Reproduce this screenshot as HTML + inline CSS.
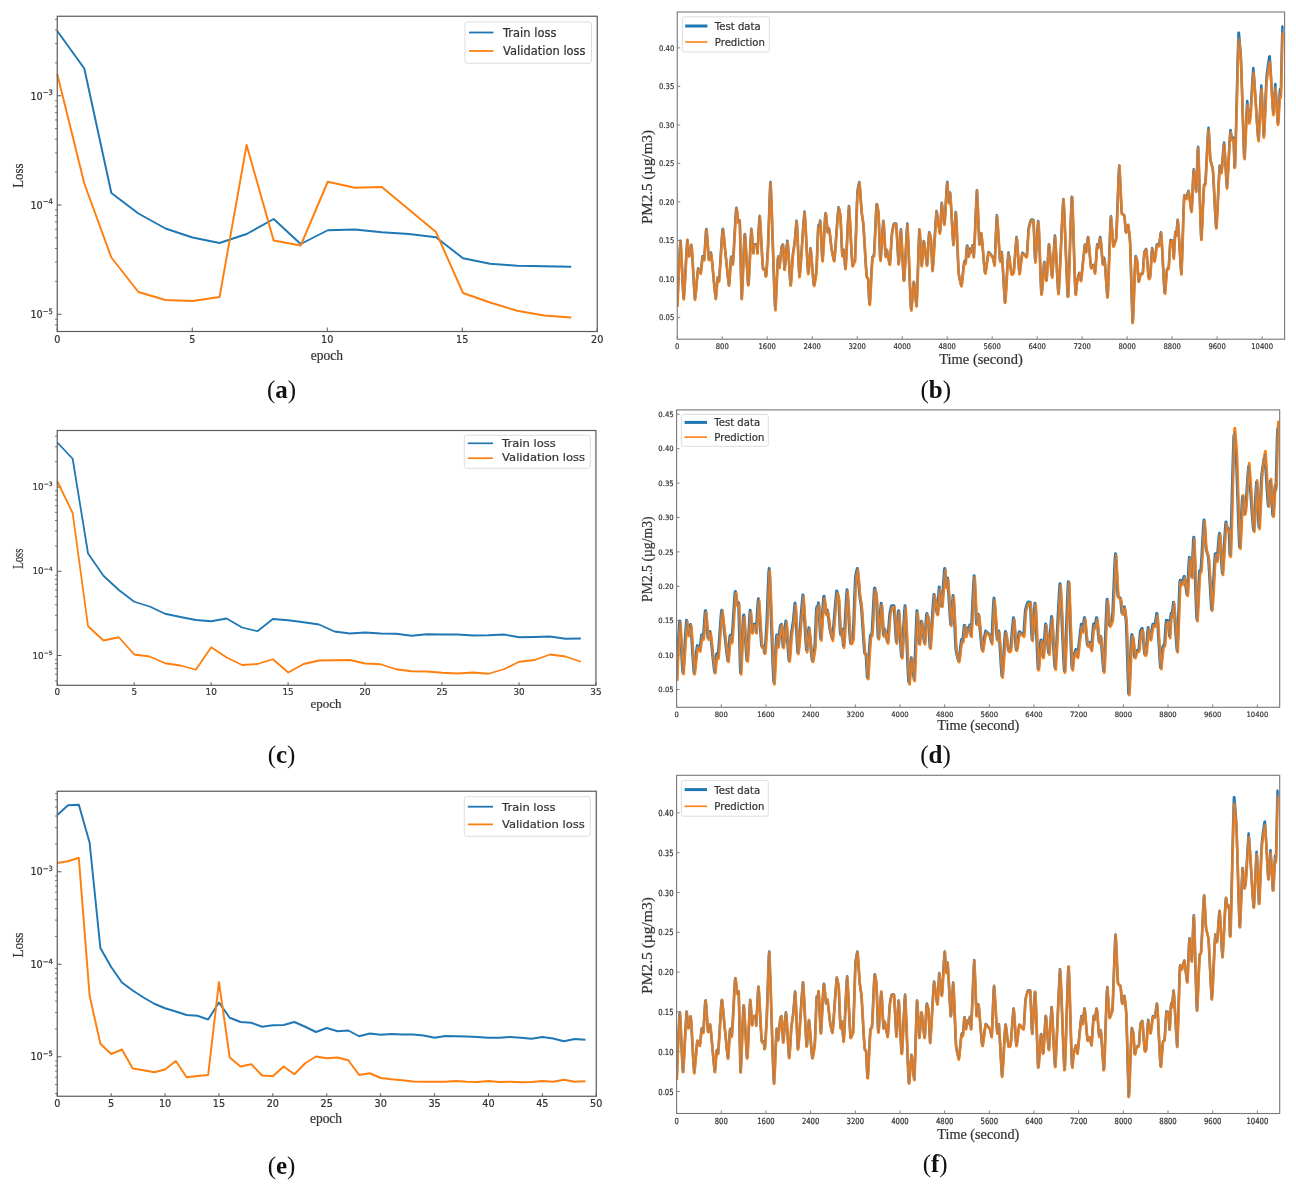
<!DOCTYPE html>
<html lang="en"><head><meta charset="utf-8"><title>Training loss and PM2.5 prediction</title>
<style>
html,body{margin:0;padding:0;background:#ffffff;}
body{width:1296px;height:1189px;overflow:hidden;}
svg{display:block;}
text{white-space:pre;}
</style></head>
<body>
<svg width="1296" height="1189" viewBox="0 0 1296 1189">
<rect x="0" y="0" width="1296" height="1189" fill="#ffffff"/>
<g>
<line x1="54.95" y1="324.84" x2="57.25" y2="324.84" stroke="#5a5a5a" stroke-width="0.8"/>
<line x1="54.95" y1="319.25" x2="57.25" y2="319.25" stroke="#5a5a5a" stroke-width="0.8"/>
<line x1="57.25" y1="314.25" x2="61.45" y2="314.25" stroke="#5a5a5a" stroke-width="1"/>
<text transform="translate(52.75,318.09) scale(1.000,1.100)" font-family="'DejaVu Sans','Liberation Sans',sans-serif" font-size="9.7" text-anchor="end" fill="#333333" stroke="#333333" stroke-width="0.22">10<tspan font-size="6.79" dy="-4.07">−5</tspan></text>
<line x1="54.95" y1="281.36" x2="57.25" y2="281.36" stroke="#5a5a5a" stroke-width="0.8"/>
<line x1="54.95" y1="262.12" x2="57.25" y2="262.12" stroke="#5a5a5a" stroke-width="0.8"/>
<line x1="54.95" y1="248.47" x2="57.25" y2="248.47" stroke="#5a5a5a" stroke-width="0.8"/>
<line x1="54.95" y1="237.89" x2="57.25" y2="237.89" stroke="#5a5a5a" stroke-width="0.8"/>
<line x1="54.95" y1="229.24" x2="57.25" y2="229.24" stroke="#5a5a5a" stroke-width="0.8"/>
<line x1="54.95" y1="221.92" x2="57.25" y2="221.92" stroke="#5a5a5a" stroke-width="0.8"/>
<line x1="54.95" y1="215.59" x2="57.25" y2="215.59" stroke="#5a5a5a" stroke-width="0.8"/>
<line x1="54.95" y1="210" x2="57.25" y2="210" stroke="#5a5a5a" stroke-width="0.8"/>
<line x1="57.25" y1="205" x2="61.45" y2="205" stroke="#5a5a5a" stroke-width="1"/>
<text transform="translate(52.75,208.84) scale(1.000,1.100)" font-family="'DejaVu Sans','Liberation Sans',sans-serif" font-size="9.7" text-anchor="end" fill="#333333" stroke="#333333" stroke-width="0.22">10<tspan font-size="6.79" dy="-4.07">−4</tspan></text>
<line x1="54.95" y1="172.11" x2="57.25" y2="172.11" stroke="#5a5a5a" stroke-width="0.8"/>
<line x1="54.95" y1="152.87" x2="57.25" y2="152.87" stroke="#5a5a5a" stroke-width="0.8"/>
<line x1="54.95" y1="139.22" x2="57.25" y2="139.22" stroke="#5a5a5a" stroke-width="0.8"/>
<line x1="54.95" y1="128.64" x2="57.25" y2="128.64" stroke="#5a5a5a" stroke-width="0.8"/>
<line x1="54.95" y1="119.99" x2="57.25" y2="119.99" stroke="#5a5a5a" stroke-width="0.8"/>
<line x1="54.95" y1="112.67" x2="57.25" y2="112.67" stroke="#5a5a5a" stroke-width="0.8"/>
<line x1="54.95" y1="106.34" x2="57.25" y2="106.34" stroke="#5a5a5a" stroke-width="0.8"/>
<line x1="54.95" y1="100.75" x2="57.25" y2="100.75" stroke="#5a5a5a" stroke-width="0.8"/>
<line x1="57.25" y1="95.75" x2="61.45" y2="95.75" stroke="#5a5a5a" stroke-width="1"/>
<text transform="translate(52.75,99.59) scale(1.000,1.100)" font-family="'DejaVu Sans','Liberation Sans',sans-serif" font-size="9.7" text-anchor="end" fill="#333333" stroke="#333333" stroke-width="0.22">10<tspan font-size="6.79" dy="-4.07">−3</tspan></text>
<line x1="54.95" y1="62.86" x2="57.25" y2="62.86" stroke="#5a5a5a" stroke-width="0.8"/>
<line x1="54.95" y1="43.62" x2="57.25" y2="43.62" stroke="#5a5a5a" stroke-width="0.8"/>
<line x1="54.95" y1="29.97" x2="57.25" y2="29.97" stroke="#5a5a5a" stroke-width="0.8"/>
<line x1="54.95" y1="19.39" x2="57.25" y2="19.39" stroke="#5a5a5a" stroke-width="0.8"/>
<line x1="57.25" y1="331.5" x2="57.25" y2="327.5" stroke="#5a5a5a" stroke-width="1"/>
<text transform="translate(57.25,343.4) scale(1.000,1.100)" font-family="'DejaVu Sans','Liberation Sans',sans-serif" font-size="9.7" text-anchor="middle" fill="#333333" stroke="#333333" stroke-width="0.22">0</text>
<line x1="192.25" y1="331.5" x2="192.25" y2="327.5" stroke="#5a5a5a" stroke-width="1"/>
<text transform="translate(192.25,343.4) scale(1.000,1.100)" font-family="'DejaVu Sans','Liberation Sans',sans-serif" font-size="9.7" text-anchor="middle" fill="#333333" stroke="#333333" stroke-width="0.22">5</text>
<line x1="327.25" y1="331.5" x2="327.25" y2="327.5" stroke="#5a5a5a" stroke-width="1"/>
<text transform="translate(327.25,343.4) scale(1.000,1.100)" font-family="'DejaVu Sans','Liberation Sans',sans-serif" font-size="9.7" text-anchor="middle" fill="#333333" stroke="#333333" stroke-width="0.22">10</text>
<line x1="462.25" y1="331.5" x2="462.25" y2="327.5" stroke="#5a5a5a" stroke-width="1"/>
<text transform="translate(462.25,343.4) scale(1.000,1.100)" font-family="'DejaVu Sans','Liberation Sans',sans-serif" font-size="9.7" text-anchor="middle" fill="#333333" stroke="#333333" stroke-width="0.22">15</text>
<line x1="597.25" y1="331.5" x2="597.25" y2="327.5" stroke="#5a5a5a" stroke-width="1"/>
<text transform="translate(597.25,343.4) scale(1.000,1.100)" font-family="'DejaVu Sans','Liberation Sans',sans-serif" font-size="9.7" text-anchor="middle" fill="#333333" stroke="#333333" stroke-width="0.22">20</text>
<polyline points="57.25,31 84.3,68.5 111.35,193 138.4,213.5 165.45,228.5 192.5,237.5 219.55,243 246.6,234 273.65,219 300.7,244 327.75,230.25 354.8,229.5 381.85,232.25 408.9,234 435.95,237.25 463,258.25 490.05,263.75 517.1,265.75 544.15,266.25 571.2,266.75" fill="none" stroke="#1f77b4" stroke-width="1.95" stroke-linejoin="round" stroke-linecap="butt"/>
<polyline points="57.25,74 84.3,183.5 111.35,257.5 138.4,292 165.45,300 192.5,301 219.55,297 246.6,145 273.65,240.5 300.7,245.5 327.75,181.75 354.8,187.75 381.85,187 408.9,209.5 435.95,232 463,293 490.05,302.5 517.1,310.75 544.15,315.5 571.2,317.5" fill="none" stroke="#ff7f0e" stroke-width="1.95" stroke-linejoin="round" stroke-linecap="butt"/>
<rect x="57.25" y="16.25" width="540" height="315.25" fill="none" stroke="#5a5a5a" stroke-width="1.2"/>
<rect x="465" y="22" width="126.5" height="41.25" rx="2" ry="2" fill="#ffffff" fill-opacity="0.8" stroke="#d4d4d4" stroke-width="0.8"/>
<line x1="469" y1="32.5" x2="493.5" y2="32.5" stroke="#1f77b4" stroke-width="1.8"/>
<text transform="translate(503,32.5) scale(1.000,1.050)" font-family="'DejaVu Sans','Liberation Sans',sans-serif" font-size="11.5" text-anchor="start" fill="#333333" stroke="#333333" stroke-width="0.22" dominant-baseline="central">Train loss</text>
<line x1="469" y1="51" x2="493.5" y2="51" stroke="#ff7f0e" stroke-width="1.8"/>
<text transform="translate(503,51) scale(1.000,1.050)" font-family="'DejaVu Sans','Liberation Sans',sans-serif" font-size="11.5" text-anchor="start" fill="#333333" stroke="#333333" stroke-width="0.22" dominant-baseline="central">Validation loss</text>
<text transform="translate(326.8,359.5) scale(0.900,1.000)" font-family="'Liberation Serif','DejaVu Serif',serif" font-size="15" text-anchor="middle" fill="#333333" stroke="#333333" stroke-width="0.22">epoch</text>
<text transform="translate(22.5,175.7) rotate(-90) scale(0.830,1.000)" font-family="'Liberation Serif','DejaVu Serif',serif" font-size="15.5" text-anchor="middle" fill="#333333" stroke="#333333" stroke-width="0.22">Loss</text>
<line x1="54.95" y1="680.86" x2="57.25" y2="680.86" stroke="#5a5a5a" stroke-width="0.8"/>
<line x1="54.95" y1="674.19" x2="57.25" y2="674.19" stroke="#5a5a5a" stroke-width="0.8"/>
<line x1="54.95" y1="668.55" x2="57.25" y2="668.55" stroke="#5a5a5a" stroke-width="0.8"/>
<line x1="54.95" y1="663.66" x2="57.25" y2="663.66" stroke="#5a5a5a" stroke-width="0.8"/>
<line x1="54.95" y1="659.36" x2="57.25" y2="659.36" stroke="#5a5a5a" stroke-width="0.8"/>
<line x1="57.25" y1="655.5" x2="61.45" y2="655.5" stroke="#5a5a5a" stroke-width="1"/>
<text transform="translate(52.75,658.51) scale(0.950,0.900)" font-family="'DejaVu Sans','Liberation Sans',sans-serif" font-size="9.3" text-anchor="end" fill="#333333" stroke="#333333" stroke-width="0.22">10<tspan font-size="6.51" dy="-3.91">−5</tspan></text>
<line x1="54.95" y1="630.14" x2="57.25" y2="630.14" stroke="#5a5a5a" stroke-width="0.8"/>
<line x1="54.95" y1="615.3" x2="57.25" y2="615.3" stroke="#5a5a5a" stroke-width="0.8"/>
<line x1="54.95" y1="604.78" x2="57.25" y2="604.78" stroke="#5a5a5a" stroke-width="0.8"/>
<line x1="54.95" y1="596.61" x2="57.25" y2="596.61" stroke="#5a5a5a" stroke-width="0.8"/>
<line x1="54.95" y1="589.94" x2="57.25" y2="589.94" stroke="#5a5a5a" stroke-width="0.8"/>
<line x1="54.95" y1="584.3" x2="57.25" y2="584.3" stroke="#5a5a5a" stroke-width="0.8"/>
<line x1="54.95" y1="579.41" x2="57.25" y2="579.41" stroke="#5a5a5a" stroke-width="0.8"/>
<line x1="54.95" y1="575.11" x2="57.25" y2="575.11" stroke="#5a5a5a" stroke-width="0.8"/>
<line x1="57.25" y1="571.25" x2="61.45" y2="571.25" stroke="#5a5a5a" stroke-width="1"/>
<text transform="translate(52.75,574.26) scale(0.950,0.900)" font-family="'DejaVu Sans','Liberation Sans',sans-serif" font-size="9.3" text-anchor="end" fill="#333333" stroke="#333333" stroke-width="0.22">10<tspan font-size="6.51" dy="-3.91">−4</tspan></text>
<line x1="54.95" y1="545.89" x2="57.25" y2="545.89" stroke="#5a5a5a" stroke-width="0.8"/>
<line x1="54.95" y1="531.05" x2="57.25" y2="531.05" stroke="#5a5a5a" stroke-width="0.8"/>
<line x1="54.95" y1="520.53" x2="57.25" y2="520.53" stroke="#5a5a5a" stroke-width="0.8"/>
<line x1="54.95" y1="512.36" x2="57.25" y2="512.36" stroke="#5a5a5a" stroke-width="0.8"/>
<line x1="54.95" y1="505.69" x2="57.25" y2="505.69" stroke="#5a5a5a" stroke-width="0.8"/>
<line x1="54.95" y1="500.05" x2="57.25" y2="500.05" stroke="#5a5a5a" stroke-width="0.8"/>
<line x1="54.95" y1="495.16" x2="57.25" y2="495.16" stroke="#5a5a5a" stroke-width="0.8"/>
<line x1="54.95" y1="490.86" x2="57.25" y2="490.86" stroke="#5a5a5a" stroke-width="0.8"/>
<line x1="57.25" y1="487" x2="61.45" y2="487" stroke="#5a5a5a" stroke-width="1"/>
<text transform="translate(52.75,490.01) scale(0.950,0.900)" font-family="'DejaVu Sans','Liberation Sans',sans-serif" font-size="9.3" text-anchor="end" fill="#333333" stroke="#333333" stroke-width="0.22">10<tspan font-size="6.51" dy="-3.91">−3</tspan></text>
<line x1="54.95" y1="461.64" x2="57.25" y2="461.64" stroke="#5a5a5a" stroke-width="0.8"/>
<line x1="54.95" y1="446.8" x2="57.25" y2="446.8" stroke="#5a5a5a" stroke-width="0.8"/>
<line x1="54.95" y1="436.28" x2="57.25" y2="436.28" stroke="#5a5a5a" stroke-width="0.8"/>
<line x1="57.25" y1="685.3" x2="57.25" y2="682.3" stroke="#5a5a5a" stroke-width="1"/>
<text transform="translate(57.25,695.39) scale(0.950,0.900)" font-family="'DejaVu Sans','Liberation Sans',sans-serif" font-size="9.3" text-anchor="middle" fill="#333333" stroke="#333333" stroke-width="0.22">0</text>
<line x1="134.21" y1="685.3" x2="134.21" y2="682.3" stroke="#5a5a5a" stroke-width="1"/>
<text transform="translate(134.21,695.39) scale(0.950,0.900)" font-family="'DejaVu Sans','Liberation Sans',sans-serif" font-size="9.3" text-anchor="middle" fill="#333333" stroke="#333333" stroke-width="0.22">5</text>
<line x1="211.16" y1="685.3" x2="211.16" y2="682.3" stroke="#5a5a5a" stroke-width="1"/>
<text transform="translate(211.16,695.39) scale(0.950,0.900)" font-family="'DejaVu Sans','Liberation Sans',sans-serif" font-size="9.3" text-anchor="middle" fill="#333333" stroke="#333333" stroke-width="0.22">10</text>
<line x1="288.12" y1="685.3" x2="288.12" y2="682.3" stroke="#5a5a5a" stroke-width="1"/>
<text transform="translate(288.12,695.39) scale(0.950,0.900)" font-family="'DejaVu Sans','Liberation Sans',sans-serif" font-size="9.3" text-anchor="middle" fill="#333333" stroke="#333333" stroke-width="0.22">15</text>
<line x1="365.08" y1="685.3" x2="365.08" y2="682.3" stroke="#5a5a5a" stroke-width="1"/>
<text transform="translate(365.08,695.39) scale(0.950,0.900)" font-family="'DejaVu Sans','Liberation Sans',sans-serif" font-size="9.3" text-anchor="middle" fill="#333333" stroke="#333333" stroke-width="0.22">20</text>
<line x1="442.04" y1="685.3" x2="442.04" y2="682.3" stroke="#5a5a5a" stroke-width="1"/>
<text transform="translate(442.04,695.39) scale(0.950,0.900)" font-family="'DejaVu Sans','Liberation Sans',sans-serif" font-size="9.3" text-anchor="middle" fill="#333333" stroke="#333333" stroke-width="0.22">25</text>
<line x1="518.99" y1="685.3" x2="518.99" y2="682.3" stroke="#5a5a5a" stroke-width="1"/>
<text transform="translate(518.99,695.39) scale(0.950,0.900)" font-family="'DejaVu Sans','Liberation Sans',sans-serif" font-size="9.3" text-anchor="middle" fill="#333333" stroke="#333333" stroke-width="0.22">30</text>
<line x1="595.95" y1="685.3" x2="595.95" y2="682.3" stroke="#5a5a5a" stroke-width="1"/>
<text transform="translate(595.95,695.39) scale(0.950,0.900)" font-family="'DejaVu Sans','Liberation Sans',sans-serif" font-size="9.3" text-anchor="middle" fill="#333333" stroke="#333333" stroke-width="0.22">35</text>
<polyline points="57.25,442.5 72.65,458.75 88.05,553.5 103.45,575.75 118.85,590 134.25,601.75 149.65,606.5 165.05,613.75 180.45,617 195.85,620 211.25,621.25 226.65,618.5 242.05,627.5 257.45,631.25 272.85,619 288.25,620.25 303.65,622.25 319.05,624.5 334.45,631.5 349.85,633.5 365.25,632.5 380.65,633.5 396.05,633.75 411.45,635.75 426.85,634.25 442.25,634.5 457.65,634.5 473.05,635.5 488.45,635.25 503.85,634.5 519.25,637.25 534.65,637 550.05,636.5 565.45,638.75 580.85,638.5" fill="none" stroke="#1f77b4" stroke-width="1.8" stroke-linejoin="round" stroke-linecap="butt"/>
<polyline points="57.25,481.25 72.65,513 88.05,626.25 103.45,640.5 118.85,637.25 134.25,654.5 149.65,656.5 165.05,663.25 180.45,665.5 195.85,669.75 211.25,647.25 226.65,657.5 242.05,665 257.45,664 272.85,659.25 288.25,672.5 303.65,664 319.05,660.5 334.45,660.25 349.85,660 365.25,663.5 380.65,664.25 396.05,669.25 411.45,671.25 426.85,671.5 442.25,672.75 457.65,673.5 473.05,672.5 488.45,673.75 503.85,669.25 519.25,661.75 534.65,660 550.05,654.5 565.45,656.5 580.85,661.75" fill="none" stroke="#ff7f0e" stroke-width="1.8" stroke-linejoin="round" stroke-linecap="butt"/>
<rect x="57.25" y="430.5" width="538.7" height="254.8" fill="none" stroke="#5a5a5a" stroke-width="1.2"/>
<rect x="464.3" y="435.3" width="126" height="33" rx="2" ry="2" fill="#ffffff" fill-opacity="0.8" stroke="#d4d4d4" stroke-width="0.8"/>
<line x1="467.8" y1="443.3" x2="493" y2="443.3" stroke="#1f77b4" stroke-width="1.7"/>
<text transform="translate(502.1,443.3) scale(1.000,0.870)" font-family="'DejaVu Sans','Liberation Sans',sans-serif" font-size="11.55" text-anchor="start" fill="#333333" stroke="#333333" stroke-width="0.22" dominant-baseline="central">Train loss</text>
<line x1="467.8" y1="458.2" x2="493" y2="458.2" stroke="#ff7f0e" stroke-width="1.7"/>
<text transform="translate(502.1,458.2) scale(1.000,0.870)" font-family="'DejaVu Sans','Liberation Sans',sans-serif" font-size="11.55" text-anchor="start" fill="#333333" stroke="#333333" stroke-width="0.22" dominant-baseline="central">Validation loss</text>
<text transform="translate(326,707.5) scale(1.000,0.930)" font-family="'Liberation Serif','DejaVu Serif',serif" font-size="13" text-anchor="middle" fill="#333333" stroke="#333333" stroke-width="0.22">epoch</text>
<text transform="translate(22.5,558.75) rotate(-90) scale(0.690,1.000)" font-family="'Liberation Serif','DejaVu Serif',serif" font-size="15.5" text-anchor="middle" fill="#333333" stroke="#333333" stroke-width="0.22">Loss</text>
<line x1="54.95" y1="1093.56" x2="57.25" y2="1093.56" stroke="#5a5a5a" stroke-width="0.8"/>
<line x1="54.95" y1="1084.6" x2="57.25" y2="1084.6" stroke="#5a5a5a" stroke-width="0.8"/>
<line x1="54.95" y1="1077.27" x2="57.25" y2="1077.27" stroke="#5a5a5a" stroke-width="0.8"/>
<line x1="54.95" y1="1071.08" x2="57.25" y2="1071.08" stroke="#5a5a5a" stroke-width="0.8"/>
<line x1="54.95" y1="1065.71" x2="57.25" y2="1065.71" stroke="#5a5a5a" stroke-width="0.8"/>
<line x1="54.95" y1="1060.98" x2="57.25" y2="1060.98" stroke="#5a5a5a" stroke-width="0.8"/>
<line x1="57.25" y1="1056.75" x2="61.45" y2="1056.75" stroke="#5a5a5a" stroke-width="1"/>
<text transform="translate(52.75,1060.42) scale(1.000,1.050)" font-family="'DejaVu Sans','Liberation Sans',sans-serif" font-size="9.7" text-anchor="end" fill="#333333" stroke="#333333" stroke-width="0.22">10<tspan font-size="6.79" dy="-4.07">−5</tspan></text>
<line x1="54.95" y1="1028.9" x2="57.25" y2="1028.9" stroke="#5a5a5a" stroke-width="0.8"/>
<line x1="54.95" y1="1012.62" x2="57.25" y2="1012.62" stroke="#5a5a5a" stroke-width="0.8"/>
<line x1="54.95" y1="1001.06" x2="57.25" y2="1001.06" stroke="#5a5a5a" stroke-width="0.8"/>
<line x1="54.95" y1="992.1" x2="57.25" y2="992.1" stroke="#5a5a5a" stroke-width="0.8"/>
<line x1="54.95" y1="984.77" x2="57.25" y2="984.77" stroke="#5a5a5a" stroke-width="0.8"/>
<line x1="54.95" y1="978.58" x2="57.25" y2="978.58" stroke="#5a5a5a" stroke-width="0.8"/>
<line x1="54.95" y1="973.21" x2="57.25" y2="973.21" stroke="#5a5a5a" stroke-width="0.8"/>
<line x1="54.95" y1="968.48" x2="57.25" y2="968.48" stroke="#5a5a5a" stroke-width="0.8"/>
<line x1="57.25" y1="964.25" x2="61.45" y2="964.25" stroke="#5a5a5a" stroke-width="1"/>
<text transform="translate(52.75,967.92) scale(1.000,1.050)" font-family="'DejaVu Sans','Liberation Sans',sans-serif" font-size="9.7" text-anchor="end" fill="#333333" stroke="#333333" stroke-width="0.22">10<tspan font-size="6.79" dy="-4.07">−4</tspan></text>
<line x1="54.95" y1="936.4" x2="57.25" y2="936.4" stroke="#5a5a5a" stroke-width="0.8"/>
<line x1="54.95" y1="920.12" x2="57.25" y2="920.12" stroke="#5a5a5a" stroke-width="0.8"/>
<line x1="54.95" y1="908.56" x2="57.25" y2="908.56" stroke="#5a5a5a" stroke-width="0.8"/>
<line x1="54.95" y1="899.6" x2="57.25" y2="899.6" stroke="#5a5a5a" stroke-width="0.8"/>
<line x1="54.95" y1="892.27" x2="57.25" y2="892.27" stroke="#5a5a5a" stroke-width="0.8"/>
<line x1="54.95" y1="886.08" x2="57.25" y2="886.08" stroke="#5a5a5a" stroke-width="0.8"/>
<line x1="54.95" y1="880.71" x2="57.25" y2="880.71" stroke="#5a5a5a" stroke-width="0.8"/>
<line x1="54.95" y1="875.98" x2="57.25" y2="875.98" stroke="#5a5a5a" stroke-width="0.8"/>
<line x1="57.25" y1="871.75" x2="61.45" y2="871.75" stroke="#5a5a5a" stroke-width="1"/>
<text transform="translate(52.75,875.42) scale(1.000,1.050)" font-family="'DejaVu Sans','Liberation Sans',sans-serif" font-size="9.7" text-anchor="end" fill="#333333" stroke="#333333" stroke-width="0.22">10<tspan font-size="6.79" dy="-4.07">−3</tspan></text>
<line x1="54.95" y1="843.9" x2="57.25" y2="843.9" stroke="#5a5a5a" stroke-width="0.8"/>
<line x1="54.95" y1="827.62" x2="57.25" y2="827.62" stroke="#5a5a5a" stroke-width="0.8"/>
<line x1="54.95" y1="816.06" x2="57.25" y2="816.06" stroke="#5a5a5a" stroke-width="0.8"/>
<line x1="54.95" y1="807.1" x2="57.25" y2="807.1" stroke="#5a5a5a" stroke-width="0.8"/>
<line x1="54.95" y1="799.77" x2="57.25" y2="799.77" stroke="#5a5a5a" stroke-width="0.8"/>
<line x1="54.95" y1="793.58" x2="57.25" y2="793.58" stroke="#5a5a5a" stroke-width="0.8"/>
<line x1="57.25" y1="1096.25" x2="57.25" y2="1093.25" stroke="#5a5a5a" stroke-width="1"/>
<text transform="translate(57.25,1107.49) scale(1.000,1.050)" font-family="'DejaVu Sans','Liberation Sans',sans-serif" font-size="9.7" text-anchor="middle" fill="#333333" stroke="#333333" stroke-width="0.22">0</text>
<line x1="111.15" y1="1096.25" x2="111.15" y2="1093.25" stroke="#5a5a5a" stroke-width="1"/>
<text transform="translate(111.15,1107.49) scale(1.000,1.050)" font-family="'DejaVu Sans','Liberation Sans',sans-serif" font-size="9.7" text-anchor="middle" fill="#333333" stroke="#333333" stroke-width="0.22">5</text>
<line x1="165.05" y1="1096.25" x2="165.05" y2="1093.25" stroke="#5a5a5a" stroke-width="1"/>
<text transform="translate(165.05,1107.49) scale(1.000,1.050)" font-family="'DejaVu Sans','Liberation Sans',sans-serif" font-size="9.7" text-anchor="middle" fill="#333333" stroke="#333333" stroke-width="0.22">10</text>
<line x1="218.95" y1="1096.25" x2="218.95" y2="1093.25" stroke="#5a5a5a" stroke-width="1"/>
<text transform="translate(218.95,1107.49) scale(1.000,1.050)" font-family="'DejaVu Sans','Liberation Sans',sans-serif" font-size="9.7" text-anchor="middle" fill="#333333" stroke="#333333" stroke-width="0.22">15</text>
<line x1="272.85" y1="1096.25" x2="272.85" y2="1093.25" stroke="#5a5a5a" stroke-width="1"/>
<text transform="translate(272.85,1107.49) scale(1.000,1.050)" font-family="'DejaVu Sans','Liberation Sans',sans-serif" font-size="9.7" text-anchor="middle" fill="#333333" stroke="#333333" stroke-width="0.22">20</text>
<line x1="326.75" y1="1096.25" x2="326.75" y2="1093.25" stroke="#5a5a5a" stroke-width="1"/>
<text transform="translate(326.75,1107.49) scale(1.000,1.050)" font-family="'DejaVu Sans','Liberation Sans',sans-serif" font-size="9.7" text-anchor="middle" fill="#333333" stroke="#333333" stroke-width="0.22">25</text>
<line x1="380.65" y1="1096.25" x2="380.65" y2="1093.25" stroke="#5a5a5a" stroke-width="1"/>
<text transform="translate(380.65,1107.49) scale(1.000,1.050)" font-family="'DejaVu Sans','Liberation Sans',sans-serif" font-size="9.7" text-anchor="middle" fill="#333333" stroke="#333333" stroke-width="0.22">30</text>
<line x1="434.55" y1="1096.25" x2="434.55" y2="1093.25" stroke="#5a5a5a" stroke-width="1"/>
<text transform="translate(434.55,1107.49) scale(1.000,1.050)" font-family="'DejaVu Sans','Liberation Sans',sans-serif" font-size="9.7" text-anchor="middle" fill="#333333" stroke="#333333" stroke-width="0.22">35</text>
<line x1="488.45" y1="1096.25" x2="488.45" y2="1093.25" stroke="#5a5a5a" stroke-width="1"/>
<text transform="translate(488.45,1107.49) scale(1.000,1.050)" font-family="'DejaVu Sans','Liberation Sans',sans-serif" font-size="9.7" text-anchor="middle" fill="#333333" stroke="#333333" stroke-width="0.22">40</text>
<line x1="542.35" y1="1096.25" x2="542.35" y2="1093.25" stroke="#5a5a5a" stroke-width="1"/>
<text transform="translate(542.35,1107.49) scale(1.000,1.050)" font-family="'DejaVu Sans','Liberation Sans',sans-serif" font-size="9.7" text-anchor="middle" fill="#333333" stroke="#333333" stroke-width="0.22">45</text>
<line x1="596.25" y1="1096.25" x2="596.25" y2="1093.25" stroke="#5a5a5a" stroke-width="1"/>
<text transform="translate(596.25,1107.49) scale(1.000,1.050)" font-family="'DejaVu Sans','Liberation Sans',sans-serif" font-size="9.7" text-anchor="middle" fill="#333333" stroke="#333333" stroke-width="0.22">50</text>
<polyline points="57.25,815 68.03,805.25 78.81,804.75 89.59,842.5 100.37,948 111.15,967 121.93,982.5 132.71,990.5 143.49,997.5 154.27,1003.75 165.05,1008.25 175.83,1011.5 186.61,1015 197.39,1015.75 208.17,1019.5 218.95,1002.5 229.73,1017.75 240.51,1022 251.29,1022.75 262.07,1026.75 272.85,1025.25 283.63,1025 294.41,1022 305.19,1026.75 315.97,1032 326.75,1028 337.53,1031.25 348.31,1030.5 359.09,1036.25 369.87,1033.5 380.65,1034.75 391.43,1034 402.21,1034.5 412.99,1034.5 423.77,1035.5 434.55,1037.75 445.33,1036 456.11,1036.25 466.89,1036.5 477.67,1037 488.45,1037.75 499.23,1037.75 510.01,1037 520.79,1037.75 531.57,1038.75 542.35,1037 553.13,1038.5 563.91,1041.25 574.69,1039 585.47,1039.75" fill="none" stroke="#1f77b4" stroke-width="1.95" stroke-linejoin="round" stroke-linecap="butt"/>
<polyline points="57.25,863 68.03,861.25 78.81,857.75 89.59,995.5 100.37,1043.75 111.15,1054 121.93,1049.5 132.71,1068.5 143.49,1070.25 154.27,1072.25 165.05,1069.5 175.83,1061 186.61,1077.25 197.39,1076 208.17,1075 218.95,982 229.73,1057.5 240.51,1066.5 251.29,1064.25 262.07,1075.5 272.85,1076.25 283.63,1066.5 294.41,1074.25 305.19,1063.25 315.97,1056.5 326.75,1058.25 337.53,1057.5 348.31,1060.25 359.09,1075 369.87,1073.25 380.65,1078 391.43,1079.25 402.21,1080.25 412.99,1081.5 423.77,1081.75 434.55,1081.75 445.33,1081.75 456.11,1081 466.89,1081.75 477.67,1082 488.45,1081 499.23,1082 510.01,1081.75 520.79,1082.25 531.57,1082 542.35,1081 553.13,1081.75 563.91,1079.75 574.69,1081.75 585.47,1081.25" fill="none" stroke="#ff7f0e" stroke-width="1.95" stroke-linejoin="round" stroke-linecap="butt"/>
<rect x="57.25" y="791.25" width="539" height="305" fill="none" stroke="#5a5a5a" stroke-width="1.2"/>
<rect x="464.3" y="796.7" width="126" height="39.55" rx="2" ry="2" fill="#ffffff" fill-opacity="0.8" stroke="#d4d4d4" stroke-width="0.8"/>
<line x1="467.8" y1="806.7" x2="493" y2="806.7" stroke="#1f77b4" stroke-width="1.8"/>
<text transform="translate(502.1,806.7) scale(1.000,0.980)" font-family="'DejaVu Sans','Liberation Sans',sans-serif" font-size="11.5" text-anchor="start" fill="#333333" stroke="#333333" stroke-width="0.22" dominant-baseline="central">Train loss</text>
<line x1="467.8" y1="824.4" x2="493" y2="824.4" stroke="#ff7f0e" stroke-width="1.8"/>
<text transform="translate(502.1,824.4) scale(1.000,0.980)" font-family="'DejaVu Sans','Liberation Sans',sans-serif" font-size="11.5" text-anchor="start" fill="#333333" stroke="#333333" stroke-width="0.22" dominant-baseline="central">Validation loss</text>
<text transform="translate(326,1123) scale(0.900,1.000)" font-family="'Liberation Serif','DejaVu Serif',serif" font-size="15" text-anchor="middle" fill="#333333" stroke="#333333" stroke-width="0.22">epoch</text>
<text transform="translate(22.5,945) rotate(-90) scale(0.850,1.000)" font-family="'Liberation Serif','DejaVu Serif',serif" font-size="15.5" text-anchor="middle" fill="#333333" stroke="#333333" stroke-width="0.22">Loss</text>
<clipPath id="c12"><rect x="677.25" y="12" width="607.35" height="327.2"/></clipPath>
<polyline points="677.3,306.1 677.7,295.38 678.1,285.24 678.5,275.71 678.9,266.8 679.3,258.54 679.7,250.94 680.1,244.03 680.5,240.68 680.9,247.11 681.3,254.71 681.7,263.06 682.1,271.72 682.5,280.28 682.9,288.31 683.3,295.38 683.7,298.63 684.1,293.24 684.5,286.93 684.9,279.97 685.3,272.64 685.7,265.21 686.1,257.94 686.5,251.12 686.9,245.02 687.3,239.9 687.7,243.41 688.1,247.83 688.5,252.34 688.9,256.15 689.3,255.64 689.7,253.55 690.1,251.2 690.5,248.8 690.9,246.56 691.3,244.69 691.7,247.94 692.1,253.7 692.5,260.24 692.9,267.25 693.3,274.45 693.7,281.54 694.1,288.23 694.5,294.21 694.9,299.2 695.3,296.1 695.7,292.34 696.1,288.16 696.5,283.75 696.9,279.34 697.3,275.16 697.7,271.4 698.1,268.3 698.5,268.96 698.9,269.78 699.3,270.69 699.7,271.6 700.1,272.44 700.5,273.15 700.9,271.08 701.3,267.35 701.7,263.26 702.1,259.39 702.5,256.3 702.9,257.35 703.3,258.67 703.7,259.95 704.1,259.63 704.5,254.4 704.9,248.15 705.3,241.5 705.7,235.09 706.1,229.55 706.5,229.19 706.9,233.76 707.3,239.06 707.7,244.71 708.1,250.31 708.5,255.47 708.9,259.79 709.3,259.63 709.7,257.83 710.1,255.86 710.5,253.99 710.9,252.5 711.3,255.45 711.7,258.89 712.1,262.71 712.5,266.81 712.9,271.11 713.3,275.5 713.7,279.89 714.1,284.19 714.5,288.29 714.9,292.11 715.3,295.55 715.7,298.5 716.1,294.61 716.5,289.74 716.9,284.59 717.3,279.89 717.7,277.32 718.1,278.5 718.5,279.82 718.9,280.9 719.3,276.45 719.7,271.16 720.1,265.25 720.5,258.95 720.9,252.48 721.3,246.06 721.7,239.93 722.1,234.3 722.5,229.4 722.9,228.71 723.3,231.92 723.7,235.55 724.1,239.49 724.5,243.61 724.9,247.81 725.3,251.96 725.7,255.94 726.1,259.71 726.5,263.6 726.9,267.58 727.3,271.54 727.7,275.39 728.1,279.02 728.5,282.34 728.9,285.25 729.3,282.38 729.7,276.5 730.1,269.97 730.5,263.54 730.9,257.94 731.3,256.64 731.7,259.06 732.1,261.74 732.5,264.16 732.9,262.66 733.3,256.96 733.7,250.39 734.1,243.24 734.5,235.8 734.9,228.36 735.3,221.21 735.7,214.64 736.1,208.94 736.5,207.72 736.9,210.76 737.3,214.25 737.7,217.8 738.1,220.99 738.5,222.75 738.9,221.98 739.3,221.11 739.7,220.4 740.1,234.93 740.5,253.16 740.9,272.4 741.3,289.95 741.7,298.79 742.1,291.21 742.5,282.24 742.9,272.4 743.3,262.23 743.7,252.26 744.1,243.03 744.5,235.05 744.9,234.01 745.3,239.41 745.7,245.63 746.1,252.4 746.5,259.45 746.9,266.5 747.3,273.27 747.7,279.49 748.1,284.89 748.5,284.28 748.9,277.33 749.3,269.27 749.7,260.58 750.1,251.71 750.5,243.14 750.9,235.31 751.3,228.71 751.7,230.98 752.1,237.19 752.5,243.91 752.9,250.12 753.3,253.06 753.7,249.05 754.1,245.04 754.5,244.3 754.9,244.3 755.3,244.3 755.7,244.3 756.1,244.3 756.5,244.3 756.9,247.04 757.3,253.1 757.7,247.5 758.1,240.54 758.5,232.94 758.9,225.43 759.3,218.74 759.7,215.87 760.1,221.3 760.5,227.7 760.9,234.74 761.3,242.1 761.7,249.46 762.1,256.5 762.5,262.9 762.9,268.33 763.3,269.42 763.7,269.29 764.1,269.15 764.5,269.01 764.9,268.9 765.3,272.29 765.7,276.19 766.1,275.49 766.5,270.31 766.9,264.37 767.3,257.98 767.7,251.43 768.1,243.05 768.5,231.83 768.9,219.9 769.3,207.92 769.7,196.55 770.1,186.45 770.5,182.06 770.9,190.85 771.3,200.94 771.7,212.05 772.1,223.91 772.5,236.25 772.9,248.79 773.3,261.27 773.7,273.4 774.1,284.92 774.5,295.55 774.9,305.02 775.3,309.75 775.7,302.86 776.1,294.66 776.5,285.73 776.9,276.65 777.3,268.01 777.7,260.39 778.1,256.52 778.5,260.84 778.9,265.58 779.3,267.76 779.7,264.73 780.1,261.12 780.5,257.22 780.9,253.29 781.3,249.59 781.7,246.39 782.1,245.32 782.5,244.86 782.9,244.48 783.3,248.71 783.7,256.03 784.1,263.57 784.5,269.6 784.9,266.28 785.3,262.23 785.7,257.72 786.1,253.04 786.5,248.47 786.9,244.27 787.3,240.75 787.7,243.36 788.1,248.74 788.5,254.84 788.9,261.35 789.3,267.94 789.7,274.28 790.1,280.06 790.5,284.95 790.9,282.57 791.3,277.02 791.7,270.81 792.1,264.44 792.5,258.42 792.9,254.15 793.3,251.23 793.7,248.44 794.1,245.68 794.5,242.84 794.9,239.5 795.3,234.68 795.7,229.6 796.1,224.75 796.5,220.65 796.9,224.71 797.3,232.67 797.7,241.7 798.1,251.18 798.5,260.51 798.9,269.08 799.3,276.29 799.7,274.88 800.1,270.42 800.5,265.43 800.9,260.03 801.3,254.32 801.7,248.43 802.1,242.46 802.5,236.54 802.9,230.78 803.3,225.28 803.7,220.18 804.1,215.58 804.5,211.6 804.9,216.99 805.3,223.42 805.7,230.61 806.1,238.26 806.5,246.09 806.9,253.81 807.3,261.14 807.7,267.79 808.1,273.47 808.5,271.91 808.9,267.29 809.3,262.11 809.7,256.87 810.1,252.06 810.5,248.2 810.9,251.75 811.3,256.01 811.7,260.78 812.1,265.82 812.5,270.92 812.9,275.85 813.3,280.4 813.7,284.33 814.1,285.12 814.5,283.13 814.9,280.9 815.3,278.44 815.7,275.81 816.1,273.04 816.5,268.8 816.9,259.09 817.3,248.22 817.7,237.44 818.1,228.02 818.5,224.93 818.9,226.82 819.3,227.36 819.7,223.9 820.1,220.44 820.5,224.48 820.9,232.26 821.3,240.95 821.7,249.64 822.1,257.42 822.5,260.91 822.9,255.34 823.3,248.75 823.7,241.52 824.1,234.04 824.5,226.72 824.9,219.92 825.3,214.06 825.7,213.04 826.1,216.59 826.5,220.7 826.9,224.96 827.3,228.97 827.7,232.31 828.1,231.89 828.5,230.02 828.9,228.32 829.3,229.91 829.7,232.94 830.1,236.34 830.5,239.94 830.9,243.56 831.3,247.02 831.7,249.9 832.1,251.91 832.5,253.93 832.9,255.89 833.3,257.73 833.7,259.38 834.1,260.8 834.5,257.01 834.9,252.58 835.3,247.63 835.7,242.32 836.1,236.8 836.5,231.2 836.9,225.68 837.3,220.37 837.7,215.42 838.1,210.99 838.5,207.2 838.9,208.55 839.3,210.14 839.7,211.93 840.1,213.87 840.5,217.23 840.9,225.79 841.3,235.48 841.7,245.14 842.1,253.59 842.5,255.96 842.9,253.26 843.3,250.46 843.7,249.66 844.1,254.02 844.5,259.2 844.9,264.38 845.3,268.74 845.7,265.38 846.1,258.69 846.5,251.11 846.9,242.97 847.3,234.61 847.7,226.39 848.1,218.63 848.5,211.69 848.9,205.9 849.3,211.34 849.7,217.87 850.1,225.16 850.5,232.9 850.9,240.76 851.3,248.41 851.7,255.55 852.1,261.83 852.5,265.64 852.9,264.94 853.3,264.15 853.7,263.27 854.1,262.32 854.5,261.29 854.9,260.2 855.3,250.86 855.7,239.77 856.1,227.71 856.5,215.48 856.9,203.86 857.3,193.64 857.7,189.65 858.1,187.43 858.5,185.37 858.9,183.55 859.3,182 859.7,186.14 860.1,191.14 860.5,196.64 860.9,202.33 861.3,207.86 861.7,212.9 862.1,215.8 862.5,218.53 862.9,221.27 863.3,224.2 863.7,230.03 864.1,236.43 864.5,243.18 864.9,250.07 865.3,256.89 865.7,263.43 866.1,269.49 866.5,274.85 866.9,277.3 867.3,277.48 867.7,277.64 868.1,279.29 868.5,286.88 868.9,295.66 869.3,303.68 869.7,304.2 870.1,297.98 870.5,290.78 870.9,283.05 871.3,275.23 871.7,267.79 872.1,261.16 872.5,256.9 872.9,256.55 873.3,256.24 873.7,255.9 874.1,252.63 874.5,245.3 874.9,236.89 875.3,227.97 875.7,219.17 876.1,211.05 876.5,204.23 876.9,204 877.3,205.87 877.7,208.01 878.1,210.35 878.5,214.39 878.9,224.66 879.3,236.29 879.7,247.87 880.1,258.01 880.5,260.04 880.9,255.13 881.3,249.44 881.7,243.3 882.1,237.04 882.5,230.98 882.9,225.46 883.3,220.79 883.7,223.92 884.1,230.76 884.5,238.4 884.9,246.04 885.3,252.88 885.7,256.36 886.1,252.9 886.5,249.44 886.9,250.04 887.3,252.06 887.7,254.29 888.1,256.48 888.5,258.5 888.9,260.58 889.3,262.57 889.7,264.25 890.1,261 890.5,255.11 890.9,248.54 891.3,241.88 891.7,235.71 892.1,231.87 892.5,229.63 892.9,227.52 893.3,225.6 893.7,223.96 894.1,223.6 894.5,223.6 894.9,223.6 895.3,223.6 895.7,223.6 896.1,223.6 896.5,229.12 896.9,235.93 897.3,243.44 897.7,251.03 898.1,258.08 898.5,263.98 898.9,261.08 899.3,254.24 899.7,246.6 900.1,238.96 900.5,232.12 900.9,229.29 901.3,235.35 901.7,242.52 902.1,250.38 902.5,258.5 902.9,266.47 903.3,273.85 903.7,280.22 904.1,280.28 904.5,274.11 904.9,266.98 905.3,259.24 905.7,251.25 906.1,243.33 906.5,235.86 906.9,229.16 907.3,223.6 907.7,230.87 908.1,239.51 908.5,249.17 908.9,259.47 909.3,270.05 909.7,280.54 910.1,290.56 910.5,299.76 910.9,307.76 911.3,309.49 911.7,305.36 912.1,300.56 912.5,295.46 912.9,290.4 913.3,285.73 913.7,281.82 914.1,283.22 914.5,286.83 914.9,290.93 915.3,295.21 915.7,299.38 916.1,303.14 916.5,306.2 916.9,297.37 917.3,286.58 917.7,274.58 918.1,262.12 918.5,249.94 918.9,238.78 919.3,229.38 919.7,231.73 920.1,238.92 920.5,246.95 920.9,254.98 921.3,262.17 921.7,265.61 922.1,261.24 922.5,256.01 922.9,250.49 923.3,245.26 923.7,240.89 924.1,241.88 924.5,244.9 924.9,248.32 925.3,251.97 925.7,255.67 926.1,259.23 926.5,262.47 926.9,265.21 927.3,261.83 927.7,255.22 928.1,247.87 928.5,240.62 928.9,234.33 929.3,232.35 929.7,233.64 930.1,235.14 930.5,236.79 930.9,239.69 931.3,247.21 931.7,255.66 932.1,263.78 932.5,270.3 932.9,265.65 933.3,260.15 933.7,254 934.1,247.43 934.5,240.65 934.9,233.87 935.3,227.3 935.7,221.15 936.1,215.65 936.5,211 936.9,213.09 937.3,215.67 937.7,218.41 938.1,221.1 938.5,224.07 938.9,227.14 939.3,230.07 939.7,232.63 940.1,230.98 940.5,224.09 940.9,216.28 941.3,208.78 941.7,202.8 942.1,205.68 942.5,209.23 942.9,213.15 943.3,217.14 943.7,220.91 944.1,224.16 944.5,223.15 944.9,217.52 945.3,210.99 945.7,203.99 946.1,196.93 946.5,190.24 946.9,184.35 947.3,181.88 947.7,187.95 948.1,195.02 948.5,201.49 948.9,202.4 949.3,198.26 949.7,193.95 950.1,192.56 950.5,197.94 950.9,204.28 951.3,211.26 951.7,218.55 952.1,225.84 952.5,232.82 952.9,239.16 953.3,244.54 953.7,242.22 954.1,236.48 954.5,230.01 954.9,223.4 955.3,217.23 955.7,212.06 956.1,216.21 956.5,224.55 956.9,233.97 957.3,243.92 957.7,253.87 958.1,263.26 958.5,271.56 958.9,275 959.3,277.08 959.7,279.07 960.1,280.94 960.5,282.69 960.9,284.27 961.3,285.68 961.7,283.95 962.1,280.63 962.5,276.87 962.9,272.9 963.3,268.96 963.7,265.29 964.1,262.12 964.5,261.15 964.9,262.05 965.3,262.95 965.7,261.34 966.1,256.33 966.5,250.77 966.9,245.76 967.3,245.47 967.7,249.82 968.1,254.33 968.5,256.63 968.9,254.79 969.3,252.6 969.7,250.41 970.1,248.57 970.5,249.24 970.9,250.96 971.3,251.62 971.7,249.64 972.1,247.33 972.5,245.22 972.9,246.56 973.3,252.14 973.7,257 974.1,250.29 974.5,242.18 974.9,233.12 975.3,223.6 975.7,214.08 976.1,205.02 976.5,196.91 976.9,190.2 977.3,197.56 977.7,206.66 978.1,216.67 978.5,226.79 978.9,236.2 979.3,244.07 979.7,243.64 980.1,240.15 980.5,236.43 980.9,233.1 981.3,233.37 981.7,237 982.1,241.16 982.5,245.71 982.9,250.48 983.3,255.32 983.7,260.09 984.1,264.64 984.5,268.8 984.9,272.43 985.3,273.03 985.7,270.74 986.1,268.09 986.5,265.22 986.9,262.26 987.3,259.32 987.7,256.55 988.1,254.06 988.5,252 988.9,252.35 989.3,252.73 989.7,253.15 990.1,253.59 990.5,254.06 990.9,254.56 991.3,255.07 991.7,255.6 992.1,256.15 992.5,256.71 992.9,257.76 993.3,259.53 993.7,261.4 994.1,263.17 994.5,264.6 994.9,257.24 995.3,248.08 995.7,238.09 996.1,228.21 996.5,219.42 996.9,215.12 997.3,219.88 997.7,225.49 998.1,231.65 998.5,238.1 998.9,244.55 999.3,250.71 999.7,256.32 1000.1,261.08 1000.5,260.37 1000.9,257.44 1001.3,254.42 1001.7,252 1002.1,257.02 1002.5,263.07 1002.9,269.82 1003.3,276.95 1003.7,284.12 1004.1,291 1004.5,297.26 1004.9,302.56 1005.3,300.17 1005.7,294.55 1006.1,288.17 1006.5,281.34 1006.9,274.36 1007.3,267.53 1007.7,261.15 1008.1,255.53 1008.5,252.5 1008.9,254.84 1009.3,257.6 1009.7,260.64 1010.1,263.79 1010.5,266.9 1010.9,269.82 1011.3,272.39 1011.7,273.95 1012.1,273.75 1012.5,273.51 1012.9,273.24 1013.3,272.95 1013.7,270.96 1014.1,266.64 1014.5,261.69 1014.9,256.39 1015.3,251.01 1015.7,245.81 1016.1,241.07 1016.5,237.06 1016.9,239.4 1017.3,244.59 1017.7,250.47 1018.1,256.65 1018.5,262.73 1018.9,268.32 1019.3,273.01 1019.7,272.26 1020.1,269.44 1020.5,266.25 1020.9,262.88 1021.3,259.53 1021.7,256.41 1022.1,253.72 1022.5,252.75 1022.9,253.09 1023.3,253.47 1023.7,253.9 1024.1,254.34 1024.5,254.8 1024.9,255.26 1025.3,255.7 1025.7,256.13 1026.1,256.51 1026.5,256.85 1026.9,254.63 1027.3,248.76 1027.7,242.05 1028.1,235.3 1028.5,229.29 1028.9,226.79 1029.3,225.22 1029.7,223.74 1030.1,222.37 1030.5,221.11 1030.9,220 1031.3,219.52 1031.7,219.56 1032.1,219.61 1032.5,219.66 1032.9,219.72 1033.3,219.78 1033.7,225.78 1034.1,235.82 1034.5,246.71 1034.9,256.75 1035.3,261.67 1035.7,256.83 1036.1,251.09 1036.5,244.81 1036.9,238.31 1037.3,231.94 1037.7,226.04 1038.1,220.94 1038.5,222.57 1038.9,231.54 1039.3,241.94 1039.7,253.15 1040.1,264.59 1040.5,275.66 1040.9,285.76 1041.3,294.28 1041.7,293.18 1042.1,288.45 1042.5,283.09 1042.9,277.44 1043.3,271.82 1043.7,266.59 1044.1,262.08 1044.5,261.92 1044.9,266.25 1045.3,271.2 1045.7,276.15 1046.1,280.48 1046.5,279.99 1046.9,274.64 1047.3,268.43 1047.7,261.82 1048.1,255.26 1048.5,249.23 1048.9,244.16 1049.3,245.82 1049.7,250.2 1050.1,255.18 1050.5,260.45 1050.9,265.72 1051.3,270.7 1051.7,275.08 1052.1,276.74 1052.5,271.71 1052.9,265.73 1053.3,259.21 1053.7,252.53 1054.1,246.11 1054.5,240.33 1054.9,235.6 1055.3,240.98 1055.7,247.43 1056.1,254.64 1056.5,262.29 1056.9,270.05 1057.3,277.62 1057.7,284.66 1058.1,290.88 1058.5,293.41 1058.9,287.19 1059.3,280.07 1059.7,272.24 1060.1,263.88 1060.5,255.15 1060.9,246.25 1061.3,237.35 1061.7,228.62 1062.1,220.26 1062.5,212.43 1062.9,205.31 1063.3,199.09 1063.7,202.86 1064.1,210.82 1064.5,219.79 1064.9,229.5 1065.3,239.69 1065.7,250.11 1066.1,260.49 1066.5,270.59 1066.9,280.13 1067.3,288.87 1067.7,296.54 1068.1,295.91 1068.5,286.69 1068.9,276.12 1069.3,264.57 1069.7,252.46 1070.1,240.14 1070.5,228.03 1070.9,216.49 1071.3,205.91 1071.7,196.69 1072.1,196.97 1072.5,206.98 1072.9,218.51 1073.3,231.05 1073.7,244.1 1074.1,257.15 1074.5,269.69 1074.9,281.22 1075.3,291.23 1075.7,293.97 1076.1,290.14 1076.5,285.87 1076.9,281.87 1077.3,279.77 1077.7,278.16 1078.1,276.62 1078.5,275.19 1078.9,273.9 1079.3,272.8 1079.7,274.76 1080.1,277.21 1080.5,279.6 1080.9,280.34 1081.3,277.33 1081.7,273.82 1082.1,269.99 1082.5,266.01 1082.9,262.06 1083.3,258.3 1083.7,254.62 1084.1,250.82 1084.5,247.28 1084.9,244.4 1085.3,246.76 1085.7,249.64 1086.1,252 1086.5,249.13 1086.9,245.53 1087.3,241.73 1087.7,238.26 1088.1,236.96 1088.5,240.51 1088.9,244.71 1089.3,249.32 1089.7,254.09 1090.1,258.76 1090.5,263.09 1090.9,266.83 1091.3,268.14 1091.7,267.51 1092.1,266.78 1092.5,266.03 1092.9,265.32 1093.3,264.72 1093.7,265.9 1094.1,268.11 1094.5,270.44 1094.9,272.41 1095.3,269.59 1095.7,264.26 1096.1,258.3 1096.5,252.34 1096.9,247.01 1097.3,244.14 1097.7,246 1098.1,247.86 1098.5,246.8 1098.9,244.47 1099.3,241.87 1099.7,239.31 1100.1,237.09 1100.5,237.95 1100.9,242.21 1101.3,247.15 1101.7,252.36 1102.1,257.4 1102.5,261.88 1102.9,264.22 1103.3,262.24 1103.7,259.93 1104.1,257.82 1104.5,258.96 1104.9,263.61 1105.3,268.99 1105.7,274.82 1106.1,280.78 1106.5,286.61 1106.9,291.99 1107.3,296.64 1107.7,294.81 1108.1,285.84 1108.5,275.46 1108.9,264.23 1109.3,252.66 1109.7,241.28 1110.1,230.65 1110.5,221.28 1110.9,216.29 1111.3,220.59 1111.7,225.72 1112.1,231.25 1112.5,236.72 1112.9,241.68 1113.3,245.7 1113.7,244.95 1114.1,244.1 1114.5,243.17 1114.9,242.15 1115.3,241.06 1115.7,239.91 1116.1,238.7 1116.5,230.52 1116.9,220.91 1117.3,210.38 1117.7,199.46 1118.1,188.68 1118.5,178.56 1118.9,169.61 1119.3,165.44 1119.7,172.33 1120.1,180.54 1120.5,189.39 1120.9,198.2 1121.3,206.26 1121.7,212.9 1122.1,213.35 1122.5,213.72 1122.9,214.06 1123.3,214.4 1123.7,214.75 1124.1,215.16 1124.5,217.25 1124.9,221.82 1125.3,226.79 1125.7,231.25 1126.1,232.35 1126.5,230.72 1126.9,228.84 1127.3,226.94 1127.7,225.23 1128.1,224.79 1128.5,227.48 1128.9,230.61 1129.3,234.06 1129.7,237.75 1130.1,243.32 1130.5,255.58 1130.9,269.36 1131.3,283.79 1131.7,297.99 1132.1,311.07 1132.5,322.15 1132.9,318.88 1133.3,309.81 1133.7,299.5 1134.1,288.63 1134.5,277.84 1134.9,267.78 1135.3,259.11 1135.7,255.99 1136.1,257.13 1136.5,258.47 1136.9,259.93 1137.3,263.26 1137.7,269.34 1138.1,275.69 1138.5,281.12 1138.9,281.14 1139.3,279.36 1139.7,277.4 1140.1,275.53 1140.5,274 1140.9,273.88 1141.3,273.77 1141.7,273.68 1142.1,273.58 1142.5,273.47 1142.9,271.25 1143.3,265.84 1143.7,259.84 1144.1,254.29 1144.5,251.59 1144.9,250.81 1145.3,250.1 1145.7,249.46 1146.1,248.92 1146.5,251.64 1146.9,256.3 1147.3,261.56 1147.7,266.99 1148.1,272.14 1148.5,276.58 1148.9,278.25 1149.3,277.89 1149.7,277.46 1150.1,276.03 1150.5,270.87 1150.9,264.82 1151.3,258.56 1151.7,252.76 1152.1,248.1 1152.5,250.04 1152.9,252.45 1153.3,255.08 1153.7,257.68 1154.1,260 1154.5,260.9 1154.9,258.47 1155.3,255.57 1155.7,252.46 1156.1,249.37 1156.5,246.57 1156.9,244.3 1157.3,244.65 1157.7,245.08 1158.1,245.53 1158.5,245.95 1158.9,245.71 1159.3,243.32 1159.7,240.46 1160.1,237.44 1160.5,234.58 1160.9,232.19 1161.3,235.63 1161.7,241.83 1162.1,248.86 1162.5,256.42 1162.9,264.23 1163.3,272.01 1163.7,279.46 1164.1,286.31 1164.5,292.25 1164.9,293.06 1165.3,288.81 1165.7,283.89 1166.1,278.77 1166.5,273.91 1166.9,269.77 1167.3,268.65 1167.7,268.37 1168.1,268.1 1168.5,267.79 1168.9,263.75 1169.3,257.22 1169.7,250.2 1170.1,243.74 1170.5,239.92 1170.9,240.02 1171.3,240.12 1171.7,240.25 1172.1,240.39 1172.5,241.52 1172.9,246.83 1173.3,252.77 1173.7,257.6 1174.1,251.4 1174.5,243.66 1174.9,236.13 1175.3,232.03 1175.7,233.84 1176.1,235.5 1176.5,231.99 1176.9,227.6 1177.3,223.21 1177.7,219.7 1178.1,224.48 1178.5,230.2 1178.9,236.59 1179.3,243.39 1179.7,250.31 1180.1,257.11 1180.5,263.5 1180.9,269.22 1181.3,274 1181.7,265.09 1182.1,254.2 1182.5,242.1 1182.9,229.53 1183.3,217.24 1183.7,205.98 1184.1,196.5 1184.5,195.12 1184.9,196.18 1185.3,197.32 1185.7,198.37 1186.1,198.76 1186.5,197.58 1186.9,196.17 1187.3,194.66 1187.7,193.16 1188.1,191.8 1188.5,190.7 1188.9,193.05 1189.3,195.92 1189.7,199.11 1190.1,202.44 1190.5,205.72 1190.9,208.77 1191.3,211.4 1191.7,209.24 1192.1,201.11 1192.5,191.75 1192.9,182.26 1193.3,173.72 1193.7,169.27 1194.1,172.49 1194.5,176.33 1194.9,180.47 1195.3,184.57 1195.7,188.29 1196.1,191.3 1196.5,182.83 1196.9,172.22 1197.3,161.01 1197.7,150.79 1198.1,146.88 1198.5,157.1 1198.9,169.18 1199.3,182.44 1199.7,196.2 1200.1,209.8 1200.5,222.55 1200.9,233.78 1201.3,239.33 1201.7,232.32 1202.1,223.99 1202.5,214.91 1202.9,205.69 1203.3,196.91 1203.7,189.17 1204.1,184.4 1204.5,184.4 1204.9,184.4 1205.3,183.08 1205.7,176.91 1206.1,169.63 1206.5,161.62 1206.9,153.32 1207.3,145.11 1207.7,137.41 1208.1,130.64 1208.5,127.68 1208.9,133.93 1209.3,141.35 1209.7,149.06 1210.1,156.16 1210.5,160.13 1210.9,161.83 1211.3,163.36 1211.7,164.83 1212.1,166.33 1212.5,167.95 1212.9,170.76 1213.3,177.21 1213.7,184.44 1214.1,192.15 1214.5,200.06 1214.9,207.88 1215.3,215.32 1215.7,222.1 1216.1,227.93 1216.5,224.98 1216.9,218.29 1217.3,210.71 1217.7,202.57 1218.1,194.21 1218.5,185.99 1218.9,178.23 1219.3,171.29 1219.7,165.5 1220.1,167.05 1220.5,169 1220.9,170.99 1221.3,172.67 1221.7,170.1 1222.1,165.35 1222.5,159.99 1222.9,154.41 1223.3,149.05 1223.7,144.3 1224.1,142.56 1224.5,148.06 1224.9,154.58 1225.3,161.71 1225.7,169 1226.1,176.02 1226.5,182.33 1226.9,187.5 1227.3,182.23 1227.7,175.91 1228.1,168.85 1228.5,161.36 1228.9,153.75 1229.3,146.34 1229.7,139.43 1230.1,133.34 1230.5,129.95 1230.9,132.24 1231.3,134.93 1231.7,137.49 1232.1,138.92 1232.5,138.53 1232.9,138.08 1233.3,137.66 1233.7,142.28 1234.1,154.7 1234.5,167.12 1234.9,166.49 1235.3,153.93 1235.7,139.52 1236.1,123.79 1236.5,107.31 1236.9,90.63 1237.3,74.28 1237.7,58.84 1238.1,44.83 1238.5,32.83 1238.9,32.86 1239.3,36.99 1239.7,41.62 1240.1,46.62 1240.5,51.83 1240.9,57.1 1241.3,68.44 1241.7,81.01 1242.1,94.36 1242.5,108.03 1242.9,121.59 1243.3,134.57 1243.7,146.54 1244.1,157.04 1244.5,158.39 1244.9,150.67 1245.3,141.72 1245.7,132.12 1246.1,122.44 1246.5,113.28 1246.9,105.2 1247.3,101.1 1247.7,105.62 1248.1,111 1248.5,116.38 1248.9,120.9 1249.3,120.54 1249.7,118.48 1250.1,116.18 1250.5,112.24 1250.9,106.09 1251.3,99.37 1251.7,92.37 1252.1,85.43 1252.5,78.82 1252.9,72.88 1253.3,67.9 1253.7,72.28 1254.1,77.35 1254.5,82.97 1254.9,89.02 1255.3,95.36 1255.7,101.89 1256.1,108.45 1256.5,114.94 1256.9,121.23 1257.3,127.18 1257.7,132.67 1258.1,137.58 1258.5,139.42 1258.9,132.91 1259.3,125.19 1259.7,116.74 1260.1,108.06 1260.5,99.61 1260.9,91.89 1261.3,85.38 1261.7,89.37 1262.1,98.22 1262.5,108.19 1262.9,118.38 1263.3,127.9 1263.7,135.86 1264.1,132.3 1264.5,124 1264.9,114.66 1265.3,104.78 1265.7,94.91 1266.1,85.57 1266.5,77.3 1266.9,73.99 1267.3,70.74 1267.7,67.58 1268.1,64.56 1268.5,61.71 1268.9,59.07 1269.3,56.69 1269.7,56.27 1270.1,61.66 1270.5,67.99 1270.9,74.96 1271.3,82.29 1271.7,89.7 1272.1,96.89 1272.5,103.57 1272.9,109.47 1273.3,112.17 1273.7,107.08 1274.1,100.99 1274.5,94.63 1274.9,88.73 1275.3,84 1275.7,89.22 1276.1,95.66 1276.5,102.78 1276.9,110.03 1277.3,116.87 1277.7,122.77 1278.1,122.44 1278.5,115.57 1278.9,107.67 1279.3,99.64 1279.7,92.43 1280.1,89.02 1280.5,93.95 1280.9,89.45 1281.3,72.77 1281.7,54.05 1282.1,36.55 1282.5,26.2 1282.9,26.2" fill="none" stroke="#1f77b4" stroke-width="2.5" stroke-linejoin="round" stroke-linecap="butt" clip-path="url(#c12)"/>
<polyline points="677.5,306.9 677.9,296.08 678.3,285.8 678.7,276.21 679.1,267.38 679.5,259.05 679.9,251.53 680.3,244.68 680.7,241.57 681.1,248.37 681.5,255.72 681.9,263.99 682.3,272.66 682.7,281.05 683.1,289.23 683.5,296.39 683.9,299.51 684.3,293.8 684.7,287.5 685.1,280.95 685.5,273.67 685.9,266.14 686.3,258.93 686.7,251.95 687.1,245.34 687.5,239.85 687.9,243.36 688.3,247.75 688.7,252.33 689.1,256.46 689.5,256.21 689.9,254.28 690.3,251.97 690.7,249.48 691.1,247.24 691.5,245.33 691.9,248.41 692.3,254.2 692.7,260.86 693.1,267.81 693.5,275.01 693.9,282.38 694.3,289.32 694.7,295.17 695.1,299.86 695.5,296.69 695.9,293.27 696.3,289.06 696.7,284.12 697.1,279.91 697.5,276.14 697.9,272.26 698.3,269.15 698.7,270.19 699.1,271.01 699.5,271.57 699.9,272.32 700.3,273.08 700.7,273.84 701.1,271.93 701.5,268.36 701.9,264.21 702.3,260.26 702.7,257.28 703.1,258.35 703.5,259.38 703.9,260.51 704.3,260.33 704.7,254.91 705.1,248.55 705.5,242.19 705.9,236.12 706.3,230.5 706.7,229.9 707.1,234.86 707.5,240.32 707.9,245.54 708.3,250.92 708.7,256.02 709.1,260.21 709.5,259.84 709.9,258.05 710.3,256.42 710.7,255 711.1,253.6 711.5,255.97 711.9,259.09 712.3,263.22 712.7,267.53 713.1,271.86 713.5,276.08 713.9,280.26 714.3,284.75 714.7,289.2 715.1,292.92 715.5,296.23 715.9,299.19 716.3,295.09 716.7,290.25 717.1,285.19 717.5,280.25 717.9,277.67 718.3,279.13 718.7,280.55 719.1,281.54 719.5,276.94 719.9,271.53 720.3,266.07 720.7,260.25 721.1,253.62 721.5,247.04 721.9,240.89 722.3,235.45 722.7,230.66 723.1,229.65 723.5,232.44 723.9,236.05 724.3,240.18 724.7,244.06 725.1,248.32 725.5,253.09 725.9,257.22 726.3,260.62 726.7,264.24 727.1,268.21 727.5,272.26 727.9,275.92 728.3,279.31 728.7,282.8 729.1,285.81 729.5,282.71 729.9,276.89 730.3,270.85 730.7,264.72 731.1,258.95 731.5,257.66 731.9,260.15 732.3,262.41 732.7,264.74 733.1,263.66 733.5,258.12 733.9,251.09 734.3,243.55 734.7,236.52 735.1,229.37 735.5,222.14 735.9,215.72 736.3,210.1 736.7,208.55 737.1,211.11 737.5,214.51 737.9,218.29 738.3,221.54 738.7,223.19 739.1,222.46 739.5,221.89 739.9,221.42 740.3,235.76 740.7,253.83 741.1,273.28 741.5,290.61 741.9,299.1 742.3,291.6 742.7,282.49 743.1,272.8 743.5,263.19 743.9,253.23 744.3,243.62 744.7,235.59 745.1,234.55 745.5,239.86 745.9,246.26 746.3,253.24 746.7,260.34 747.1,267.2 747.5,273.8 747.9,280.15 748.3,285.45 748.7,284.56 749.1,277.56 749.5,269.69 749.9,261.33 750.3,252.66 750.7,243.85 751.1,235.77 751.5,229.32 751.9,231.96 752.3,238.16 752.7,244.63 753.1,250.8 753.5,253.53 753.9,249.15 754.3,245.22 754.7,244.74 755.1,244.85 755.5,244.85 755.9,244.93 756.3,244.98 756.7,244.72 757.1,247.4 757.5,253.74 757.9,248.28 758.3,241.32 758.7,233.76 759.1,226.26 759.5,219.25 759.9,216.31 760.3,222.29 760.7,228.86 761.1,235.71 761.5,243.3 761.9,250.84 762.3,257.59 762.7,263.46 763.1,268.41 763.5,269.5 763.9,269.76 764.3,269.92 764.7,269.72 765.1,269.51 765.5,272.82 765.9,276.64 766.3,276.05 766.7,271.05 767.1,265.33 767.5,258.84 767.9,251.99 768.3,243.44 768.7,232.19 769.1,220.41 769.5,208.47 769.9,197.31 770.3,187.5 770.7,183.09 771.1,192.06 771.5,202.43 771.9,213.39 772.3,224.98 772.7,236.95 773.1,249.29 773.5,261.82 773.9,273.59 774.3,284.95 774.7,296.15 775.1,305.81 775.5,310.46 775.9,303.79 776.3,295.5 776.7,286.27 777.1,277.28 777.5,268.89 777.9,261.14 778.3,257.07 778.7,261.35 779.1,265.93 779.5,267.98 779.9,265.04 780.3,261.69 780.7,257.9 781.1,253.91 781.5,250.3 781.9,247.03 782.3,245.83 782.7,245.5 783.1,245.25 783.5,249.58 783.9,256.97 784.3,264.28 784.7,269.97 785.1,266.9 785.5,263.27 785.9,258.38 786.3,253.29 786.7,249.2 787.1,245.58 787.5,241.98 787.9,244.3 788.3,249.63 788.7,255.76 789.1,262.1 789.5,268.76 789.9,275.32 790.3,281.04 790.7,285.73 791.1,283.01 791.5,277.31 791.9,271.28 792.3,265.1 792.7,259.02 793.1,254.6 793.5,251.73 793.9,249.25 794.3,246.62 794.7,243.66 795.1,240.33 795.5,235.45 795.9,230.27 796.3,225.68 796.7,221.47 797.1,225.12 797.5,233.5 797.9,242.92 798.3,252.2 798.7,261.54 799.1,270.22 799.5,277.31 799.9,275.91 800.3,271.64 800.7,266.62 801.1,261.04 801.5,255.16 801.9,249.05 802.3,243.11 802.7,237.32 803.1,231.48 803.5,226.04 803.9,221.2 804.3,216.66 804.7,212.43 805.1,217.49 805.5,223.85 805.9,231.14 806.3,239.1 806.7,247.5 807.1,255.36 807.5,262.28 807.9,268.64 808.3,274.17 808.7,272.64 809.1,268.16 809.5,262.77 809.9,257.43 810.3,252.84 810.7,249.04 811.1,252.61 811.5,257 811.9,261.88 812.3,266.95 812.7,271.96 813.1,276.7 813.5,281.19 813.9,285.22 814.3,286.05 814.7,284.1 815.1,282.06 815.5,279.73 815.9,276.85 816.3,273.93 816.7,269.82 817.1,260.1 817.5,248.84 817.9,238 818.3,229.02 818.7,226.04 819.1,227.64 819.5,228.13 819.9,224.93 820.3,221.4 820.7,225.12 821.1,232.79 821.5,241.68 821.9,250.64 822.3,258.2 822.7,261.37 823.1,255.99 823.5,249.77 823.9,242.47 824.3,234.59 824.7,227.08 825.1,220.47 825.5,214.78 825.9,213.69 826.3,217.19 826.7,221.34 827.1,225.48 827.5,229.26 827.9,232.54 828.3,232.21 828.7,230.55 829.1,229.08 829.5,230.63 829.9,233.65 830.3,237.13 830.7,240.67 831.1,244.28 831.5,247.6 831.9,250.55 832.3,252.93 832.7,254.89 833.1,256.57 833.5,258.29 833.9,259.88 834.3,261.44 834.7,257.79 835.1,253.44 835.5,248.73 835.9,243.45 836.3,237.71 836.7,231.91 837.1,226.39 837.5,221.29 837.9,216.5 838.3,211.97 838.7,207.86 839.1,208.95 839.5,210.79 839.9,213.17 840.3,215.3 840.7,218.44 841.1,226.92 841.5,236.75 841.9,246.28 842.3,254.41 842.7,256.48 843.1,253.73 843.5,251.23 843.9,250.53 844.3,254.65 844.7,259.44 845.1,264.42 845.5,269.13 845.9,266.44 846.3,259.92 846.7,251.91 847.1,243.41 847.5,234.88 847.9,226.79 848.3,219.27 848.7,212.33 849.1,206.74 849.5,212.38 849.9,218.61 850.3,225.84 850.7,233.98 851.1,241.87 851.5,249.33 851.9,256.38 852.3,262.67 852.7,266.38 853.1,265.47 853.5,264.63 853.9,263.77 854.3,263.01 854.7,262.18 855.1,261.2 855.5,252 855.9,240.65 856.3,228.36 856.7,216.27 857.1,204.76 857.5,194.52 857.9,190.46 858.3,188.29 858.7,186.16 859.1,184.14 859.5,182.69 859.9,186.86 860.3,191.72 860.7,197.35 861.1,203.06 861.5,208.17 861.9,213.11 862.3,216.42 862.7,219.26 863.1,221.88 863.5,225.06 863.9,231 864.3,236.83 864.7,243.35 865.1,250.7 865.5,257.69 865.9,264.28 866.3,270.58 866.7,275.85 867.1,278.05 867.5,278.12 867.9,278.28 868.3,280.05 868.7,287.74 869.1,296.46 869.5,304.38 869.9,304.98 870.3,298.91 870.7,291.72 871.1,283.67 871.5,275.61 871.9,268.31 872.3,261.84 872.7,257.76 873.1,257.43 873.5,256.93 873.9,256.72 874.3,253.63 874.7,246.25 875.1,238.07 875.5,229.63 875.9,220.99 876.3,212.48 876.7,205.04 877.1,204.47 877.5,206.22 877.9,208.53 878.3,211.32 878.7,215.29 879.1,225.33 879.5,237.13 879.9,248.89 880.3,259.09 880.7,260.91 881.1,255.74 881.5,250.25 881.9,244.33 882.3,237.98 882.7,231.68 883.1,225.92 883.5,221.31 883.9,224.75 884.3,231.67 884.7,239.11 885.1,246.93 885.5,254.01 885.9,257.15 886.3,253.42 886.7,249.99 887.1,250.81 887.5,253.12 887.9,255.4 888.3,257.6 888.7,259.62 889.1,261.59 889.5,263.39 889.9,265 890.3,261.83 890.7,256.02 891.1,249.43 891.5,242.61 891.9,236.48 892.3,232.79 892.7,230.5 893.1,228.48 893.5,226.76 893.9,224.88 894.3,224.11 894.7,224.28 895.1,224.5 895.5,224.53 895.9,224.65 896.3,224.3 896.7,229.54 897.1,236.61 897.5,243.7 897.9,250.87 898.3,258.29 898.7,264.48 899.1,261.83 899.5,255.28 899.9,247.6 900.3,239.58 900.7,232.65 901.1,230.18 901.5,236.29 901.9,243.13 902.3,250.72 902.7,258.95 903.1,267.16 903.5,274.6 903.9,280.89 904.3,280.64 904.7,274.41 905.1,267.61 905.5,260.13 905.9,252.39 906.3,244.51 906.7,236.7 907.1,229.97 907.5,224.72 907.9,231.89 908.3,240.39 908.7,250.29 909.1,260.49 909.5,270.66 909.9,280.95 910.3,291.16 910.7,300.66 911.1,308.84 911.5,310.74 911.9,306.4 912.3,301.2 912.7,296.03 913.1,290.98 913.5,286.21 913.9,282.24 914.3,283.59 914.7,287.27 915.1,291.61 915.5,296.18 915.9,300.36 916.3,303.79 916.7,306.39 917.1,297.34 917.5,286.97 917.9,275.31 918.3,262.78 918.7,250.55 919.1,239.27 919.5,229.72 919.9,231.95 920.3,239.06 920.7,247.3 921.1,255.89 921.5,263.26 921.9,266.46 922.3,262.15 922.7,257.15 923.1,251.47 923.5,245.94 923.9,241.63 924.3,242.77 924.7,245.81 925.1,249.01 925.5,252.31 925.9,255.85 926.3,259.49 926.7,263.04 927.1,265.78 927.5,262.52 927.9,256.49 928.3,249.12 928.7,241.52 929.1,235.16 929.5,233.19 929.9,234.65 930.3,236.14 930.7,237.61 931.1,240.75 931.5,248.58 931.9,256.74 932.3,264.46 932.7,271.15 933.1,266.7 933.5,261.22 933.9,255.02 934.3,247.96 934.7,241.04 935.1,234.64 935.5,228.02 935.9,221.65 936.3,216.2 936.7,211.71 937.1,213.79 937.5,216.4 937.9,219.41 938.3,222.47 938.7,225.58 939.1,228.47 939.5,231.25 939.9,233.66 940.3,231.78 940.7,224.8 941.1,216.89 941.5,209.29 941.9,203.59 942.3,206.6 942.7,210.17 943.1,213.99 943.5,217.54 943.9,221.34 944.3,224.94 944.7,224 945.1,218.38 945.5,211.67 945.9,204.54 946.3,197.71 946.7,191.18 947.1,185.34 947.5,183.07 947.9,189.14 948.3,195.75 948.7,202.19 949.1,203.35 949.5,199.03 949.9,194.79 950.3,193.65 950.7,199 951.1,205.21 951.5,211.88 951.9,219 952.3,226.68 952.7,233.93 953.1,240.09 953.5,245.3 953.9,243.08 954.3,237.41 954.7,230.74 955.1,223.91 955.5,217.76 955.9,212.69 956.3,216.71 956.7,225.24 957.1,234.77 957.5,244.31 957.9,254.34 958.3,264.13 958.7,272.52 959.1,275.88 959.5,277.62 959.9,279.63 960.3,281.76 960.7,283.37 961.1,284.91 961.5,286.55 961.9,284.88 962.3,281.32 962.7,277.64 963.1,274.03 963.5,270.15 963.9,266.34 964.3,263.04 964.7,262.11 965.1,263.27 965.5,264.18 965.9,262.59 966.3,257.68 966.7,251.86 967.1,246.7 967.5,246.62 967.9,250.87 968.3,254.8 968.7,256.98 969.1,255.54 969.5,253.45 969.9,251.44 970.3,249.82 970.7,250.23 971.1,251.86 971.5,252.6 971.9,250.41 972.3,248.05 972.7,246.01 973.1,247.4 973.5,252.88 973.9,257.5 974.3,250.77 974.7,242.62 975.1,233.58 975.5,224.24 975.9,214.62 976.3,205.27 976.7,197.12 977.1,190.54 977.5,198.04 977.9,207.48 978.3,217.64 978.7,227.47 979.1,236.68 979.5,244.72 979.9,244.42 980.3,240.89 980.7,237.16 981.1,233.51 981.5,233.7 981.9,237.95 982.3,242.28 982.7,246.53 983.1,251.27 983.5,256.33 983.9,261.22 984.3,265.55 984.7,269.57 985.1,273.11 985.5,273.69 985.9,271.61 986.3,268.98 986.7,266.21 987.1,263.2 987.5,259.9 987.9,257.21 988.3,254.67 988.7,252.55 989.1,253.3 989.5,253.97 989.9,254.2 990.3,254.46 990.7,255.06 991.1,255.41 991.5,255.99 991.9,256.76 992.3,257.12 992.7,257.62 993.1,258.77 993.5,260.32 993.9,262.1 994.3,264.25 994.7,265.88 995.1,258.39 995.5,249.22 995.9,239.36 996.3,229.56 996.7,220.71 997.1,215.99 997.5,220.43 997.9,226.36 998.3,232.85 998.7,239.41 999.1,245.69 999.5,251.09 999.9,256.46 1000.3,261.9 1000.7,261.5 1001.1,258.23 1001.5,255.19 1001.9,253.07 1002.3,258.22 1002.7,264.39 1003.1,271.11 1003.5,277.79 1003.9,284.56 1004.3,291.58 1004.7,297.83 1005.1,302.96 1005.5,301.08 1005.9,295.9 1006.3,288.97 1006.7,281.81 1007.1,275.13 1007.5,268.26 1007.9,262.03 1008.3,256.84 1008.7,253.83 1009.1,256.06 1009.5,258.75 1009.9,261.42 1010.3,264.29 1010.7,267.49 1011.1,270.51 1011.5,273.13 1011.9,274.79 1012.3,274.76 1012.7,274.52 1013.1,273.99 1013.5,273.65 1013.9,271.93 1014.3,267.7 1014.7,262.32 1015.1,256.8 1015.5,251.65 1015.9,246.37 1016.3,241.57 1016.7,237.76 1017.1,240.07 1017.5,245.19 1017.9,251.32 1018.3,257.65 1018.7,263.73 1019.1,269.53 1019.5,274.47 1019.9,273.4 1020.3,270.13 1020.7,266.59 1021.1,263.25 1021.5,260.29 1021.9,257.12 1022.3,254.52 1022.7,253.88 1023.1,254.17 1023.5,254.29 1023.9,254.62 1024.3,255.21 1024.7,255.48 1025.1,255.58 1025.5,256.18 1025.9,257.08 1026.3,257.33 1026.7,257.24 1027.1,255.19 1027.5,249.65 1027.9,243.05 1028.3,236.2 1028.7,230.16 1029.1,227.91 1029.5,226.53 1029.9,224.95 1030.3,223.38 1030.7,222.25 1031.1,221.27 1031.5,220.44 1031.9,220.26 1032.3,220.35 1032.7,220.43 1033.1,220.56 1033.5,220.49 1033.9,226.57 1034.3,236.78 1034.7,247.43 1035.1,257.45 1035.5,262.6 1035.9,257.63 1036.3,251.75 1036.7,245.67 1037.1,239.23 1037.5,232.87 1037.9,227.14 1038.3,222.07 1038.7,223.65 1039.1,232.63 1039.5,242.78 1039.9,253.56 1040.3,264.87 1040.7,276.01 1041.1,286.19 1041.5,294.63 1041.9,293.42 1042.3,289.09 1042.7,284.14 1043.1,278.48 1043.5,272.57 1043.9,267.37 1044.3,263.14 1044.7,262.73 1045.1,266.84 1045.5,271.76 1045.9,276.44 1046.3,280.78 1046.7,280.75 1047.1,275.62 1047.5,269.29 1047.9,262.72 1048.3,256.25 1048.7,250.03 1049.1,244.89 1049.5,246.72 1049.9,250.94 1050.3,255.58 1050.7,260.98 1051.1,266.62 1051.5,271.54 1051.9,275.84 1052.3,277.77 1052.7,272.79 1053.1,266.47 1053.5,259.71 1053.9,253.19 1054.3,246.84 1054.7,241.22 1055.1,236.84 1055.5,241.91 1055.9,247.78 1056.3,255.07 1056.7,263.12 1057.1,270.93 1057.5,278.3 1057.9,285.36 1058.3,291.78 1058.7,294.22 1059.1,287.71 1059.5,280.48 1059.9,272.72 1060.3,264.6 1060.7,256.08 1061.1,247.3 1061.5,238.45 1061.9,229.45 1062.3,220.63 1062.7,212.7 1063.1,205.58 1063.5,199.31 1063.9,203.39 1064.3,211.83 1064.7,221.03 1065.1,230.76 1065.5,240.82 1065.9,251.03 1066.3,261.22 1066.7,271.21 1067.1,280.69 1067.5,289.26 1067.9,296.93 1068.3,296.71 1068.7,287.66 1069.1,276.66 1069.5,265.06 1069.9,253.3 1070.3,240.8 1070.7,228.37 1071.1,216.74 1071.5,206.14 1071.9,197.19 1072.3,197.53 1072.7,207.42 1073.1,219.11 1073.5,231.88 1073.9,245.05 1074.3,257.98 1074.7,270.38 1075.1,281.87 1075.5,292.06 1075.9,295.05 1076.3,291.3 1076.7,286.82 1077.1,282.69 1077.5,281.02 1077.9,279.53 1078.3,277.61 1078.7,276.13 1079.1,274.74 1079.5,273.29 1079.9,275.36 1080.3,278.13 1080.7,280.6 1081.1,281.16 1081.5,278.01 1081.9,274.79 1082.3,271.14 1082.7,266.93 1083.1,262.63 1083.5,258.74 1083.9,255.27 1084.3,251.53 1084.7,247.79 1085.1,244.99 1085.5,247.64 1085.9,250.45 1086.3,252.37 1086.7,249.29 1087.1,245.78 1087.5,241.86 1087.9,238.53 1088.3,237.72 1088.7,241.26 1089.1,245.19 1089.5,249.87 1089.9,254.84 1090.3,259.72 1090.7,264.18 1091.1,267.53 1091.5,268.45 1091.9,268.04 1092.3,267.48 1092.7,266.69 1093.1,266 1093.5,265.36 1093.9,266.64 1094.3,269.16 1094.7,271.71 1095.1,273.72 1095.5,270.81 1095.9,265.36 1096.3,259.11 1096.7,252.99 1097.1,247.84 1097.5,244.95 1097.9,246.53 1098.3,248.21 1098.7,247.63 1099.1,245.83 1099.5,243 1099.9,240.36 1100.3,238.27 1100.7,238.9 1101.1,242.91 1101.5,247.89 1101.9,253.18 1102.3,258 1102.7,262.2 1103.1,264.79 1103.5,263.33 1103.9,261.13 1104.3,258.95 1104.7,260.07 1105.1,264.46 1105.5,269.85 1105.9,275.97 1106.3,281.78 1106.7,287.44 1107.1,293 1107.5,297.73 1107.9,295.54 1108.3,286.11 1108.7,275.64 1109.1,264.73 1109.5,253.69 1109.9,242.46 1110.3,231.51 1110.7,222.04 1111.1,217.22 1111.5,221.42 1111.9,226.27 1112.3,231.75 1112.7,237.55 1113.1,242.87 1113.5,246.96 1113.9,245.99 1114.3,245.01 1114.7,243.95 1115.1,242.65 1115.5,241.76 1115.9,240.8 1116.3,239.22 1116.7,231.09 1117.1,221.87 1117.5,211.27 1117.9,200.34 1118.3,189.85 1118.7,179.53 1119.1,170.25 1119.5,166.15 1119.9,173.27 1120.3,181.75 1120.7,190.47 1121.1,198.72 1121.5,206.91 1121.9,214 1122.3,214.35 1122.7,214.47 1123.1,214.79 1123.5,215.18 1123.9,215.49 1124.3,215.92 1124.7,218 1125.1,222.33 1125.5,227.04 1125.9,231.46 1126.3,232.74 1126.7,231.34 1127.1,229.66 1127.5,227.79 1127.9,225.93 1128.3,225.31 1128.7,227.96 1129.1,231.04 1129.5,234.35 1129.9,238.3 1130.3,244.38 1130.7,256.69 1131.1,270.38 1131.5,284.59 1131.9,298.71 1132.3,312.09 1132.7,323.17 1133.1,319.56 1133.5,310.3 1133.9,300.23 1134.3,289.7 1134.7,278.97 1135.1,268.69 1135.5,259.8 1135.9,256.68 1136.3,257.84 1136.7,259.07 1137.1,260.35 1137.5,263.69 1137.9,270.27 1138.3,276.78 1138.7,281.85 1139.1,281.79 1139.5,280.15 1139.9,278.1 1140.3,276.06 1140.7,274.52 1141.1,274.34 1141.5,274.31 1141.9,274.28 1142.3,274 1142.7,273.98 1143.1,271.74 1143.5,266.21 1143.9,260.26 1144.3,254.53 1144.7,251.82 1145.1,251.21 1145.5,250.59 1145.9,250.15 1146.3,249.8 1146.7,252.43 1147.1,256.97 1147.5,262.29 1147.9,267.68 1148.3,272.81 1148.7,277.39 1149.1,279.13 1149.5,278.72 1149.9,278.22 1150.3,276.75 1150.7,271.52 1151.1,265.42 1151.5,259.36 1151.9,253.66 1152.3,248.81 1152.7,250.78 1153.1,253.3 1153.5,255.8 1153.9,258.33 1154.3,260.75 1154.7,261.87 1155.1,259.59 1155.5,256.62 1155.9,253.41 1156.3,250.32 1156.7,247.68 1157.1,245.59 1157.5,245.67 1157.9,245.67 1158.3,246 1158.7,246.44 1159.1,246.34 1159.5,243.95 1159.9,240.82 1160.3,237.7 1160.7,234.99 1161.1,232.84 1161.5,236.57 1161.9,243.1 1162.3,250.04 1162.7,257.15 1163.1,264.86 1163.5,272.68 1163.9,279.96 1164.3,286.74 1164.7,292.95 1165.1,293.82 1165.5,289.41 1165.9,284.44 1166.3,278.96 1166.7,273.79 1167.1,269.92 1167.5,269.03 1167.9,268.77 1168.3,268.89 1168.7,268.93 1169.1,264.66 1169.5,257.73 1169.9,250.57 1170.3,244.26 1170.7,240.71 1171.1,240.89 1171.5,240.74 1171.9,240.63 1172.3,241.02 1172.7,242.64 1173.1,247.94 1173.5,253.87 1173.9,258.85 1174.3,252.16 1174.7,244.17 1175.1,236.88 1175.5,232.64 1175.9,234.15 1176.3,235.81 1176.7,232.51 1177.1,228.23 1177.5,223.71 1177.9,220.23 1178.3,225.18 1178.7,230.88 1179.1,237.53 1179.5,244.4 1179.9,250.85 1180.3,257.53 1180.7,264.16 1181.1,269.97 1181.5,274.56 1181.9,265.53 1182.3,254.82 1182.7,242.9 1183.1,230.37 1183.5,217.79 1183.9,206.24 1184.3,196.78 1184.7,195.6 1185.1,196.95 1185.5,198.07 1185.9,198.9 1186.3,199.21 1186.7,198.34 1187.1,197.43 1187.5,195.75 1187.9,193.81 1188.3,192.47 1188.7,191.71 1189.1,194.16 1189.5,196.74 1189.9,199.82 1190.3,203.24 1190.7,206.48 1191.1,209.42 1191.5,212.1 1191.9,210.16 1192.3,202.08 1192.7,192.42 1193.1,182.9 1193.5,174.67 1193.9,170.37 1194.3,173.46 1194.7,177.11 1195.1,181.34 1195.5,185.38 1195.9,188.91 1196.3,192.03 1196.7,183.67 1197.1,173.35 1197.5,162.25 1197.9,151.84 1198.3,147.96 1198.7,157.84 1199.1,170.05 1199.5,183.59 1199.9,197.25 1200.3,210.31 1200.7,222.91 1201.1,234.31 1201.5,240.02 1201.9,233.33 1202.3,225.11 1202.7,215.65 1203.1,206.1 1203.5,197.43 1203.9,189.93 1204.3,185.19 1204.7,185.08 1205.1,185.13 1205.5,183.97 1205.9,177.8 1206.3,170.62 1206.7,162.57 1207.1,154.04 1207.5,146.25 1207.9,138.97 1208.3,132.52 1208.7,129.75 1209.1,135.53 1209.5,142.86 1209.9,150.89 1210.3,157.75 1210.7,161.21 1211.1,162.41 1211.5,163.77 1211.9,165.27 1212.3,166.92 1212.7,168.76 1213.1,171.5 1213.5,177.83 1213.9,185.27 1214.3,193.16 1214.7,201.03 1215.1,208.79 1215.5,216.04 1215.9,222.65 1216.3,228.54 1216.7,225.53 1217.1,218.79 1217.5,211.33 1217.9,202.94 1218.3,194.47 1218.7,186.66 1219.1,178.96 1219.5,171.89 1219.9,166.09 1220.3,167.59 1220.7,169.61 1221.1,171.67 1221.5,173.18 1221.9,170.42 1222.3,165.92 1222.7,160.92 1223.1,155.33 1223.5,150.19 1223.9,145.79 1224.3,144.15 1224.7,149.55 1225.1,155.66 1225.5,162.36 1225.9,169.42 1226.3,176.38 1226.7,182.93 1227.1,188.63 1227.5,183.64 1227.9,177.03 1228.3,169.64 1228.7,161.9 1229.1,154.05 1229.5,147.03 1229.9,140.98 1230.3,135.61 1230.7,132.38 1231.1,134.5 1231.5,136.88 1231.9,139.03 1232.3,140.34 1232.7,139.81 1233.1,139.32 1233.5,139.21 1233.9,143.81 1234.3,155.68 1234.7,167.94 1235.1,166.97 1235.5,154.37 1235.9,140.84 1236.3,126.16 1236.7,110.72 1237.1,94.69 1237.5,78.99 1237.9,64.46 1238.3,51.13 1238.7,39.69 1239.1,39.72 1239.5,43.38 1239.9,47.92 1240.3,52.96 1240.7,57.82 1241.1,62.55 1241.5,73.1 1241.9,85.28 1242.3,98.12 1242.7,110.98 1243.1,123.9 1243.5,136.28 1243.9,147.7 1244.3,157.82 1244.7,159.18 1245.1,151.71 1245.5,143.3 1245.9,134.37 1246.3,124.95 1246.7,115.8 1247.1,108.21 1247.5,104.79 1247.9,109.21 1248.3,114.04 1248.7,118.97 1249.1,123.41 1249.5,123.35 1249.9,121.31 1250.3,119.03 1250.7,115.13 1251.1,108.93 1251.5,102.57 1251.9,96.05 1252.3,89.52 1252.7,83.18 1253.1,77.43 1253.5,72.82 1253.9,77.34 1254.3,82.44 1254.7,87.77 1255.1,93.63 1255.5,99.55 1255.9,105.19 1256.3,111.25 1256.7,117.74 1257.1,123.68 1257.5,129.29 1257.9,134.93 1258.3,139.55 1258.7,141.15 1259.1,135.19 1259.5,127.89 1259.9,119.69 1260.3,111.34 1260.7,103.07 1261.1,95.39 1261.5,89.27 1261.9,93.62 1262.3,102.51 1262.7,111.75 1263.1,121.08 1263.5,130.05 1263.9,137.61 1264.3,134.28 1264.7,126.4 1265.1,117.57 1265.5,108.21 1265.9,98.68 1266.3,89.65 1266.7,81.6 1267.1,78.4 1267.5,75.47 1267.9,72.57 1268.3,69.72 1268.7,67.12 1269.1,64.7 1269.5,62.41 1269.9,62.1 1270.3,67.56 1270.7,73.54 1271.1,79.79 1271.5,86.72 1271.9,93.73 1272.3,100.46 1272.7,106.9 1273.1,112.67 1273.5,115.29 1273.9,110.27 1274.3,104.34 1274.7,98.1 1275.1,92.49 1275.5,88.34 1275.9,93.51 1276.3,99.77 1276.7,106.29 1277.1,112.9 1277.5,119.51 1277.9,124.98 1278.3,124.52 1278.7,118.12 1279.1,110.81 1279.5,103.26 1279.9,96.6 1280.3,93.53 1280.7,97.84 1281.1,93.21 1281.5,77.56 1281.9,60.03 1282.3,43.22 1282.7,33.25 1283.1,33.33" fill="none" stroke="#ff7f0e" stroke-width="2.6" stroke-linejoin="round" stroke-linecap="butt" clip-path="url(#c12)"/>
<polyline points="677.4,306.5 677.8,295.73 678.2,285.52 678.6,275.96 679,267.09 679.4,258.79 679.8,251.23 680.2,244.35 680.6,241.12 681,247.74 681.4,255.22 681.8,263.52 682.2,272.19 682.6,280.67 683,288.77 683.4,295.88 683.8,299.07 684.2,293.52 684.6,287.21 685,280.46 685.4,273.16 685.8,265.67 686.2,258.44 686.6,251.54 687,245.18 687.4,239.88 687.8,243.38 688.2,247.79 688.6,252.33 689,256.31 689.4,255.92 689.8,253.91 690.2,251.59 690.6,249.14 691,246.9 691.4,245.01 691.8,248.17 692.2,253.95 692.6,260.55 693,267.53 693.4,274.73 693.8,281.96 694.2,288.78 694.6,294.69 695,299.53 695.4,296.39 695.8,292.81 696.2,288.61 696.6,283.94 697,279.63 697.4,275.65 697.8,271.83 698.2,268.72 698.6,269.58 699,270.4 699.4,271.13 699.8,271.96 700.2,272.76 700.6,273.5 701,271.5 701.4,267.85 701.8,263.74 702.2,259.82 702.6,256.79 703,257.85 703.4,259.02 703.8,260.23 704.2,259.98 704.6,254.66 705,248.35 705.4,241.85 705.8,235.6 706.2,230.02 706.6,229.55 707,234.31 707.4,239.69 707.8,245.12 708.2,250.61 708.6,255.74 709,260 709.4,259.73 709.8,257.94 710.2,256.14 710.6,254.5 711,253.05 711.4,255.71 711.8,258.99 712.2,262.96 712.6,267.17 713,271.48 713.4,275.79 713.8,280.07 714.2,284.47 714.6,288.75 715,292.52 715.4,295.89 715.8,298.85 716.2,294.85 716.6,289.99 717,284.89 717.4,280.07 717.8,277.5 718.2,278.81 718.6,280.19 719,281.22 719.4,276.7 719.8,271.35 720.2,265.66 720.6,259.6 721,253.05 721.4,246.55 721.8,240.41 722.2,234.88 722.6,230.03 723,229.18 723.4,232.18 723.8,235.8 724.2,239.83 724.6,243.84 725,248.06 725.4,252.53 725.8,256.58 726.2,260.16 726.6,263.92 727,267.89 727.4,271.9 727.8,275.65 728.2,279.17 728.6,282.57 729,285.53 729.4,282.54 729.8,276.7 730.2,270.41 730.6,264.13 731,258.45 731.4,257.15 731.8,259.6 732.2,262.07 732.6,264.45 733,263.16 733.4,257.54 733.8,250.74 734.2,243.4 734.6,236.16 735,228.86 735.4,221.68 735.8,215.18 736.2,209.52 736.6,208.14 737,210.93 737.4,214.38 737.8,218.05 738.2,221.26 738.6,222.97 739,222.22 739.4,221.5 739.8,220.91 740.2,235.34 740.6,253.49 741,272.84 741.4,290.28 741.8,298.94 742.2,291.41 742.6,282.36 743,272.6 743.4,262.71 743.8,252.74 744.2,243.32 744.6,235.32 745,234.28 745.4,239.63 745.8,245.95 746.2,252.82 746.6,259.89 747,266.85 747.4,273.53 747.8,279.82 748.2,285.17 748.6,284.42 749,277.44 749.4,269.48 749.8,260.96 750.2,252.19 750.6,243.49 751,235.54 751.4,229.01 751.8,231.47 752.2,237.67 752.6,244.27 753,250.46 753.4,253.29 753.8,249.1 754.2,245.13 754.6,244.52 755,244.57 755.4,244.58 755.8,244.62 756.2,244.64 756.6,244.51 757,247.22 757.4,253.42 757.8,247.89 758.2,240.93 758.6,233.35 759,225.85 759.4,218.99 759.8,216.09 760.2,221.8 760.6,228.28 761,235.22 761.4,242.7 761.8,250.15 762.2,257.05 762.6,263.18 763,268.37 763.4,269.46 763.8,269.52 764.2,269.53 764.6,269.36 765,269.2 765.4,272.56 765.8,276.42 766.2,275.77 766.6,270.68 767,264.85 767.4,258.41 767.8,251.71 768.2,243.24 768.6,232.01 769,220.15 769.4,208.19 769.8,196.93 770.2,186.98 770.6,182.58 771,191.46 771.4,201.68 771.8,212.72 772.2,224.44 772.6,236.6 773,249.04 773.4,261.54 773.8,273.5 774.2,284.93 774.6,295.85 775,305.42 775.4,310.11 775.8,303.32 776.2,295.08 776.6,286 777,276.97 777.4,268.45 777.8,260.77 778.2,256.79 778.6,261.1 779,265.76 779.4,267.87 779.8,264.88 780.2,261.41 780.6,257.56 781,253.6 781.4,249.94 781.8,246.71 782.2,245.58 782.6,245.18 783,244.86 783.4,249.14 783.8,256.5 784.2,263.92 784.6,269.78 785,266.59 785.4,262.75 785.8,258.05 786.2,253.17 786.6,248.83 787,244.92 787.4,241.36 787.8,243.83 788.2,249.18 788.6,255.3 789,261.72 789.4,268.35 789.8,274.8 790.2,280.55 790.6,285.34 791,282.79 791.4,277.16 791.8,271.04 792.2,264.77 792.6,258.72 793,254.38 793.4,251.48 793.8,248.84 794.2,246.15 794.6,243.25 795,239.92 795.4,235.06 795.8,229.93 796.2,225.22 796.6,221.06 797,224.91 797.4,233.08 797.8,242.31 798.2,251.69 798.6,261.03 799,269.65 799.4,276.8 799.8,275.39 800.2,271.03 800.6,266.03 801,260.53 801.4,254.74 801.8,248.74 802.2,242.79 802.6,236.93 803,231.13 803.4,225.66 803.8,220.69 804.2,216.12 804.6,212.01 805,217.24 805.4,223.64 805.8,230.88 806.2,238.68 806.6,246.8 807,254.59 807.4,261.71 807.8,268.22 808.2,273.82 808.6,272.27 809,267.73 809.4,262.44 809.8,257.15 810.2,252.45 810.6,248.62 811,252.18 811.4,256.51 811.8,261.33 812.2,266.39 812.6,271.44 813,276.28 813.4,280.79 813.8,284.77 814.2,285.58 814.6,283.62 815,281.48 815.4,279.09 815.8,276.33 816.2,273.49 816.6,269.31 817,259.59 817.4,248.53 817.8,237.72 818.2,228.52 818.6,225.49 819,227.23 819.4,227.74 819.8,224.41 820.2,220.92 820.6,224.8 821,232.52 821.4,241.32 821.8,250.14 822.2,257.81 822.6,261.14 823,255.67 823.4,249.26 823.8,242 824.2,234.32 824.6,226.9 825,220.2 825.4,214.42 825.8,213.36 826.2,216.89 826.6,221.02 827,225.22 827.4,229.11 827.8,232.42 828.2,232.05 828.6,230.29 829,228.7 829.4,230.27 829.8,233.29 830.2,236.73 830.6,240.31 831,243.92 831.4,247.31 831.8,250.23 832.2,252.42 832.6,254.41 833,256.23 833.4,258.01 833.8,259.63 834.2,261.12 834.6,257.4 835,253.01 835.4,248.18 835.8,242.89 836.2,237.26 836.6,231.55 837,226.03 837.4,220.83 837.8,215.96 838.2,211.48 838.6,207.53 839,208.75 839.4,210.46 839.8,212.55 840.2,214.58 840.6,217.83 841,226.35 841.4,236.11 841.8,245.71 842.2,254 842.6,256.22 843,253.5 843.4,250.84 843.8,250.1 844.2,254.33 844.6,259.32 845,264.4 845.4,268.93 845.8,265.91 846.2,259.31 846.6,251.51 847,243.19 847.4,234.75 847.8,226.59 848.2,218.95 848.6,212.01 849,206.32 849.4,211.86 849.8,218.24 850.2,225.5 850.6,233.44 851,241.32 851.4,248.87 851.8,255.96 852.2,262.25 852.6,266.01 853,265.21 853.4,264.39 853.8,263.52 854.2,262.67 854.6,261.74 855,260.7 855.4,251.43 855.8,240.21 856.2,228.03 856.6,215.87 857,204.31 857.4,194.08 857.8,190.06 858.2,187.86 858.6,185.77 859,183.84 859.4,182.35 859.8,186.5 860.2,191.43 860.6,197 861,202.69 861.4,208.02 861.8,213.01 862.2,216.11 862.6,218.89 863,221.57 863.4,224.63 863.8,230.52 864.2,236.63 864.6,243.26 865,250.38 865.4,257.29 865.8,263.86 866.2,270.03 866.6,275.35 867,277.68 867.4,277.8 867.8,277.96 868.2,279.67 868.6,287.31 869,296.06 869.4,304.03 869.8,304.59 870.2,298.44 870.6,291.25 871,283.36 871.4,275.42 871.8,268.05 872.2,261.5 872.6,257.33 873,256.99 873.4,256.58 873.8,256.31 874.2,253.13 874.6,245.78 875,237.48 875.4,228.8 875.8,220.08 876.2,211.77 876.6,204.64 877,204.24 877.4,206.05 877.8,208.27 878.2,210.84 878.6,214.84 879,224.99 879.4,236.71 879.8,248.38 880.2,258.55 880.6,260.47 881,255.43 881.4,249.85 881.8,243.82 882.2,237.51 882.6,231.33 883,225.69 883.4,221.05 883.8,224.33 884.2,231.22 884.6,238.76 885,246.49 885.4,253.45 885.8,256.75 886.2,253.16 886.6,249.72 887,250.42 887.4,252.59 887.8,254.84 888.2,257.04 888.6,259.06 889,261.08 889.4,262.98 889.8,264.63 890.2,261.41 890.6,255.57 891,248.99 891.4,242.24 891.8,236.1 892.2,232.33 892.6,230.07 893,228 893.4,226.18 893.8,224.42 894.2,223.85 894.6,223.94 895,224.05 895.4,224.06 895.8,224.13 896.2,223.95 896.6,229.33 897,236.27 897.4,243.57 897.8,250.95 898.2,258.19 898.6,264.23 899,261.46 899.4,254.76 899.8,247.1 900.2,239.27 900.6,232.38 901,229.74 901.4,235.82 901.8,242.82 902.2,250.55 902.6,258.73 903,266.81 903.4,274.23 903.8,280.56 904.2,280.46 904.6,274.26 905,267.29 905.4,259.69 905.8,251.82 906.2,243.92 906.6,236.28 907,229.57 907.4,224.16 907.8,231.38 908.2,239.95 908.6,249.73 909,259.98 909.4,270.36 909.8,280.74 910.2,290.86 910.6,300.21 911,308.3 911.4,310.11 911.8,305.88 912.2,300.88 912.6,295.74 913,290.69 913.4,285.97 913.8,282.03 914.2,283.4 914.6,287.05 915,291.27 915.4,295.69 915.8,299.87 916.2,303.46 916.6,306.3 917,297.35 917.4,286.77 917.8,274.94 918.2,262.45 918.6,250.24 919,239.02 919.4,229.55 919.8,231.84 920.2,238.99 920.6,247.12 921,255.44 921.4,262.72 921.8,266.04 922.2,261.69 922.6,256.58 923,250.98 923.4,245.6 923.8,241.26 924.2,242.33 924.6,245.35 925,248.66 925.4,252.14 925.8,255.76 926.2,259.36 926.6,262.75 927,265.5 927.4,262.18 927.8,255.86 928.2,248.5 928.6,241.07 929,234.74 929.4,232.77 929.8,234.15 930.2,235.64 930.6,237.2 931,240.22 931.4,247.89 931.8,256.2 932.2,264.12 932.6,270.72 933,266.18 933.4,260.68 933.8,254.51 934.2,247.69 934.6,240.84 935,234.25 935.4,227.66 935.8,221.4 936.2,215.93 936.6,211.36 937,213.44 937.4,216.03 937.8,218.91 938.2,221.79 938.6,224.83 939,227.81 939.4,230.66 939.8,233.15 940.2,231.38 940.6,224.44 941,216.59 941.4,209.03 941.8,203.19 942.2,206.14 942.6,209.7 943,213.57 943.4,217.34 943.8,221.13 944.2,224.55 944.6,223.58 945,217.95 945.4,211.33 945.8,204.26 946.2,197.32 946.6,190.71 947,184.84 947.4,182.47 947.8,188.55 948.2,195.38 948.6,201.84 949,202.88 949.4,198.64 949.8,194.37 950.2,193.11 950.6,198.47 951,204.75 951.4,211.57 951.8,218.78 952.2,226.26 952.6,233.37 953,239.62 953.4,244.92 953.8,242.65 954.2,236.94 954.6,230.37 955,223.66 955.4,217.49 955.8,212.38 956.2,216.46 956.6,224.89 957,234.37 957.4,244.11 957.8,254.11 958.2,263.7 958.6,272.04 959,275.44 959.4,277.35 959.8,279.35 960.2,281.35 960.6,283.03 961,284.59 961.4,286.12 961.8,284.41 962.2,280.98 962.6,277.26 963,273.47 963.4,269.55 963.8,265.82 964.2,262.58 964.6,261.63 965,262.66 965.4,263.56 965.8,261.97 966.2,257 966.6,251.32 967,246.23 967.4,246.05 967.8,250.34 968.2,254.56 968.6,256.81 969,255.16 969.4,253.02 969.8,250.92 970.2,249.19 970.6,249.74 971,251.41 971.4,252.11 971.8,250.02 972.2,247.69 972.6,245.62 973,246.98 973.4,252.51 973.8,257.25 974.2,250.53 974.6,242.4 975,233.35 975.4,223.92 975.8,214.35 976.2,205.15 976.6,197.01 977,190.37 977.4,197.8 977.8,207.07 978.2,217.15 978.6,227.13 979,236.44 979.4,244.39 979.8,244.03 980.2,240.52 980.6,236.79 981,233.31 981.4,233.53 981.8,237.48 982.2,241.72 982.6,246.12 983,250.87 983.4,255.83 983.8,260.66 984.2,265.09 984.6,269.19 985,272.77 985.4,273.36 985.8,271.17 986.2,268.54 986.6,265.72 987,262.73 987.4,259.61 987.8,256.88 988.2,254.37 988.6,252.28 989,252.83 989.4,253.35 989.8,253.68 990.2,254.03 990.6,254.56 991,254.98 991.4,255.53 991.8,256.18 992.2,256.64 992.6,257.17 993,258.27 993.4,259.92 993.8,261.75 994.2,263.71 994.6,265.24 995,257.81 995.4,248.65 995.8,238.72 996.2,228.89 996.6,220.06 997,215.56 997.4,220.16 997.8,225.93 998.2,232.25 998.6,238.75 999,245.12 999.4,250.9 999.8,256.39 1000.2,261.49 1000.6,260.94 1001,257.84 1001.4,254.8 1001.8,252.53 1002.2,257.62 1002.6,263.73 1003,270.47 1003.4,277.37 1003.8,284.34 1004.2,291.29 1004.6,297.54 1005,302.76 1005.4,300.62 1005.8,295.23 1006.2,288.57 1006.6,281.58 1007,274.75 1007.4,267.89 1007.8,261.59 1008.2,256.19 1008.6,253.16 1009,255.45 1009.4,258.18 1009.8,261.03 1010.2,264.04 1010.6,267.19 1011,270.16 1011.4,272.76 1011.8,274.37 1012.2,274.26 1012.6,274.02 1013,273.62 1013.4,273.3 1013.8,271.44 1014.2,267.17 1014.6,262 1015,256.6 1015.4,251.33 1015.8,246.09 1016.2,241.32 1016.6,237.41 1017,239.73 1017.4,244.89 1017.8,250.89 1018.2,257.15 1018.6,263.23 1019,268.92 1019.4,273.74 1019.8,272.83 1020.2,269.78 1020.6,266.42 1021,263.06 1021.4,259.91 1021.8,256.76 1022.2,254.12 1022.6,253.31 1023,253.63 1023.4,253.88 1023.8,254.26 1024.2,254.78 1024.6,255.14 1025,255.42 1025.4,255.94 1025.8,256.6 1026.2,256.92 1026.6,257.04 1027,254.91 1027.4,249.2 1027.8,242.55 1028.2,235.75 1028.6,229.73 1029,227.35 1029.4,225.88 1029.8,224.35 1030.2,222.87 1030.6,221.68 1031,220.63 1031.4,219.98 1031.8,219.91 1032.2,219.98 1032.6,220.05 1033,220.14 1033.4,220.14 1033.8,226.17 1034.2,236.3 1034.6,247.07 1035,257.1 1035.4,262.13 1035.8,257.23 1036.2,251.42 1036.6,245.24 1037,238.77 1037.4,232.4 1037.8,226.59 1038.2,221.5 1038.6,223.11 1039,232.09 1039.4,242.36 1039.8,253.36 1040.2,264.73 1040.6,275.83 1041,285.97 1041.4,294.46 1041.8,293.3 1042.2,288.77 1042.6,283.62 1043,277.96 1043.4,272.2 1043.8,266.98 1044.2,262.61 1044.6,262.33 1045,266.54 1045.4,271.48 1045.8,276.3 1046.2,280.63 1046.6,280.37 1047,275.13 1047.4,268.86 1047.8,262.27 1048.2,255.76 1048.6,249.63 1049,244.53 1049.4,246.27 1049.8,250.57 1050.2,255.38 1050.6,260.72 1051,266.17 1051.4,271.12 1051.8,275.46 1052.2,277.25 1052.6,272.25 1053,266.1 1053.4,259.46 1053.8,252.86 1054.2,246.47 1054.6,240.77 1055,236.22 1055.4,241.44 1055.8,247.61 1056.2,254.85 1056.6,262.7 1057,270.49 1057.4,277.96 1057.8,285.01 1058.2,291.33 1058.6,293.81 1059,287.45 1059.4,280.28 1059.8,272.48 1060.2,264.24 1060.6,255.62 1061,246.78 1061.4,237.9 1061.8,229.03 1062.2,220.45 1062.6,212.56 1063,205.44 1063.4,199.2 1063.8,203.13 1064.2,211.33 1064.6,220.41 1065,230.13 1065.4,240.25 1065.8,250.57 1066.2,260.85 1066.6,270.9 1067,280.41 1067.4,289.07 1067.8,296.74 1068.2,296.31 1068.6,287.18 1069,276.39 1069.4,264.82 1069.8,252.88 1070.2,240.47 1070.6,228.2 1071,216.61 1071.4,206.02 1071.8,196.94 1072.2,197.25 1072.6,207.2 1073,218.81 1073.4,231.46 1073.8,244.58 1074.2,257.56 1074.6,270.04 1075,281.55 1075.4,291.64 1075.8,294.51 1076.2,290.72 1076.6,286.35 1077,282.28 1077.4,280.4 1077.8,278.85 1078.2,277.12 1078.6,275.66 1079,274.32 1079.4,273.04 1079.8,275.06 1080.2,277.67 1080.6,280.1 1081,280.75 1081.4,277.67 1081.8,274.3 1082.2,270.57 1082.6,266.47 1083,262.34 1083.4,258.52 1083.8,254.94 1084.2,251.17 1084.6,247.54 1085,244.69 1085.4,247.2 1085.8,250.04 1086.2,252.19 1086.6,249.21 1087,245.66 1087.4,241.8 1087.8,238.4 1088.2,237.34 1088.6,240.88 1089,244.95 1089.4,249.59 1089.8,254.46 1090.2,259.24 1090.6,263.64 1091,267.18 1091.4,268.3 1091.8,267.78 1092.2,267.13 1092.6,266.36 1093,265.66 1093.4,265.04 1093.8,266.27 1094.2,268.64 1094.6,271.07 1095,273.07 1095.4,270.2 1095.8,264.81 1096.2,258.71 1096.6,252.67 1097,247.42 1097.4,244.55 1097.8,246.27 1098.2,248.03 1098.6,247.21 1099,245.15 1099.4,242.43 1099.8,239.84 1100.2,237.68 1100.6,238.42 1101,242.56 1101.4,247.52 1101.8,252.77 1102.2,257.7 1102.6,262.04 1103,264.5 1103.4,262.78 1103.8,260.53 1104.2,258.38 1104.6,259.51 1105,264.03 1105.4,269.42 1105.8,275.39 1106.2,281.28 1106.6,287.02 1107,292.49 1107.4,297.18 1107.8,295.17 1108.2,285.97 1108.6,275.55 1109,264.48 1109.4,253.17 1109.8,241.87 1110.2,231.08 1110.6,221.66 1111,216.76 1111.4,221 1111.8,226 1112.2,231.5 1112.6,237.13 1113,242.27 1113.4,246.33 1113.8,245.47 1114.2,244.56 1114.6,243.56 1115,242.4 1115.4,241.41 1115.8,240.35 1116.2,238.96 1116.6,230.8 1117,221.39 1117.4,210.82 1117.8,199.9 1118.2,189.26 1118.6,179.04 1119,169.93 1119.4,165.79 1119.8,172.8 1120.2,181.15 1120.6,189.93 1121,198.46 1121.4,206.58 1121.8,213.45 1122.2,213.85 1122.6,214.1 1123,214.42 1123.4,214.79 1123.8,215.12 1124.2,215.54 1124.6,217.63 1125,222.08 1125.4,226.91 1125.8,231.35 1126.2,232.54 1126.6,231.03 1127,229.25 1127.4,227.37 1127.8,225.58 1128.2,225.05 1128.6,227.72 1129,230.82 1129.4,234.21 1129.8,238.03 1130.2,243.85 1130.6,256.13 1131,269.87 1131.4,284.19 1131.8,298.35 1132.2,311.58 1132.6,322.66 1133,319.22 1133.4,310.05 1133.8,299.87 1134.2,289.17 1134.6,278.41 1135,268.24 1135.4,259.46 1135.8,256.33 1136.2,257.49 1136.6,258.77 1137,260.14 1137.4,263.48 1137.8,269.8 1138.2,276.23 1138.6,281.49 1139,281.46 1139.4,279.75 1139.8,277.75 1140.2,275.79 1140.6,274.26 1141,274.11 1141.4,274.04 1141.8,273.98 1142.2,273.79 1142.6,273.72 1143,271.49 1143.4,266.02 1143.8,260.05 1144.2,254.41 1144.6,251.7 1145,251.01 1145.4,250.34 1145.8,249.81 1146.2,249.36 1146.6,252.04 1147,256.64 1147.4,261.92 1147.8,267.34 1148.2,272.47 1148.6,276.99 1149,278.69 1149.4,278.3 1149.8,277.84 1150.2,276.39 1150.6,271.19 1151,265.12 1151.4,258.96 1151.8,253.21 1152.2,248.46 1152.6,250.41 1153,252.88 1153.4,255.44 1153.8,258.01 1154.2,260.38 1154.6,261.38 1155,259.03 1155.4,256.1 1155.8,252.93 1156.2,249.84 1156.6,247.12 1157,244.95 1157.4,245.16 1157.8,245.37 1158.2,245.77 1158.6,246.2 1159,246.03 1159.4,243.63 1159.8,240.64 1160.2,237.57 1160.6,234.79 1161,232.52 1161.4,236.1 1161.8,242.46 1162.2,249.45 1162.6,256.79 1163,264.55 1163.4,272.34 1163.8,279.71 1164.2,286.52 1164.6,292.6 1165,293.44 1165.4,289.11 1165.8,284.16 1166.2,278.87 1166.6,273.85 1167,269.84 1167.4,268.84 1167.8,268.57 1168.2,268.5 1168.6,268.36 1169,264.2 1169.4,257.47 1169.8,250.39 1170.2,244 1170.6,240.32 1171,240.45 1171.4,240.43 1171.8,240.44 1172.2,240.7 1172.6,242.08 1173,247.39 1173.4,253.32 1173.8,258.23 1174.2,251.78 1174.6,243.91 1175,236.51 1175.4,232.34 1175.8,234 1176.2,235.65 1176.6,232.25 1177,227.92 1177.4,223.46 1177.8,219.97 1178.2,224.83 1178.6,230.54 1179,237.06 1179.4,243.89 1179.8,250.58 1180.2,257.32 1180.6,263.83 1181,269.59 1181.4,274.28 1181.8,265.31 1182.2,254.51 1182.6,242.5 1183,229.95 1183.4,217.51 1183.8,206.11 1184.2,196.64 1184.6,195.36 1185,196.56 1185.4,197.7 1185.8,198.64 1186.2,198.99 1186.6,197.96 1187,196.8 1187.4,195.2 1187.8,193.49 1188.2,192.14 1188.6,191.21 1189,193.61 1189.4,196.33 1189.8,199.46 1190.2,202.84 1190.6,206.1 1191,209.09 1191.4,211.75 1191.8,209.7 1192.2,201.59 1192.6,192.08 1193,182.58 1193.4,174.19 1193.8,169.82 1194.2,172.97 1194.6,176.72 1195,180.91 1195.4,184.97 1195.8,188.6 1196.2,191.66 1196.6,183.25 1197,172.78 1197.4,161.63 1197.8,151.31 1198.2,147.42 1198.6,157.47 1199,169.61 1199.4,183.01 1199.8,196.73 1200.2,210.06 1200.6,222.73 1201,234.05 1201.4,239.67 1201.8,232.83 1202.2,224.55 1202.6,215.28 1203,205.9 1203.4,197.17 1203.8,189.55 1204.2,184.8 1204.6,184.74 1205,184.76 1205.4,183.52 1205.8,177.36 1206.2,170.13 1206.6,162.09 1207,153.68 1207.4,145.68 1207.8,138.19 1208.2,131.58 1208.6,128.71 1209,134.73 1209.4,142.11 1209.8,149.97 1210.2,156.95 1210.6,160.67 1211,162.12 1211.4,163.57 1211.8,165.05 1212.2,166.63 1212.6,168.36 1213,171.13 1213.4,177.52 1213.8,184.85 1214.2,192.65 1214.6,200.55 1215,208.34 1215.4,215.68 1215.8,222.37 1216.2,228.23 1216.6,225.26 1217,218.54 1217.4,211.02 1217.8,202.75 1218.2,194.34 1218.6,186.32 1219,178.6 1219.4,171.59 1219.8,165.8 1220.2,167.32 1220.6,169.31 1221,171.33 1221.4,172.93 1221.8,170.26 1222.2,165.64 1222.6,160.45 1223,154.87 1223.4,149.62 1223.8,145.04 1224.2,143.36 1224.6,148.8 1225,155.12 1225.4,162.03 1225.8,169.21 1226.2,176.2 1226.6,182.63 1227,188.06 1227.4,182.93 1227.8,176.47 1228.2,169.25 1228.6,161.63 1229,153.9 1229.4,146.68 1229.8,140.21 1230.2,134.48 1230.6,131.16 1231,133.37 1231.4,135.91 1231.8,138.26 1232.2,139.63 1232.6,139.17 1233,138.7 1233.4,138.44 1233.8,143.04 1234.2,155.19 1234.6,167.53 1235,166.73 1235.4,154.15 1235.8,140.18 1236.2,124.98 1236.6,109.02 1237,92.66 1237.4,76.64 1237.8,61.65 1238.2,47.98 1238.6,36.26 1239,36.29 1239.4,40.18 1239.8,44.77 1240.2,49.79 1240.6,54.82 1241,59.82 1241.4,70.77 1241.8,83.14 1242.2,96.24 1242.6,109.51 1243,122.74 1243.4,135.43 1243.8,147.12 1244.2,157.43 1244.6,158.78 1245,151.19 1245.4,142.51 1245.8,133.24 1246.2,123.7 1246.6,114.54 1247,106.7 1247.4,102.94 1247.8,107.42 1248.2,112.52 1248.6,117.67 1249,122.15 1249.4,121.95 1249.8,119.9 1250.2,117.6 1250.6,113.69 1251,107.51 1251.4,100.97 1251.8,94.21 1252.2,87.47 1252.6,81 1253,75.15 1253.4,70.36 1253.8,74.81 1254.2,79.9 1254.6,85.37 1255,91.32 1255.4,97.46 1255.8,103.54 1256.2,109.85 1256.6,116.34 1257,122.46 1257.4,128.24 1257.8,133.8 1258.2,138.57 1258.6,140.28 1259,134.05 1259.4,126.54 1259.8,118.22 1260.2,109.7 1260.6,101.34 1261,93.64 1261.4,87.33 1261.8,91.5 1262.2,100.37 1262.6,109.97 1263,119.73 1263.4,128.97 1263.8,136.74 1264.2,133.29 1264.6,125.2 1265,116.12 1265.4,106.5 1265.8,96.79 1266.2,87.61 1266.6,79.45 1267,76.2 1267.4,73.1 1267.8,70.07 1268.2,67.14 1268.6,64.41 1269,61.89 1269.4,59.55 1269.8,59.18 1270.2,64.61 1270.6,70.77 1271,77.38 1271.4,84.51 1271.8,91.71 1272.2,98.67 1272.6,105.23 1273,111.07 1273.4,113.73 1273.8,108.67 1274.2,102.67 1274.6,96.37 1275,90.61 1275.4,86.17 1275.8,91.37 1276.2,97.72 1276.6,104.53 1277,111.46 1277.4,118.19 1277.8,123.88 1278.2,123.48 1278.6,116.85 1279,109.24 1279.4,101.45 1279.8,94.51 1280.2,91.28 1280.6,95.9 1281,91.33 1281.4,75.16 1281.8,57.04 1282.2,39.88 1282.6,29.73 1283,29.76" fill="none" stroke="#7f8088" stroke-width="0.75" stroke-linejoin="round" stroke-linecap="butt" clip-path="url(#c12)" stroke-opacity="0.9"/>
<line x1="677.25" y1="317.4" x2="680.25" y2="317.4" stroke="#777777" stroke-width="0.9"/>
<text transform="translate(674.25,320.21) scale(0.880,1.000)" font-family="'DejaVu Sans','Liberation Sans',sans-serif" font-size="7.8" text-anchor="end" fill="#333333" stroke="#333333" stroke-width="0.22">0.05</text>
<line x1="677.25" y1="278.9" x2="680.25" y2="278.9" stroke="#777777" stroke-width="0.9"/>
<text transform="translate(674.25,281.71) scale(0.880,1.000)" font-family="'DejaVu Sans','Liberation Sans',sans-serif" font-size="7.8" text-anchor="end" fill="#333333" stroke="#333333" stroke-width="0.22">0.10</text>
<line x1="677.25" y1="240.4" x2="680.25" y2="240.4" stroke="#777777" stroke-width="0.9"/>
<text transform="translate(674.25,243.21) scale(0.880,1.000)" font-family="'DejaVu Sans','Liberation Sans',sans-serif" font-size="7.8" text-anchor="end" fill="#333333" stroke="#333333" stroke-width="0.22">0.15</text>
<line x1="677.25" y1="201.9" x2="680.25" y2="201.9" stroke="#777777" stroke-width="0.9"/>
<text transform="translate(674.25,204.71) scale(0.880,1.000)" font-family="'DejaVu Sans','Liberation Sans',sans-serif" font-size="7.8" text-anchor="end" fill="#333333" stroke="#333333" stroke-width="0.22">0.20</text>
<line x1="677.25" y1="163.4" x2="680.25" y2="163.4" stroke="#777777" stroke-width="0.9"/>
<text transform="translate(674.25,166.21) scale(0.880,1.000)" font-family="'DejaVu Sans','Liberation Sans',sans-serif" font-size="7.8" text-anchor="end" fill="#333333" stroke="#333333" stroke-width="0.22">0.25</text>
<line x1="677.25" y1="124.9" x2="680.25" y2="124.9" stroke="#777777" stroke-width="0.9"/>
<text transform="translate(674.25,127.71) scale(0.880,1.000)" font-family="'DejaVu Sans','Liberation Sans',sans-serif" font-size="7.8" text-anchor="end" fill="#333333" stroke="#333333" stroke-width="0.22">0.30</text>
<line x1="677.25" y1="86.4" x2="680.25" y2="86.4" stroke="#777777" stroke-width="0.9"/>
<text transform="translate(674.25,89.21) scale(0.880,1.000)" font-family="'DejaVu Sans','Liberation Sans',sans-serif" font-size="7.8" text-anchor="end" fill="#333333" stroke="#333333" stroke-width="0.22">0.35</text>
<line x1="677.25" y1="47.9" x2="680.25" y2="47.9" stroke="#777777" stroke-width="0.9"/>
<text transform="translate(674.25,50.71) scale(0.880,1.000)" font-family="'DejaVu Sans','Liberation Sans',sans-serif" font-size="7.8" text-anchor="end" fill="#333333" stroke="#333333" stroke-width="0.22">0.40</text>
<line x1="677.25" y1="339.2" x2="677.25" y2="336.2" stroke="#777777" stroke-width="0.9"/>
<text transform="translate(677.25,349.37) scale(0.880,1.000)" font-family="'DejaVu Sans','Liberation Sans',sans-serif" font-size="7.8" text-anchor="middle" fill="#333333" stroke="#333333" stroke-width="0.22">0</text>
<line x1="722.24" y1="339.2" x2="722.24" y2="336.2" stroke="#777777" stroke-width="0.9"/>
<text transform="translate(722.24,349.37) scale(0.880,1.000)" font-family="'DejaVu Sans','Liberation Sans',sans-serif" font-size="7.8" text-anchor="middle" fill="#333333" stroke="#333333" stroke-width="0.22">800</text>
<line x1="767.23" y1="339.2" x2="767.23" y2="336.2" stroke="#777777" stroke-width="0.9"/>
<text transform="translate(767.23,349.37) scale(0.880,1.000)" font-family="'DejaVu Sans','Liberation Sans',sans-serif" font-size="7.8" text-anchor="middle" fill="#333333" stroke="#333333" stroke-width="0.22">1600</text>
<line x1="812.22" y1="339.2" x2="812.22" y2="336.2" stroke="#777777" stroke-width="0.9"/>
<text transform="translate(812.22,349.37) scale(0.880,1.000)" font-family="'DejaVu Sans','Liberation Sans',sans-serif" font-size="7.8" text-anchor="middle" fill="#333333" stroke="#333333" stroke-width="0.22">2400</text>
<line x1="857.21" y1="339.2" x2="857.21" y2="336.2" stroke="#777777" stroke-width="0.9"/>
<text transform="translate(857.21,349.37) scale(0.880,1.000)" font-family="'DejaVu Sans','Liberation Sans',sans-serif" font-size="7.8" text-anchor="middle" fill="#333333" stroke="#333333" stroke-width="0.22">3200</text>
<line x1="902.19" y1="339.2" x2="902.19" y2="336.2" stroke="#777777" stroke-width="0.9"/>
<text transform="translate(902.19,349.37) scale(0.880,1.000)" font-family="'DejaVu Sans','Liberation Sans',sans-serif" font-size="7.8" text-anchor="middle" fill="#333333" stroke="#333333" stroke-width="0.22">4000</text>
<line x1="947.18" y1="339.2" x2="947.18" y2="336.2" stroke="#777777" stroke-width="0.9"/>
<text transform="translate(947.18,349.37) scale(0.880,1.000)" font-family="'DejaVu Sans','Liberation Sans',sans-serif" font-size="7.8" text-anchor="middle" fill="#333333" stroke="#333333" stroke-width="0.22">4800</text>
<line x1="992.17" y1="339.2" x2="992.17" y2="336.2" stroke="#777777" stroke-width="0.9"/>
<text transform="translate(992.17,349.37) scale(0.880,1.000)" font-family="'DejaVu Sans','Liberation Sans',sans-serif" font-size="7.8" text-anchor="middle" fill="#333333" stroke="#333333" stroke-width="0.22">5600</text>
<line x1="1037.16" y1="339.2" x2="1037.16" y2="336.2" stroke="#777777" stroke-width="0.9"/>
<text transform="translate(1037.16,349.37) scale(0.880,1.000)" font-family="'DejaVu Sans','Liberation Sans',sans-serif" font-size="7.8" text-anchor="middle" fill="#333333" stroke="#333333" stroke-width="0.22">6400</text>
<line x1="1082.15" y1="339.2" x2="1082.15" y2="336.2" stroke="#777777" stroke-width="0.9"/>
<text transform="translate(1082.15,349.37) scale(0.880,1.000)" font-family="'DejaVu Sans','Liberation Sans',sans-serif" font-size="7.8" text-anchor="middle" fill="#333333" stroke="#333333" stroke-width="0.22">7200</text>
<line x1="1127.14" y1="339.2" x2="1127.14" y2="336.2" stroke="#777777" stroke-width="0.9"/>
<text transform="translate(1127.14,349.37) scale(0.880,1.000)" font-family="'DejaVu Sans','Liberation Sans',sans-serif" font-size="7.8" text-anchor="middle" fill="#333333" stroke="#333333" stroke-width="0.22">8000</text>
<line x1="1172.13" y1="339.2" x2="1172.13" y2="336.2" stroke="#777777" stroke-width="0.9"/>
<text transform="translate(1172.13,349.37) scale(0.880,1.000)" font-family="'DejaVu Sans','Liberation Sans',sans-serif" font-size="7.8" text-anchor="middle" fill="#333333" stroke="#333333" stroke-width="0.22">8800</text>
<line x1="1217.12" y1="339.2" x2="1217.12" y2="336.2" stroke="#777777" stroke-width="0.9"/>
<text transform="translate(1217.12,349.37) scale(0.880,1.000)" font-family="'DejaVu Sans','Liberation Sans',sans-serif" font-size="7.8" text-anchor="middle" fill="#333333" stroke="#333333" stroke-width="0.22">9600</text>
<line x1="1262.11" y1="339.2" x2="1262.11" y2="336.2" stroke="#777777" stroke-width="0.9"/>
<text transform="translate(1262.11,349.37) scale(0.880,1.000)" font-family="'DejaVu Sans','Liberation Sans',sans-serif" font-size="7.8" text-anchor="middle" fill="#333333" stroke="#333333" stroke-width="0.22">10400</text>
<rect x="677.25" y="12" width="607.35" height="327.2" fill="none" stroke="#777777" stroke-width="1.1"/>
<rect x="682.4" y="16.8" width="87" height="35.1" rx="2" ry="2" fill="#ffffff" fill-opacity="0.8" stroke="#d4d4d4" stroke-width="0.8"/>
<line x1="685.2" y1="26" x2="707.4" y2="26" stroke="#1f77b4" stroke-width="3"/>
<text transform="translate(714.8,26)" font-family="'DejaVu Sans','Liberation Sans',sans-serif" font-size="10.1" text-anchor="start" fill="#333333" stroke="#333333" stroke-width="0.22" dominant-baseline="central">Test data</text>
<line x1="685.2" y1="42" x2="707.4" y2="42" stroke="#ff7f0e" stroke-width="1.6"/>
<text transform="translate(714.8,42)" font-family="'DejaVu Sans','Liberation Sans',sans-serif" font-size="10.1" text-anchor="start" fill="#333333" stroke="#333333" stroke-width="0.22" dominant-baseline="central">Prediction</text>
<text transform="translate(981,364.4) scale(0.985,1.000)" font-family="'Liberation Serif','DejaVu Serif',serif" font-size="14.7" text-anchor="middle" fill="#333333" stroke="#333333" stroke-width="0.22">Time (second)</text>
<text transform="translate(651.9,177) rotate(-90)" font-family="'Liberation Serif','DejaVu Serif',serif" font-size="15.1" text-anchor="middle" fill="#333333" stroke="#333333" stroke-width="0.22">PM2.5 (µg/m3)</text>
<clipPath id="c409"><rect x="676.6" y="409.9" width="603.1" height="297.4"/></clipPath>
<polyline points="676.65,679.4 677.05,669.82 677.44,660.77 677.84,652.25 678.24,644.29 678.64,636.91 679.03,630.12 679.43,623.94 679.83,620.95 680.22,626.69 680.62,633.49 681.02,640.94 681.42,648.69 681.81,656.34 682.21,663.51 682.61,669.83 683,672.73 683.4,667.91 683.8,662.27 684.2,656.06 684.59,649.51 684.99,642.86 685.39,636.38 685.79,630.28 686.18,624.83 686.58,620.25 686.98,623.39 687.37,627.33 687.77,631.36 688.17,634.77 688.57,634.31 688.96,632.45 689.36,630.35 689.76,628.21 690.15,626.21 690.55,624.53 690.95,627.43 691.35,632.58 691.74,638.42 692.14,644.69 692.54,651.13 692.93,657.46 693.33,663.43 693.73,668.78 694.13,673.24 694.52,670.47 694.92,667.11 695.32,663.37 695.72,659.43 696.11,655.5 696.51,651.75 696.91,648.4 697.3,645.63 697.7,646.22 698.1,646.95 698.5,647.76 698.89,648.57 699.29,649.33 699.69,649.97 700.08,648.11 700.48,644.78 700.88,641.13 701.28,637.67 701.67,634.91 702.07,635.85 702.47,637.02 702.86,638.17 703.26,637.88 703.66,633.21 704.06,627.62 704.45,621.68 704.85,615.95 705.25,611 705.65,610.68 706.04,614.77 706.44,619.51 706.84,624.55 707.23,629.55 707.63,634.16 708.03,638.03 708.43,637.88 708.82,636.27 709.22,634.51 709.62,632.84 710.01,631.51 710.41,634.15 710.81,637.22 711.21,640.63 711.6,644.3 712,648.14 712.4,652.06 712.79,655.99 713.19,659.83 713.59,663.49 713.99,666.9 714.38,669.97 714.78,672.61 715.18,669.14 715.58,664.78 715.97,660.19 716.37,655.99 716.77,653.69 717.16,654.74 717.56,655.93 717.96,656.89 718.36,652.91 718.75,648.19 719.15,642.91 719.55,637.27 719.94,631.49 720.34,625.76 720.74,620.28 721.14,615.25 721.53,610.87 721.93,610.25 722.33,613.12 722.72,616.37 723.12,619.88 723.52,623.57 723.92,627.32 724.31,631.03 724.71,634.59 725.11,637.95 725.51,641.43 725.9,644.98 726.3,648.52 726.7,651.96 727.09,655.21 727.49,658.17 727.89,660.77 728.29,658.21 728.68,652.96 729.08,647.12 729.48,641.37 729.87,636.38 730.27,635.21 730.67,637.37 731.07,639.77 731.46,641.93 731.86,640.59 732.26,635.5 732.65,629.63 733.05,623.24 733.45,616.59 733.85,609.94 734.24,603.55 734.64,597.68 735.04,592.59 735.44,591.5 735.83,594.21 736.23,597.34 736.63,600.5 737.02,603.35 737.42,604.93 737.82,604.24 738.22,603.46 738.61,602.83 739.01,615.81 739.41,632.1 739.8,649.29 740.2,664.97 740.6,672.87 741,666.1 741.39,658.08 741.79,649.29 742.19,640.21 742.59,631.3 742.98,623.05 743.38,615.92 743.78,614.99 744.17,619.81 744.57,625.37 744.97,631.43 745.37,637.72 745.76,644.02 746.16,650.07 746.56,655.63 746.95,660.45 747.35,659.91 747.75,653.69 748.15,646.5 748.54,638.73 748.94,630.81 749.34,623.15 749.73,616.16 750.13,610.25 750.53,612.28 750.93,617.83 751.32,623.84 751.72,629.38 752.12,632.01 752.52,628.43 752.91,624.85 753.31,624.18 753.71,624.18 754.1,624.18 754.5,624.18 754.9,624.18 755.3,624.18 755.69,626.63 756.09,632.05 756.49,627.04 756.88,620.82 757.28,614.03 757.68,607.33 758.08,601.35 758.47,598.78 758.87,603.64 759.27,609.35 759.66,615.64 760.06,622.22 760.46,628.8 760.86,635.09 761.25,640.8 761.65,645.66 762.05,646.63 762.45,646.51 762.84,646.38 763.24,646.26 763.64,646.16 764.03,649.2 764.43,652.68 764.83,652.05 765.23,647.42 765.62,642.12 766.02,636.4 766.42,630.56 766.81,623.07 767.21,613.04 767.61,602.38 768.01,591.68 768.4,581.52 768.8,572.5 769.2,568.57 769.59,576.43 769.99,585.44 770.39,595.37 770.79,605.96 771.18,616.99 771.58,628.2 771.98,639.34 772.38,650.19 772.77,660.48 773.17,669.98 773.57,678.44 773.96,682.66 774.36,676.51 774.76,669.18 775.16,661.2 775.55,653.09 775.95,645.37 776.35,638.57 776.74,635.1 777.14,638.96 777.54,643.2 777.94,645.15 778.33,642.44 778.73,639.22 779.13,635.73 779.52,632.21 779.92,628.91 780.32,626.05 780.72,625.1 781.11,624.69 781.51,624.35 781.91,628.13 782.31,634.67 782.7,641.4 783.1,646.79 783.5,643.83 783.89,640.2 784.29,636.18 784.69,632 785.09,627.91 785.48,624.16 785.88,621.01 786.28,623.34 786.67,628.15 787.07,633.6 787.47,639.42 787.87,645.3 788.26,650.97 788.66,656.14 789.06,660.51 789.45,658.38 789.85,653.42 790.25,647.87 790.65,642.18 791.04,636.8 791.44,632.99 791.84,630.37 792.24,627.88 792.63,625.42 793.03,622.88 793.43,619.89 793.82,615.59 794.22,611.05 794.62,606.72 795.02,603.05 795.41,606.68 795.81,613.79 796.21,621.86 796.6,630.33 797,638.67 797.4,646.33 797.8,652.76 798.19,651.5 798.59,647.52 798.99,643.07 799.38,638.24 799.78,633.14 800.18,627.87 800.58,622.54 800.97,617.25 801.37,612.1 801.77,607.19 802.17,602.63 802.56,598.52 802.96,594.97 803.36,599.78 803.75,605.53 804.15,611.95 804.55,618.79 804.95,625.78 805.34,632.68 805.74,639.23 806.14,645.17 806.53,650.24 806.93,648.85 807.33,644.73 807.73,640.1 808.12,635.41 808.52,631.12 808.92,627.67 809.31,630.84 809.71,634.65 810.11,638.91 810.51,643.41 810.9,647.97 811.3,652.38 811.7,656.44 812.1,659.95 812.49,660.65 812.89,658.88 813.29,656.88 813.68,654.69 814.08,652.34 814.48,649.87 814.88,646.07 815.27,637.4 815.67,627.68 816.07,618.06 816.46,609.64 816.86,606.88 817.26,608.56 817.66,609.05 818.05,605.96 818.45,602.87 818.85,606.48 819.24,613.43 819.64,621.19 820.04,628.96 820.44,635.91 820.83,639.03 821.23,634.05 821.63,628.16 822.03,621.7 822.42,615.02 822.82,608.47 823.22,602.41 823.61,597.17 824.01,596.25 824.41,599.43 824.81,603.1 825.2,606.9 825.6,610.48 826,613.47 826.39,613.1 826.79,611.43 827.19,609.91 827.59,611.33 827.98,614.03 828.38,617.07 828.78,620.29 829.17,623.53 829.57,626.62 829.97,629.19 830.37,630.99 830.76,632.79 831.16,634.54 831.56,636.18 831.96,637.66 832.35,638.93 832.75,635.55 833.15,631.58 833.54,627.16 833.94,622.42 834.34,617.48 834.74,612.48 835.13,607.54 835.53,602.8 835.93,598.38 836.32,594.42 836.72,591.04 837.12,592.24 837.52,593.66 837.91,595.26 838.31,596.99 838.71,599.99 839.1,607.64 839.5,616.3 839.9,624.93 840.3,632.49 840.69,634.6 841.09,632.19 841.49,629.69 841.89,628.98 842.28,632.87 842.68,637.5 843.08,642.13 843.47,646.02 843.87,643.02 844.27,637.05 844.67,630.27 845.06,623 845.46,615.53 845.86,608.18 846.25,601.25 846.65,595.05 847.05,589.87 847.45,594.74 847.84,600.57 848.24,607.09 848.64,614 849.03,621.02 849.43,627.86 849.83,634.23 850.23,639.85 850.62,643.25 851.02,642.63 851.42,641.92 851.82,641.14 852.21,640.29 852.61,639.37 853.01,638.39 853.4,630.04 853.8,620.13 854.2,609.36 854.6,598.43 854.99,588.05 855.39,578.92 855.79,575.36 856.18,573.37 856.58,571.53 856.98,569.9 857.38,568.52 857.77,572.22 858.17,576.68 858.57,581.6 858.96,586.69 859.36,591.63 859.76,596.13 860.16,598.72 860.55,601.16 860.95,603.6 861.35,606.23 861.75,611.44 862.14,617.15 862.54,623.18 862.94,629.34 863.33,635.43 863.73,641.28 864.13,646.69 864.53,651.48 864.92,653.67 865.32,653.83 865.72,653.98 866.11,655.45 866.51,662.23 866.91,670.07 867.31,677.24 867.7,677.7 868.1,672.15 868.5,665.71 868.89,658.8 869.29,651.82 869.69,645.17 870.09,639.25 870.48,635.44 870.88,635.13 871.28,634.85 871.68,634.55 872.07,631.63 872.47,625.08 872.87,617.56 873.26,609.6 873.66,601.73 874.06,594.48 874.46,588.39 874.85,588.17 875.25,589.85 875.65,591.76 876.04,593.85 876.44,597.46 876.84,606.64 877.24,617.03 877.63,627.38 878.03,636.43 878.43,638.25 878.82,633.86 879.22,628.78 879.62,623.29 880.02,617.7 880.41,612.29 880.81,607.35 881.21,603.18 881.61,605.97 882,612.08 882.4,618.91 882.8,625.74 883.19,631.85 883.59,634.96 883.99,631.87 884.39,628.78 884.78,629.31 885.18,631.12 885.58,633.11 885.97,635.07 886.37,636.87 886.77,638.73 887.17,640.51 887.56,642.01 887.96,639.1 888.36,633.85 888.75,627.98 889.15,622.02 889.55,616.51 889.95,613.07 890.34,611.08 890.74,609.19 891.14,607.48 891.54,606.01 891.93,605.69 892.33,605.69 892.73,605.69 893.12,605.69 893.52,605.69 893.92,605.69 894.32,610.62 894.71,616.71 895.11,623.42 895.51,630.2 895.9,636.5 896.3,641.77 896.7,639.18 897.1,633.07 897.49,626.24 897.89,619.41 898.29,613.3 898.68,610.77 899.08,616.18 899.48,622.59 899.88,629.61 900.27,636.87 900.67,643.99 901.07,650.59 901.47,656.28 901.86,656.33 902.26,650.82 902.66,644.45 903.05,637.54 903.45,630.39 903.85,623.32 904.25,616.64 904.64,610.66 905.04,605.69 905.44,612.18 905.83,619.91 906.23,628.54 906.63,637.74 907.03,647.19 907.42,656.56 907.82,665.52 908.22,673.74 908.62,680.89 909.01,682.43 909.41,678.74 909.81,674.46 910.2,669.89 910.6,665.37 911,661.2 911.4,657.71 911.79,658.96 912.19,662.19 912.59,665.85 912.98,669.67 913.38,673.4 913.78,676.76 914.18,679.49 914.57,671.6 914.97,661.96 915.37,651.24 915.76,640.11 916.16,629.22 916.56,619.25 916.96,610.86 917.35,612.95 917.75,619.37 918.15,626.55 918.55,633.73 918.94,640.15 919.34,643.22 919.74,639.32 920.13,634.65 920.53,629.72 920.93,625.04 921.33,621.14 921.72,622.03 922.12,624.72 922.52,627.78 922.91,631.04 923.31,634.34 923.71,637.52 924.11,640.42 924.5,642.87 924.9,639.85 925.3,633.94 925.69,627.37 926.09,620.9 926.49,615.27 926.89,613.51 927.28,614.66 927.68,616 928.08,617.47 928.48,620.06 928.87,626.78 929.27,634.33 929.67,641.59 930.06,647.42 930.46,643.26 930.86,638.34 931.26,632.86 931.65,626.98 932.05,620.92 932.45,614.86 932.84,608.99 933.24,603.5 933.64,598.58 934.04,594.43 934.43,596.3 934.83,598.6 935.23,601.05 935.62,603.46 936.02,606.11 936.42,608.85 936.82,611.47 937.21,613.76 937.61,612.28 938.01,606.12 938.41,599.15 938.8,592.44 939.2,587.1 939.6,589.68 939.99,592.85 940.39,596.35 940.79,599.92 941.19,603.29 941.58,606.19 941.98,605.29 942.38,600.26 942.77,594.43 943.17,588.17 943.57,581.86 943.97,575.88 944.36,570.62 944.76,568.41 945.16,573.83 945.55,580.15 945.95,585.93 946.35,586.75 946.75,583.04 947.14,579.19 947.54,577.95 947.94,582.76 948.34,588.43 948.73,594.66 949.13,601.18 949.53,607.69 949.92,613.93 950.32,619.59 950.72,624.4 951.12,622.32 951.51,617.19 951.91,611.42 952.31,605.51 952.7,600 953.1,595.38 953.5,599.09 953.9,606.54 954.29,614.95 954.69,623.85 955.09,632.74 955.48,641.13 955.88,648.54 956.28,651.62 956.68,653.47 957.07,655.25 957.47,656.93 957.87,658.48 958.27,659.9 958.66,661.16 959.06,659.61 959.46,656.65 959.85,653.29 960.25,649.74 960.65,646.22 961.05,642.94 961.44,640.11 961.84,639.24 962.24,640.04 962.63,640.85 963.03,639.41 963.43,634.93 963.83,629.97 964.22,625.49 964.62,625.23 965.02,629.11 965.41,633.15 965.81,635.21 966.21,633.56 966.61,631.6 967,629.64 967.4,628 967.8,628.6 968.2,630.13 968.59,630.72 968.99,628.95 969.39,626.89 969.78,625.01 970.18,626.2 970.58,631.19 970.98,635.53 971.37,629.54 971.77,622.29 972.17,614.2 972.56,605.69 972.96,597.18 973.36,589.09 973.76,581.84 974.15,575.85 974.55,582.42 974.95,590.55 975.34,599.5 975.74,608.54 976.14,616.95 976.54,623.98 976.93,623.59 977.33,620.48 977.73,617.15 978.13,614.18 978.52,614.42 978.92,617.66 979.32,621.38 979.71,625.44 980.11,629.7 980.51,634.03 980.91,638.3 981.3,642.36 981.7,646.08 982.1,649.32 982.49,649.85 982.89,647.81 983.29,645.44 983.69,642.88 984.08,640.23 984.48,637.61 984.88,635.13 985.27,632.91 985.67,631.06 986.07,631.38 986.47,631.72 986.86,632.09 987.26,632.49 987.66,632.91 988.06,633.35 988.45,633.81 988.85,634.28 989.25,634.77 989.64,635.28 990.04,636.22 990.44,637.79 990.84,639.47 991.23,641.05 991.63,642.32 992.03,635.74 992.42,627.56 992.82,618.63 993.22,609.81 993.62,601.95 994.01,598.12 994.41,602.37 994.81,607.38 995.2,612.88 995.6,618.64 996,624.41 996.4,629.91 996.79,634.92 997.19,639.17 997.59,638.54 997.99,635.92 998.38,633.22 998.78,631.06 999.18,635.55 999.57,640.95 999.97,646.99 1000.37,653.36 1000.77,659.76 1001.16,665.91 1001.56,671.5 1001.96,676.24 1002.35,674.1 1002.75,669.08 1003.15,663.38 1003.55,657.28 1003.94,651.04 1004.34,644.94 1004.74,639.24 1005.13,634.22 1005.53,631.51 1005.93,633.6 1006.33,636.07 1006.72,638.78 1007.12,641.6 1007.52,644.38 1007.92,646.99 1008.31,649.29 1008.71,650.68 1009.11,650.5 1009.5,650.29 1009.9,650.05 1010.3,649.79 1010.7,648 1011.09,644.14 1011.49,639.72 1011.89,634.99 1012.28,630.18 1012.68,625.54 1013.08,621.3 1013.48,617.71 1013.87,619.8 1014.27,624.44 1014.67,629.7 1015.06,635.22 1015.46,640.65 1015.86,645.65 1016.26,649.84 1016.65,649.17 1017.05,646.65 1017.45,643.79 1017.85,640.78 1018.24,637.79 1018.64,635.01 1019.04,632.6 1019.43,631.73 1019.83,632.04 1020.23,632.38 1020.63,632.76 1021.02,633.16 1021.42,633.57 1021.82,633.98 1022.21,634.37 1022.61,634.75 1023.01,635.1 1023.41,635.4 1023.8,633.41 1024.2,628.17 1024.6,622.18 1024.99,616.14 1025.39,610.78 1025.79,608.54 1026.19,607.14 1026.58,605.82 1026.98,604.59 1027.38,603.46 1027.78,602.47 1028.17,602.04 1028.57,602.08 1028.97,602.12 1029.36,602.17 1029.76,602.22 1030.16,602.28 1030.56,607.63 1030.95,616.61 1031.35,626.34 1031.75,635.3 1032.14,639.7 1032.54,635.38 1032.94,630.25 1033.34,624.64 1033.73,618.83 1034.13,613.14 1034.53,607.87 1034.92,603.31 1035.32,604.77 1035.72,612.79 1036.12,622.07 1036.51,632.1 1036.91,642.32 1037.31,652.21 1037.71,661.23 1038.1,668.85 1038.5,667.86 1038.9,663.64 1039.29,658.85 1039.69,653.79 1040.09,648.78 1040.49,644.1 1040.88,640.07 1041.28,639.93 1041.68,643.79 1042.07,648.22 1042.47,652.65 1042.87,656.51 1043.27,656.07 1043.66,651.29 1044.06,645.74 1044.46,639.84 1044.85,633.98 1045.25,628.59 1045.65,624.06 1046.05,625.54 1046.44,629.46 1046.84,633.9 1047.24,638.61 1047.64,643.32 1048.03,647.77 1048.43,651.69 1048.83,653.17 1049.22,648.67 1049.62,643.33 1050.02,637.5 1050.42,631.54 1050.81,625.8 1051.21,620.64 1051.61,616.41 1052,621.22 1052.4,626.98 1052.8,633.42 1053.2,640.25 1053.59,647.19 1053.99,653.95 1054.39,660.25 1054.78,665.8 1055.18,668.06 1055.58,662.5 1055.98,656.15 1056.37,649.15 1056.77,641.68 1057.17,633.88 1057.57,625.93 1057.96,617.97 1058.36,610.18 1058.76,602.7 1059.15,595.71 1059.55,589.35 1059.95,583.79 1060.35,587.16 1060.74,594.27 1061.14,602.28 1061.54,610.96 1061.93,620.06 1062.33,629.37 1062.73,638.65 1063.13,647.67 1063.52,656.2 1063.92,664.01 1064.32,670.87 1064.71,670.3 1065.11,662.06 1065.51,652.61 1065.91,642.3 1066.3,631.47 1066.7,620.47 1067.1,609.64 1067.5,599.33 1067.89,589.88 1068.29,581.64 1068.69,581.9 1069.08,590.84 1069.48,601.14 1069.88,612.34 1070.28,624.01 1070.67,635.67 1071.07,646.87 1071.47,657.17 1071.86,666.11 1072.26,668.57 1072.66,665.14 1073.06,661.33 1073.45,657.76 1073.85,655.88 1074.25,654.44 1074.65,653.06 1075.04,651.78 1075.44,650.63 1075.84,649.65 1076.23,651.4 1076.63,653.59 1077.03,655.72 1077.43,656.39 1077.82,653.69 1078.22,650.56 1078.62,647.14 1079.01,643.59 1079.41,640.05 1079.81,636.69 1080.21,633.4 1080.6,630.01 1081,626.85 1081.4,624.27 1081.79,626.39 1082.19,628.95 1082.59,631.06 1082.99,628.5 1083.38,625.28 1083.78,621.89 1084.18,618.79 1084.58,617.62 1084.97,620.8 1085.37,624.55 1085.77,628.67 1086.16,632.93 1086.56,637.11 1086.96,640.98 1087.36,644.32 1087.75,645.49 1088.15,644.93 1088.55,644.27 1088.94,643.6 1089.34,642.96 1089.74,642.43 1090.14,643.49 1090.53,645.46 1090.93,647.54 1091.33,649.3 1091.72,646.78 1092.12,642.02 1092.52,636.69 1092.92,631.37 1093.31,626.61 1093.71,624.05 1094.11,625.7 1094.51,627.36 1094.9,626.42 1095.3,624.33 1095.7,622.01 1096.09,619.73 1096.49,617.74 1096.89,618.51 1097.29,622.32 1097.68,626.73 1098.08,631.38 1098.48,635.89 1098.87,639.89 1099.27,641.98 1099.67,640.21 1100.07,638.15 1100.46,636.26 1100.86,637.28 1101.26,641.44 1101.65,646.25 1102.05,651.45 1102.45,656.78 1102.85,661.98 1103.24,666.79 1103.64,670.95 1104.04,669.31 1104.44,661.3 1104.83,652.03 1105.23,641.99 1105.63,631.65 1106.02,621.49 1106.42,611.99 1106.82,603.61 1107.22,599.16 1107.61,603 1108.01,607.58 1108.41,612.52 1108.8,617.41 1109.2,621.85 1109.6,625.44 1110,624.76 1110.39,624.01 1110.79,623.17 1111.19,622.27 1111.58,621.29 1111.98,620.26 1112.38,619.18 1112.78,611.87 1113.17,603.28 1113.57,593.88 1113.97,584.12 1114.37,574.49 1114.76,565.44 1115.16,557.45 1115.56,553.72 1115.95,559.88 1116.35,567.22 1116.75,575.13 1117.15,582.99 1117.54,590.2 1117.94,596.13 1118.34,596.53 1118.73,596.86 1119.13,597.17 1119.53,597.46 1119.93,597.78 1120.32,598.15 1120.72,600.02 1121.12,604.1 1121.51,608.54 1121.91,612.52 1122.31,613.5 1122.71,612.05 1123.1,610.37 1123.5,608.67 1123.9,607.14 1124.3,606.75 1124.69,609.16 1125.09,611.95 1125.49,615.04 1125.88,618.33 1126.28,623.31 1126.68,634.26 1127.08,646.58 1127.47,659.47 1127.87,672.16 1128.27,683.84 1128.66,693.74 1129.06,690.83 1129.46,682.71 1129.86,673.51 1130.25,663.8 1130.65,654.15 1131.05,645.17 1131.44,637.42 1131.84,634.63 1132.24,635.65 1132.64,636.84 1133.03,638.15 1133.43,641.13 1133.83,646.55 1134.23,652.23 1134.62,657.09 1135.02,657.1 1135.42,655.51 1135.81,653.76 1136.21,652.09 1136.61,650.72 1137.01,650.61 1137.4,650.52 1137.8,650.44 1138.2,650.35 1138.59,650.25 1138.99,648.26 1139.39,643.43 1139.79,638.07 1140.18,633.11 1140.58,630.7 1140.98,630 1141.37,629.36 1141.77,628.8 1142.17,628.31 1142.57,630.74 1142.96,634.91 1143.36,639.61 1143.76,644.45 1144.16,649.06 1144.55,653.03 1144.95,654.52 1145.35,654.19 1145.74,653.81 1146.14,652.53 1146.54,647.93 1146.94,642.52 1147.33,636.93 1147.73,631.74 1148.13,627.58 1148.52,629.31 1148.92,631.47 1149.32,633.82 1149.72,636.14 1150.11,638.21 1150.51,639.01 1150.91,636.85 1151.3,634.26 1151.7,631.47 1152.1,628.71 1152.5,626.21 1152.89,624.18 1153.29,624.49 1153.69,624.88 1154.09,625.29 1154.48,625.66 1154.88,625.45 1155.28,623.31 1155.67,620.75 1156.07,618.06 1156.47,615.5 1156.87,613.36 1157.26,616.44 1157.66,621.98 1158.06,628.26 1158.45,635.01 1158.85,641.99 1159.25,648.94 1159.65,655.6 1160.04,661.72 1160.44,667.03 1160.84,667.76 1161.23,663.95 1161.63,659.56 1162.03,654.98 1162.43,650.64 1162.82,646.94 1163.22,645.94 1163.62,645.69 1164.02,645.45 1164.41,645.17 1164.81,641.56 1165.21,635.73 1165.6,629.46 1166,623.69 1166.4,620.27 1166.8,620.36 1167.19,620.45 1167.59,620.56 1167.99,620.69 1168.38,621.7 1168.78,626.45 1169.18,631.76 1169.58,636.07 1169.97,630.53 1170.37,623.61 1170.77,616.89 1171.16,613.23 1171.56,614.84 1171.96,616.32 1172.36,613.19 1172.75,609.26 1173.15,605.34 1173.55,602.2 1173.95,606.48 1174.34,611.59 1174.74,617.3 1175.14,623.37 1175.53,629.56 1175.93,635.63 1176.33,641.34 1176.73,646.45 1177.12,650.72 1177.52,642.76 1177.92,633.03 1178.31,622.22 1178.71,610.99 1179.11,600 1179.51,589.94 1179.9,581.48 1180.3,580.25 1180.7,581.19 1181.09,582.21 1181.49,583.15 1181.89,583.49 1182.29,582.44 1182.68,581.18 1183.08,579.83 1183.48,578.49 1183.88,577.28 1184.27,576.29 1184.67,578.39 1185.07,580.95 1185.46,583.8 1185.86,586.78 1186.26,589.71 1186.66,592.44 1187.05,594.79 1187.45,592.86 1187.85,585.59 1188.24,577.23 1188.64,568.75 1189.04,561.12 1189.44,557.14 1189.83,560.02 1190.23,563.46 1190.63,567.15 1191.02,570.82 1191.42,574.14 1191.82,576.83 1192.22,569.27 1192.61,559.78 1193.01,549.77 1193.41,540.63 1193.81,537.14 1194.2,546.27 1194.6,557.06 1195,568.91 1195.39,581.21 1195.79,593.36 1196.19,604.75 1196.59,614.79 1196.98,619.74 1197.38,613.48 1197.78,606.04 1198.17,597.93 1198.57,589.69 1198.97,581.84 1199.37,574.93 1199.76,570.66 1200.16,570.66 1200.56,570.66 1200.95,569.49 1201.35,563.98 1201.75,557.46 1202.15,550.31 1202.54,542.89 1202.94,535.56 1203.34,528.68 1203.74,522.63 1204.13,519.98 1204.53,525.57 1204.93,532.2 1205.32,539.09 1205.72,545.43 1206.12,548.98 1206.52,550.5 1206.91,551.87 1207.31,553.18 1207.71,554.52 1208.1,555.97 1208.5,558.48 1208.9,564.24 1209.3,570.7 1209.69,577.59 1210.09,584.66 1210.49,591.65 1210.88,598.3 1211.28,604.35 1211.68,609.55 1212.08,606.92 1212.47,600.95 1212.87,594.17 1213.27,586.9 1213.67,579.43 1214.06,572.08 1214.46,565.15 1214.86,558.95 1215.25,553.78 1215.65,555.16 1216.05,556.9 1216.45,558.68 1216.84,560.18 1217.24,557.88 1217.64,553.65 1218.03,548.85 1218.43,543.87 1218.83,539.08 1219.23,534.84 1219.62,533.28 1220.02,538.19 1220.42,544.02 1220.81,550.39 1221.21,556.91 1221.61,563.18 1222.01,568.82 1222.4,573.43 1222.8,568.72 1223.2,563.08 1223.6,556.77 1223.99,550.07 1224.39,543.28 1224.79,536.65 1225.18,530.48 1225.58,525.04 1225.98,522.01 1226.38,524.06 1226.77,526.46 1227.17,528.75 1227.57,530.03 1227.96,529.68 1228.36,529.27 1228.76,528.9 1229.16,533.03 1229.55,544.13 1229.95,555.23 1230.35,554.66 1230.74,543.44 1231.14,530.56 1231.54,516.51 1231.94,501.79 1232.33,486.88 1232.73,472.27 1233.13,458.47 1233.53,445.96 1233.92,435.23 1234.32,435.27 1234.72,438.95 1235.11,443.09 1235.51,447.56 1235.91,452.21 1236.31,456.92 1236.7,467.06 1237.1,478.29 1237.5,490.21 1237.89,502.43 1238.29,514.54 1238.69,526.14 1239.09,536.83 1239.48,546.22 1239.88,547.42 1240.28,540.52 1240.68,532.53 1241.07,523.95 1241.47,515.3 1241.87,507.11 1242.26,499.9 1242.66,496.23 1243.06,500.28 1243.46,505.08 1243.85,509.89 1244.25,513.93 1244.65,513.61 1245.04,511.77 1245.44,509.71 1245.84,506.19 1246.24,500.69 1246.63,494.68 1247.03,488.44 1247.43,482.23 1247.82,476.33 1248.22,471.02 1248.62,466.57 1249.02,470.49 1249.41,475.01 1249.81,480.03 1250.21,485.44 1250.61,491.11 1251,496.94 1251.4,502.81 1251.8,508.6 1252.19,514.22 1252.59,519.54 1252.99,524.45 1253.39,528.83 1253.78,530.47 1254.18,524.66 1254.58,517.76 1254.97,510.21 1255.37,502.45 1255.77,494.9 1256.17,488 1256.56,482.19 1256.96,485.75 1257.36,493.66 1257.75,502.57 1258.15,511.67 1258.55,520.18 1258.95,527.29 1259.34,524.11 1259.74,516.7 1260.14,508.35 1260.54,499.52 1260.93,490.7 1261.33,482.36 1261.73,474.97 1262.12,472.01 1262.52,469.11 1262.92,466.28 1263.32,463.58 1263.71,461.04 1264.11,458.68 1264.51,456.56 1264.9,456.18 1265.3,461 1265.7,466.65 1266.1,472.88 1266.49,479.43 1266.89,486.05 1267.29,492.47 1267.68,498.44 1268.08,503.71 1268.48,506.12 1268.88,501.58 1269.27,496.14 1269.67,490.46 1270.07,485.18 1270.47,480.96 1270.86,485.62 1271.26,491.38 1271.66,497.73 1272.05,504.21 1272.45,510.33 1272.85,515.6 1273.25,515.3 1273.64,509.17 1274.04,502.1 1274.44,494.93 1274.83,488.48 1275.23,485.44 1275.63,489.85 1276.03,485.83 1276.42,470.92 1276.82,454.19 1277.22,438.56 1277.61,429.31 1278.01,429.31" fill="none" stroke="#1f77b4" stroke-width="3" stroke-linejoin="round" stroke-linecap="butt" clip-path="url(#c409)"/>
<polyline points="677.25,680.89 677.65,671.18 678.04,661.97 678.44,653.44 678.84,645.48 679.24,637.93 679.63,631.31 680.03,625.56 680.43,622.62 680.82,628.19 681.22,634.96 681.62,642.58 682.02,650.3 682.41,657.82 682.81,665.06 683.21,671.4 683.6,674.21 684,669.28 684.4,663.66 684.8,657.43 685.19,650.57 685.59,644 685.99,637.75 686.39,631.46 686.78,625.96 687.18,621.47 687.58,624.56 687.97,628.75 688.37,632.98 688.77,636.07 689.17,635.48 689.56,633.75 689.96,631.77 690.36,629.77 690.75,627.5 691.15,625.41 691.55,628.35 691.95,633.66 692.34,639.5 692.74,645.74 693.14,652 693.53,658.38 693.93,664.61 694.33,670.02 694.73,674.38 695.12,671.5 695.52,668.4 695.92,664.7 696.32,660.43 696.71,656.61 697.11,652.99 697.51,649.76 697.9,647.42 698.3,647.85 698.7,648.2 699.1,649.02 699.49,649.75 699.89,650.66 700.29,651.61 700.68,649.82 701.08,646.41 701.48,642.39 701.88,638.7 702.27,635.97 702.67,636.97 703.07,638.5 703.46,639.87 703.86,639.29 704.26,634.3 704.66,628.62 705.05,622.57 705.45,616.95 705.85,612.43 706.25,612.33 706.64,616.39 707.04,621 707.44,625.93 707.83,631.04 708.23,635.64 708.63,639.58 709.03,639.78 709.42,638.31 709.82,636.57 710.22,634.81 710.61,632.92 711.01,635.11 711.41,638.47 711.81,642.1 712.2,645.53 712.6,649.34 713,653.51 713.39,657.38 713.79,660.81 714.19,664.35 714.59,667.95 714.98,670.94 715.38,673.41 715.78,670.17 716.18,665.98 716.57,661.37 716.97,657.64 717.37,655.71 717.76,656.53 718.16,657.57 718.56,658.73 718.96,654.75 719.35,649.67 719.75,644.19 720.15,638.5 720.54,632.71 720.94,627.32 721.34,621.97 721.74,616.63 722.13,611.77 722.53,611 722.93,614.43 723.32,618.21 723.72,621.83 724.12,625.26 724.52,628.63 724.91,632.28 725.31,635.9 725.71,639.31 726.11,643.1 726.5,646.63 726.9,649.91 727.3,653.4 727.69,656.61 728.09,659.42 728.49,662.04 728.89,659.47 729.28,654.35 729.68,648.84 730.08,643.07 730.47,637.81 730.87,636.54 731.27,638.76 731.67,641.13 732.06,643.16 732.46,641.64 732.86,636.44 733.25,630.83 733.65,624.69 734.05,618.16 734.45,611.63 734.84,605.08 735.24,598.92 735.64,593.76 736.04,592.88 736.43,595.73 736.83,598.92 737.23,602.55 737.62,605.52 738.02,606.52 738.42,605.6 738.82,605.09 739.21,604.51 739.61,617.25 740.01,633.47 740.4,650.8 740.8,666.56 741.2,674.56 741.6,667.74 741.99,659.55 742.39,650.67 742.79,641.33 743.19,632.29 743.58,624.2 743.98,617.23 744.38,616.57 744.77,621.78 745.17,627.35 745.57,633.21 745.97,639.36 746.36,645.59 746.76,651.66 747.16,656.97 747.55,661.54 747.95,660.75 748.35,654.5 748.75,647.85 749.14,640.53 749.54,632.49 749.94,624.48 750.33,617.57 750.73,612.1 751.13,613.97 751.53,619 751.92,625.02 752.32,630.81 752.72,633.54 753.12,630.03 753.51,626.53 753.91,625.84 754.31,625.68 754.7,625.68 755.1,625.74 755.5,625.69 755.9,625.47 756.29,627.73 756.69,633.4 757.09,628.61 757.48,622.19 757.88,615.26 758.28,608.54 758.68,602.4 759.07,599.89 759.47,605 759.87,610.77 760.26,617.13 760.66,623.81 761.06,630.51 761.46,637.16 761.85,643.04 762.25,647.49 762.65,648.07 763.05,648.01 763.44,647.77 763.84,647.38 764.24,647.58 764.63,650.86 765.03,654.05 765.43,653.18 765.83,648.88 766.22,643.72 766.62,637.73 767.02,632.04 767.41,624.95 767.81,615.09 768.21,604.46 768.61,593.79 769,583.62 769.4,574.39 769.8,570.01 770.19,577.7 770.59,587.08 770.99,597.14 771.39,607.44 771.78,618.46 772.18,629.88 772.58,640.92 772.98,651.52 773.37,661.76 773.77,671.34 774.17,679.93 774.56,684.44 774.96,678.44 775.36,670.98 775.76,662.88 776.15,654.68 776.55,646.84 776.95,639.81 777.34,636.34 777.74,640.56 778.14,645.19 778.54,647.46 778.93,644.57 779.33,640.82 779.73,637.35 780.12,634 780.52,630.4 780.92,627.5 781.32,626.62 781.71,625.85 782.11,625.37 782.51,629.44 782.91,636.24 783.3,642.94 783.7,648.18 784.1,645.44 784.49,642 784.89,637.71 785.29,633.4 785.69,629.33 786.08,625.54 786.48,622.4 786.88,624.92 787.27,629.51 787.67,634.46 788.07,640.34 788.47,646.3 788.86,652.01 789.26,657.36 789.66,661.72 790.05,659.6 790.45,654.87 790.85,649.46 791.25,643.48 791.64,638 792.04,634.29 792.44,631.74 792.84,629.36 793.23,627.01 793.63,624.56 794.03,621.32 794.42,616.82 794.82,612.41 795.22,608.37 795.62,604.99 796.01,608.7 796.41,615.91 796.81,623.74 797.2,631.68 797.6,640.05 798,647.91 798.4,654.23 798.79,652.73 799.19,648.6 799.59,644.4 799.98,640.05 800.38,635.1 800.78,629.43 801.18,623.69 801.57,618.47 801.97,613.72 802.37,609 802.77,604.11 803.16,599.81 803.56,596.42 803.96,601.33 804.35,607.01 804.75,613.54 805.15,620.65 805.55,627.57 805.94,634.3 806.34,640.93 806.74,647.17 807.13,652.45 807.53,650.71 807.93,645.97 808.33,641.44 808.72,637.24 809.12,632.93 809.52,629.42 809.91,632.77 810.31,636.67 810.71,640.52 811.11,644.78 811.5,649.58 811.9,653.81 812.3,657.38 812.7,660.88 813.09,662.01 813.49,660.49 813.89,658.45 814.28,655.91 814.68,653.3 815.08,650.94 815.48,647.33 815.87,638.9 816.27,629.08 816.67,619.14 817.06,610.84 817.46,608.14 817.86,609.63 818.26,610.3 818.65,607.57 819.05,604.63 819.45,608.18 819.84,614.97 820.24,622.37 820.64,629.78 821.04,637.07 821.43,640.6 821.83,635.47 822.23,629.15 822.63,622.63 823.02,616.23 823.42,609.76 823.82,603.71 824.21,598.49 824.61,597.76 825.01,601.07 825.41,604.44 825.8,608.02 826.2,611.96 826.6,615.25 826.99,614.77 827.39,613.24 827.79,611.69 828.19,612.56 828.58,615.07 828.98,618.26 829.38,621.54 829.77,624.92 830.17,628.05 830.57,630.73 830.97,632.87 831.36,634.85 831.76,636.54 832.16,637.94 832.56,639.35 832.95,640.8 833.35,637.21 833.75,632.95 834.14,628.37 834.54,623.37 834.94,618.58 835.34,613.91 835.73,608.95 836.13,604.09 836.53,599.88 836.92,596.25 837.32,592.96 837.72,593.86 838.12,594.79 838.51,596.33 838.91,598.28 839.31,601.35 839.7,609 840.1,617.55 840.5,626.02 840.9,633.77 841.29,636.06 841.69,633.43 842.09,630.8 842.49,630.33 842.88,634.68 843.28,639.43 843.68,643.94 844.07,647.94 844.47,644.82 844.87,638.5 845.27,631.64 845.66,624.53 846.06,617.09 846.46,609.67 846.85,602.66 847.25,596.28 847.65,591.24 848.05,596.39 848.44,602.24 848.84,608.88 849.24,615.97 849.63,622.85 850.03,629.71 850.43,636.13 850.83,641.24 851.22,644.17 851.62,643.89 852.02,643.77 852.42,643.06 852.81,641.9 853.21,640.77 853.61,639.83 854,631.39 854.4,621.55 854.8,611.4 855.2,600.53 855.59,589.53 855.99,580.4 856.39,577.09 856.78,574.81 857.18,572.76 857.58,571.15 857.98,569.75 858.37,573.74 858.77,578.28 859.17,582.96 859.56,588.17 859.96,593.11 860.36,597.33 860.76,599.72 861.15,602.02 861.55,604.66 861.95,607.64 862.35,613.06 862.74,618.65 863.14,624.51 863.54,631.17 863.93,637.67 864.33,643 864.73,647.96 865.13,652.77 865.52,655.04 865.92,655.27 866.32,655.43 866.71,656.73 867.11,663.35 867.51,671.27 867.91,678.74 868.3,679.2 868.7,673.43 869.1,667.17 869.49,660.37 869.89,653.29 870.29,646.87 870.69,641.32 871.08,637.45 871.48,636.67 871.88,636.24 872.28,636.02 872.67,632.98 873.07,626.56 873.47,619.27 873.86,611.21 874.26,603.17 874.66,595.76 875.06,589.61 875.45,589.54 875.85,591.57 876.25,593.77 876.64,595.89 877.04,599.28 877.44,608.23 877.84,618.67 878.23,629.02 878.63,637.93 879.03,639.5 879.42,635.06 879.82,630.2 880.22,624.79 880.62,619.18 881.01,613.83 881.41,608.89 881.81,604.72 882.21,607.39 882.6,613.39 883,620.37 883.4,627.29 883.79,633.56 884.19,636.79 884.59,633.49 884.99,630.25 885.38,630.84 885.78,632.64 886.18,634.4 886.57,636.09 886.97,638 887.37,640.21 887.77,642.05 888.16,643.6 888.56,640.81 888.96,635.38 889.35,629.46 889.75,623.58 890.15,617.85 890.55,614.36 890.94,612.76 891.34,610.94 891.74,608.94 892.14,607.38 892.53,606.93 892.93,606.85 893.33,607.25 893.72,607.49 894.12,607.26 894.52,607 894.92,611.66 895.31,617.81 895.71,625.06 896.11,632.09 896.5,638.44 896.9,643.77 897.3,641.12 897.7,634.88 898.09,627.89 898.49,621.04 898.89,614.9 899.28,612.37 899.68,618.16 900.08,625.13 900.48,631.94 900.87,638.37 901.27,645.41 901.67,652.45 902.07,658.3 902.46,658.2 902.86,652.17 903.26,645.28 903.65,638.51 904.05,631.56 904.45,624.34 904.85,617.79 905.24,612.13 905.64,607.37 906.04,613.69 906.43,621.11 906.83,629.73 907.23,639.1 907.63,648.45 908.02,657.44 908.42,666.22 908.82,674.75 909.22,682.61 909.61,684.55 910.01,680.57 910.41,676.1 910.8,671.51 911.2,666.65 911.6,662.14 912,658.55 912.39,660.12 912.79,663.52 913.19,666.76 913.58,670.45 913.98,674.55 914.38,678.32 914.78,681.24 915.17,673.17 915.57,663.37 915.97,652.83 916.36,641.76 916.76,630.46 917.16,620.4 917.56,612.44 917.95,614.6 918.35,620.88 918.75,627.92 919.15,634.81 919.54,641.2 919.94,644.73 920.34,641.05 920.73,635.97 921.13,630.59 921.53,625.91 921.93,622.04 922.32,622.92 922.72,626.05 923.12,629.4 923.51,632.54 923.91,635.62 924.31,638.67 924.71,641.95 925.1,644.56 925.5,641.05 925.9,634.82 926.29,628.35 926.69,622 927.09,616.27 927.49,614.48 927.88,616.02 928.28,617.77 928.68,619.24 929.08,621.45 929.47,627.95 929.87,635.5 930.27,642.77 930.66,648.91 931.06,644.9 931.46,639.75 931.86,634.19 932.25,628.47 932.65,622.51 933.05,616.55 933.44,610.82 933.84,605.1 934.24,599.73 934.64,595.38 935.03,597.25 935.43,599.87 935.83,602.68 936.22,604.98 936.62,607.5 937.02,610.19 937.42,612.78 937.81,615.25 938.21,613.82 938.61,607.62 939.01,600.83 939.4,594.28 939.8,588.97 940.2,591.73 940.59,594.94 940.99,598.16 941.39,601.36 941.79,604.21 942.18,607.02 942.58,606.55 942.98,601.67 943.37,595.84 943.77,589.57 944.17,583.15 944.57,577.24 944.96,572.05 945.36,569.93 945.76,575.6 946.15,581.98 946.55,587.6 946.95,588.3 947.35,584.54 947.74,580.83 948.14,579.85 948.54,584.44 948.94,589.84 949.33,596.13 949.73,602.68 950.13,609.19 950.52,615.44 950.92,621.21 951.32,625.94 951.72,623.51 952.11,618.18 952.51,612.59 952.91,606.81 953.3,601.21 953.7,596.71 954.1,600.75 954.5,608.42 954.89,616.52 955.29,625.05 955.69,634.03 956.08,642.38 956.48,649.73 956.88,652.9 957.28,654.67 957.67,656.59 958.07,658.46 958.47,659.9 958.87,661.18 959.26,662.28 959.66,660.67 960.06,657.69 960.45,654.29 960.85,650.63 961.25,647.14 961.65,644.33 962.04,641.76 962.44,640.69 962.84,641.46 963.23,642.5 963.63,640.92 964.03,636.36 964.43,631.56 964.82,626.76 965.22,626.19 965.62,630.23 966.01,634.65 966.41,637.01 966.81,635.25 967.21,633.09 967.6,631.3 968,629.65 968.4,629.92 968.8,631.34 969.19,632.26 969.59,630.59 969.99,628.05 970.38,626.05 970.78,627.46 971.18,632.48 971.58,636.94 971.97,630.89 972.37,623.37 972.77,615.23 973.16,606.78 973.56,598.28 973.96,590.26 974.36,583.07 974.75,577.14 975.15,583.7 975.55,591.96 975.94,601.3 976.34,610.12 976.74,617.96 977.14,624.92 977.53,624.74 977.93,621.77 978.33,618.42 978.73,615.45 979.12,615.65 979.52,618.54 979.92,622.02 980.31,626.35 980.71,630.83 981.11,635.01 981.51,639.3 981.9,643.55 982.3,647.44 982.7,650.92 983.09,651.63 983.49,649.55 983.89,646.92 984.29,644.21 984.68,641.67 985.08,639.24 985.48,636.85 985.87,634.52 986.27,632.43 986.67,632.65 987.07,633.23 987.46,633.69 987.86,633.92 988.26,634.22 988.66,634.58 989.05,635.1 989.45,635.9 989.85,636.53 990.24,636.85 990.64,637.56 991.04,639.01 991.44,640.84 991.83,642.75 992.23,644.37 992.63,638.07 993.02,629.53 993.42,620 993.82,610.86 994.22,602.95 994.61,599.69 995.01,604.43 995.41,609.43 995.8,614.79 996.2,619.96 996.6,625.38 997,631.37 997.39,636.65 997.79,640.74 998.19,640.01 998.59,637.25 998.98,634.47 999.38,632.47 999.78,637.17 1000.17,642.5 1000.57,648.33 1000.97,654.85 1001.37,661.29 1001.76,667.19 1002.16,672.93 1002.56,677.72 1002.95,675.46 1003.35,670.53 1003.75,664.85 1004.15,658.86 1004.54,652.9 1004.94,647.11 1005.34,641.3 1005.73,635.78 1006.13,632.89 1006.53,634.84 1006.93,637.19 1007.32,640.12 1007.72,643.2 1008.12,646.13 1008.52,648.65 1008.91,650.7 1009.31,652.06 1009.71,651.92 1010.1,651.77 1010.5,651.55 1010.9,651.09 1011.3,649.3 1011.69,645.5 1012.09,641.01 1012.49,636.23 1012.88,631.36 1013.28,627.08 1013.68,623.11 1014.08,619.11 1014.47,620.9 1014.87,625.88 1015.27,631.44 1015.66,636.73 1016.06,641.91 1016.46,646.81 1016.86,650.92 1017.25,650.28 1017.65,648.04 1018.05,645.52 1018.45,642.41 1018.84,639.35 1019.24,636.73 1019.64,634.04 1020.03,633.2 1020.43,634.05 1020.83,634.18 1021.23,634.13 1021.62,634.56 1022.02,634.83 1022.42,635.18 1022.81,635.47 1023.21,635.43 1023.61,636.03 1024.01,636.91 1024.4,635.12 1024.8,629.83 1025.2,623.26 1025.59,616.88 1025.99,611.9 1026.39,610.01 1026.79,608.66 1027.18,607.5 1027.58,606.2 1027.98,604.82 1028.38,603.87 1028.77,603.25 1029.17,603.14 1029.57,603.36 1029.96,603.52 1030.36,603.44 1030.76,603.2 1031.16,608.74 1031.55,617.92 1031.95,627.6 1032.35,636.77 1032.74,641.14 1033.14,636.71 1033.54,631.93 1033.94,626.49 1034.33,620.4 1034.73,614.64 1035.13,609.31 1035.52,604.44 1035.92,605.83 1036.32,614.1 1036.72,623.5 1037.11,633.33 1037.51,643.38 1037.91,653.35 1038.31,662.7 1038.7,670.31 1039.1,668.88 1039.5,664.52 1039.89,660.19 1040.29,655.63 1040.69,650.63 1041.09,645.69 1041.48,641.56 1041.88,641.37 1042.28,645.1 1042.67,649.72 1043.07,654.4 1043.47,658.24 1043.87,657.74 1044.26,652.76 1044.66,647.1 1045.06,641.41 1045.45,635.47 1045.85,629.75 1046.25,625.39 1046.65,627.14 1047.04,630.88 1047.44,634.95 1047.84,639.57 1048.24,644.57 1048.63,649.17 1049.03,653.28 1049.43,654.92 1049.82,650.23 1050.22,644.79 1050.62,639.01 1051.02,633.24 1051.41,627.81 1051.81,622.64 1052.21,617.96 1052.6,622.43 1053,628.34 1053.4,634.99 1053.8,641.84 1054.19,648.67 1054.59,655.46 1054.99,661.91 1055.38,667.52 1055.78,669.8 1056.18,664.1 1056.58,657.45 1056.97,650.39 1057.37,643.05 1057.77,635.5 1058.17,627.69 1058.56,619.71 1058.96,612.04 1059.36,604.71 1059.75,597.65 1060.15,591.25 1060.55,585.62 1060.95,588.71 1061.34,595.63 1061.74,603.43 1062.14,612.04 1062.53,621.44 1062.93,630.8 1063.33,639.78 1063.73,648.68 1064.12,657.48 1064.52,665.76 1064.92,672.81 1065.31,671.8 1065.71,663.29 1066.11,654.32 1066.51,644.26 1066.9,633.23 1067.3,622.04 1067.7,610.91 1068.1,600.08 1068.49,590.46 1068.89,582.56 1069.29,583.3 1069.68,592.63 1070.08,602.87 1070.48,613.89 1070.88,625.79 1071.27,637.47 1071.67,648.58 1072.07,659.25 1072.46,668.25 1072.86,670.43 1073.26,666.77 1073.66,662.68 1074.05,658.93 1074.45,657.08 1074.85,655.71 1075.25,654.29 1075.64,653.07 1076.04,652.07 1076.44,651.31 1076.83,653.15 1077.23,655.16 1077.63,657.13 1078.03,657.8 1078.42,655.23 1078.82,652.06 1079.22,648.38 1079.61,644.6 1080.01,640.97 1080.41,637.78 1080.81,634.6 1081.2,631.19 1081.6,628.33 1082,626.02 1082.39,628.07 1082.79,630.5 1083.19,632.45 1083.59,629.53 1083.98,626.2 1084.38,623.08 1084.78,620.26 1085.18,619.07 1085.57,622.08 1085.97,625.93 1086.37,630.19 1086.76,634.56 1087.16,638.61 1087.56,642.24 1087.96,645.68 1088.35,646.9 1088.75,646.45 1089.15,646.04 1089.54,645.2 1089.94,644.24 1090.34,643.77 1090.74,645.09 1091.13,647.12 1091.53,649.17 1091.93,651.06 1092.32,648.33 1092.72,643.1 1093.12,637.97 1093.52,633.22 1093.91,628.69 1094.31,625.79 1094.71,627.05 1095.11,628.81 1095.5,627.96 1095.9,625.73 1096.3,623.38 1096.69,621.29 1097.09,619.24 1097.49,619.68 1097.89,623.57 1098.28,628.1 1098.68,632.69 1099.08,637.44 1099.47,641.72 1099.87,643.6 1100.27,641.43 1100.67,639.19 1101.06,637.5 1101.46,638.81 1101.86,642.79 1102.25,647.46 1102.65,652.71 1103.05,657.84 1103.45,663.44 1103.84,668.84 1104.24,672.8 1104.64,670.76 1105.04,662.5 1105.43,653.37 1105.83,643.37 1106.23,632.71 1106.62,622.59 1107.02,613.22 1107.42,604.86 1107.82,600.58 1108.21,604.7 1108.61,609.43 1109.01,614.23 1109.4,619.12 1109.8,623.63 1110.2,626.88 1110.6,626.16 1110.99,625.9 1111.39,625.08 1111.79,623.73 1112.18,622.66 1112.58,621.75 1112.98,620.48 1113.38,613.06 1113.77,605.12 1114.17,596.03 1114.57,585.93 1114.97,576.27 1115.36,567.27 1115.76,559.12 1116.16,555.21 1116.55,561.15 1116.95,568.5 1117.35,576.56 1117.75,584.17 1118.14,591.36 1118.54,597.73 1118.94,598.17 1119.33,598.29 1119.73,598.47 1120.13,598.45 1120.53,598.71 1120.92,599.62 1121.32,601.85 1121.72,605.85 1122.11,610.18 1122.51,613.87 1122.91,614.56 1123.31,613.15 1123.7,611.55 1124.1,610.09 1124.5,608.88 1124.9,608.46 1125.29,610.5 1125.69,613.01 1126.09,616.11 1126.48,619.78 1126.88,625.04 1127.28,635.81 1127.68,647.97 1128.07,660.73 1128.47,673.25 1128.87,685.08 1129.26,695.32 1129.66,692.48 1130.06,684.18 1130.46,674.91 1130.85,665.2 1131.25,655.58 1131.65,646.9 1132.04,639.33 1132.44,636.41 1132.84,637.35 1133.24,638.36 1133.63,639.62 1134.03,642.74 1134.43,648.04 1134.83,653.48 1135.22,658.32 1135.62,658.06 1136.02,656.38 1136.41,655.11 1136.81,653.72 1137.21,652.29 1137.61,652.19 1138,652.05 1138.4,651.78 1138.8,651.77 1139.19,651.7 1139.59,649.46 1139.99,644.56 1140.39,639.51 1140.78,634.89 1141.18,632.56 1141.58,631.58 1141.97,630.78 1142.37,630.24 1142.77,629.88 1143.17,632.52 1143.56,636.72 1143.96,641.53 1144.36,646.22 1144.76,650.55 1145.15,654.47 1145.55,655.79 1145.95,655.5 1146.34,655.17 1146.74,653.81 1147.14,649.28 1147.54,644.23 1147.93,638.79 1148.33,633.21 1148.73,628.82 1149.12,630.65 1149.52,632.91 1149.92,635.09 1150.32,637.29 1150.71,639.6 1151.11,640.39 1151.51,637.87 1151.9,635.29 1152.3,632.9 1152.7,630.54 1153.1,627.98 1153.49,625.42 1153.89,625.57 1154.29,626.18 1154.69,626.56 1155.08,626.77 1155.48,626.58 1155.88,624.73 1156.27,622.17 1156.67,619.09 1157.07,616.83 1157.47,615.22 1157.86,618.2 1158.26,623.55 1158.66,629.72 1159.05,636.52 1159.45,643.67 1159.85,650.6 1160.25,657.24 1160.64,663.37 1161.04,668.57 1161.44,669.17 1161.83,665.18 1162.23,660.8 1162.63,656.44 1163.03,652.37 1163.42,648.89 1163.82,647.54 1164.22,647 1164.62,646.68 1165.01,646.05 1165.41,642.52 1165.81,637.06 1166.2,631.05 1166.6,625.64 1167,622.47 1167.4,622.65 1167.79,622.44 1168.19,622.02 1168.59,622.11 1168.98,623.24 1169.38,628.02 1169.78,633.55 1170.18,638.13 1170.57,632.48 1170.97,625.22 1171.37,618.25 1171.76,614.24 1172.16,615.69 1172.56,617.3 1172.96,614.38 1173.35,610.35 1173.75,606.06 1174.15,603.04 1174.55,607.66 1174.94,612.87 1175.34,618.78 1175.74,625.14 1176.13,631.24 1176.53,637.04 1176.93,642.74 1177.33,647.95 1177.72,652.4 1178.12,644.41 1178.52,634.56 1178.91,623.76 1179.31,612.3 1179.71,601.11 1180.11,591.18 1180.5,582.92 1180.9,581.64 1181.3,582.41 1181.69,583.53 1182.09,584.68 1182.49,585.03 1182.89,584.03 1183.28,582.95 1183.68,581.55 1184.08,580.08 1184.48,578.92 1184.87,577.93 1185.27,580.03 1185.67,582.8 1186.06,585.65 1186.46,588.55 1186.86,591.39 1187.26,593.74 1187.65,595.99 1188.05,594.45 1188.45,587.25 1188.84,578.84 1189.24,570.41 1189.64,562.35 1190.04,558.36 1190.43,561.66 1190.83,564.93 1191.23,568.42 1191.62,572.21 1192.02,575.64 1192.42,578.11 1192.82,570.48 1193.21,561.16 1193.61,551.09 1194.01,542.09 1194.41,538.81 1194.8,547.89 1195.2,558.74 1195.6,570.47 1195.99,582.18 1196.39,594.11 1196.79,605.75 1197.19,616.07 1197.58,621.3 1197.98,615.02 1198.38,607.53 1198.77,599.71 1199.17,591.56 1199.57,583.28 1199.97,576.28 1200.36,572.44 1200.76,572.55 1201.16,572.43 1201.55,571.17 1201.95,565.92 1202.35,559.44 1202.75,551.73 1203.14,544.13 1203.54,536.85 1203.94,529.77 1204.34,523.76 1204.73,521.34 1205.13,527 1205.53,533.68 1205.92,540.53 1206.32,546.85 1206.72,550.41 1207.12,551.9 1207.51,553.02 1207.91,554.05 1208.31,555.64 1208.7,557.4 1209.1,560.06 1209.5,565.79 1209.9,572 1210.29,578.9 1210.69,586.07 1211.09,593.16 1211.48,599.79 1211.88,605.73 1212.28,610.85 1212.68,608.2 1213.07,602.33 1213.47,595.77 1213.87,588.73 1214.27,581.1 1214.66,573.4 1215.06,566.42 1215.46,560.32 1215.85,555.01 1216.25,556.09 1216.65,557.83 1217.05,559.98 1217.44,561.81 1217.84,559.64 1218.24,555.26 1218.63,550.11 1219.03,545.1 1219.43,540.32 1219.83,535.84 1220.22,534.26 1220.62,539.53 1221.02,545.56 1221.41,551.76 1221.81,558.08 1222.21,564.4 1222.61,570.32 1223,575.06 1223.4,570.35 1223.8,564.65 1224.2,558.14 1224.59,551.36 1224.99,544.61 1225.39,538.03 1225.78,531.87 1226.18,526.42 1226.58,523.44 1226.98,525.61 1227.37,528.05 1227.77,530.03 1228.17,531.04 1228.56,530.76 1228.96,530.39 1229.36,529.9 1229.76,534.03 1230.15,545.5 1230.55,556.85 1230.95,556.39 1231.34,545.18 1231.74,532.07 1232.14,518.07 1232.54,502 1232.93,485.58 1233.33,469.55 1233.73,454.15 1234.13,440.29 1234.52,428.36 1234.92,428.19 1235.32,432.23 1235.71,436.78 1236.11,441.87 1236.51,447.2 1236.91,452.2 1237.3,463.2 1237.7,475.48 1238.1,488.57 1238.49,502.46 1238.89,515.87 1239.29,527.26 1239.69,537.86 1240.08,547.43 1240.48,548.82 1240.88,542.23 1241.28,534.51 1241.67,526.08 1242.07,517.15 1242.47,507.8 1242.86,499.42 1243.26,495.36 1243.66,499.95 1244.06,505.28 1244.45,510.54 1244.85,514.76 1245.25,514.46 1245.64,512.71 1246.04,510.46 1246.44,506.45 1246.84,500.43 1247.23,493.75 1247.63,486.63 1248.03,479.96 1248.42,473.77 1248.82,467.98 1249.22,463 1249.62,467.22 1250.01,472.22 1250.41,477.76 1250.81,483.63 1251.21,489.68 1251.6,495.89 1252,502.62 1252.4,509.27 1252.79,515.25 1253.19,521 1253.59,526.24 1253.99,530.6 1254.38,531.95 1254.78,526.12 1255.18,519.39 1255.57,510.96 1255.97,502.28 1256.37,494.32 1256.77,486.93 1257.16,480.18 1257.56,483.81 1257.96,492.33 1258.35,502.28 1258.75,512.75 1259.15,521.96 1259.55,529.14 1259.94,525.73 1260.34,517.61 1260.74,508.38 1261.14,499.15 1261.53,489.92 1261.93,480.94 1262.33,472.71 1262.72,469.48 1263.12,466.26 1263.52,462.98 1263.92,459.73 1264.31,456.72 1264.71,454.23 1265.11,451.74 1265.5,451.06 1265.9,456.63 1266.3,463.27 1266.7,470.08 1267.09,477.07 1267.49,484.4 1267.89,491.62 1268.28,498.34 1268.68,504.13 1269.08,506.45 1269.48,501.18 1269.87,495.36 1270.27,489.5 1270.67,483.87 1271.07,479 1271.46,483.9 1271.86,490.1 1272.26,497.06 1272.65,504.35 1273.05,511.11 1273.45,516.85 1273.85,516.24 1274.24,509.16 1274.64,501.59 1275.04,494.02 1275.43,486.91 1275.83,483.55 1276.23,488.48 1276.63,484.08 1277.02,468.08 1277.42,449.85 1277.82,432.1 1278.21,421.81 1278.61,422.04" fill="none" stroke="#ff7f0e" stroke-width="2.6" stroke-linejoin="round" stroke-linecap="butt" clip-path="url(#c409)"/>
<polyline points="676.95,680.15 677.35,670.5 677.74,661.37 678.14,652.85 678.54,644.89 678.94,637.42 679.33,630.71 679.73,624.75 680.13,621.79 680.52,627.44 680.92,634.22 681.32,641.76 681.72,649.5 682.11,657.08 682.51,664.28 682.91,670.61 683.3,673.47 683.7,668.6 684.1,662.97 684.5,656.75 684.89,650.04 685.29,643.43 685.69,637.06 686.09,630.87 686.48,625.39 686.88,620.86 687.28,623.98 687.67,628.04 688.07,632.17 688.47,635.42 688.87,634.9 689.26,633.1 689.66,631.06 690.06,628.99 690.45,626.85 690.85,624.97 691.25,627.89 691.65,633.12 692.04,638.96 692.44,645.22 692.84,651.57 693.23,657.92 693.63,664.02 694.03,669.4 694.43,673.81 694.82,670.98 695.22,667.76 695.62,664.04 696.02,659.93 696.41,656.05 696.81,652.37 697.21,649.08 697.6,646.52 698,647.04 698.4,647.58 698.8,648.39 699.19,649.16 699.59,650 699.99,650.79 700.38,648.97 700.78,645.6 701.18,641.76 701.58,638.18 701.97,635.44 702.37,636.41 702.77,637.76 703.16,639.02 703.56,638.59 703.96,633.76 704.36,628.12 704.75,622.13 705.15,616.45 705.55,611.72 705.95,611.51 706.34,615.58 706.74,620.25 707.14,625.24 707.53,630.3 707.93,634.9 708.33,638.8 708.73,638.83 709.12,637.29 709.52,635.54 709.92,633.83 710.31,632.21 710.71,634.63 711.11,637.85 711.51,641.36 711.9,644.92 712.3,648.74 712.7,652.78 713.09,656.68 713.49,660.32 713.89,663.92 714.29,667.43 714.68,670.46 715.08,673.01 715.48,669.65 715.88,665.38 716.27,660.78 716.67,656.81 717.07,654.7 717.46,655.64 717.86,656.75 718.26,657.81 718.66,653.83 719.05,648.93 719.45,643.55 719.85,637.89 720.24,632.1 720.64,626.54 721.04,621.13 721.44,615.94 721.83,611.32 722.23,610.63 722.63,613.78 723.02,617.29 723.42,620.86 723.82,624.41 724.22,627.97 724.61,631.65 725.01,635.24 725.41,638.63 725.81,642.26 726.2,645.81 726.6,649.21 727,652.68 727.39,655.91 727.79,658.8 728.19,661.41 728.59,658.84 728.98,653.65 729.38,647.98 729.78,642.22 730.17,637.09 730.57,635.88 730.97,638.07 731.37,640.45 731.76,642.54 732.16,641.12 732.56,635.97 732.95,630.23 733.35,623.96 733.75,617.37 734.15,610.79 734.54,604.32 734.94,598.3 735.34,593.17 735.74,592.19 736.13,594.97 736.53,598.13 736.93,601.53 737.32,604.44 737.72,605.72 738.12,604.92 738.52,604.28 738.91,603.67 739.31,616.53 739.71,632.79 740.1,650.04 740.5,665.76 740.9,673.71 741.3,666.92 741.69,658.81 742.09,649.98 742.49,640.77 742.89,631.8 743.28,623.63 743.68,616.57 744.08,615.78 744.47,620.8 744.87,626.36 745.27,632.32 745.67,638.54 746.06,644.8 746.46,650.86 746.86,656.3 747.25,661 747.65,660.33 748.05,654.1 748.45,647.17 748.84,639.63 749.24,631.65 749.64,623.81 750.03,616.86 750.43,611.18 750.83,613.13 751.23,618.41 751.62,624.43 752.02,630.1 752.42,632.77 752.82,629.23 753.21,625.69 753.61,625.01 754.01,624.93 754.4,624.93 754.8,624.96 755.2,624.94 755.6,624.83 755.99,627.18 756.39,632.72 756.79,627.83 757.18,621.51 757.58,614.65 757.98,607.93 758.38,601.88 758.77,599.33 759.17,604.32 759.57,610.06 759.96,616.39 760.36,623.01 760.76,629.65 761.16,636.12 761.55,641.92 761.95,646.57 762.35,647.35 762.75,647.26 763.14,647.08 763.54,646.82 763.94,646.87 764.33,650.03 764.73,653.36 765.13,652.61 765.53,648.15 765.92,642.92 766.32,637.07 766.72,631.3 767.11,624.01 767.51,614.07 767.91,603.42 768.31,592.73 768.7,582.57 769.1,573.44 769.5,569.29 769.89,577.06 770.29,586.26 770.69,596.26 771.09,606.7 771.48,617.72 771.88,629.04 772.28,640.13 772.68,650.85 773.07,661.12 773.47,670.66 773.87,679.18 774.26,683.55 774.66,677.47 775.06,670.08 775.46,662.04 775.85,653.88 776.25,646.1 776.65,639.19 777.04,635.72 777.44,639.76 777.84,644.19 778.24,646.3 778.63,643.5 779.03,640.02 779.43,636.54 779.82,633.11 780.22,629.65 780.62,626.78 781.02,625.86 781.41,625.27 781.81,624.86 782.21,628.78 782.61,635.46 783,642.17 783.4,647.48 783.8,644.63 784.19,641.1 784.59,636.94 784.99,632.7 785.39,628.62 785.78,624.85 786.18,621.7 786.58,624.13 786.97,628.83 787.37,634.03 787.77,639.88 788.17,645.8 788.56,651.49 788.96,656.75 789.36,661.12 789.75,658.99 790.15,654.14 790.55,648.66 790.95,642.83 791.34,637.4 791.74,633.64 792.14,631.06 792.54,628.62 792.93,626.22 793.33,623.72 793.73,620.61 794.12,616.2 794.52,611.73 794.92,607.55 795.32,604.02 795.71,607.69 796.11,614.85 796.51,622.8 796.9,631.01 797.3,639.36 797.7,647.12 798.1,653.5 798.49,652.12 798.89,648.06 799.29,643.73 799.68,639.14 800.08,634.12 800.48,628.65 800.88,623.12 801.27,617.86 801.67,612.91 802.07,608.1 802.47,603.37 802.86,599.17 803.26,595.69 803.66,600.56 804.05,606.27 804.45,612.75 804.85,619.72 805.25,626.68 805.64,633.49 806.04,640.08 806.44,646.17 806.83,651.35 807.23,649.78 807.63,645.35 808.03,640.77 808.42,636.33 808.82,632.03 809.22,628.55 809.61,631.81 810.01,635.66 810.41,639.71 810.81,644.1 811.2,648.77 811.6,653.09 812,656.91 812.4,660.42 812.79,661.33 813.19,659.69 813.59,657.67 813.98,655.3 814.38,652.82 814.78,650.4 815.18,646.7 815.57,638.15 815.97,628.38 816.37,618.6 816.76,610.24 817.16,607.51 817.56,609.1 817.96,609.67 818.35,606.76 818.75,603.75 819.15,607.33 819.54,614.2 819.94,621.78 820.34,629.37 820.74,636.49 821.13,639.81 821.53,634.76 821.93,628.65 822.33,622.16 822.72,615.63 823.12,609.12 823.52,603.06 823.91,597.83 824.31,597 824.71,600.25 825.11,603.77 825.5,607.46 825.9,611.22 826.3,614.36 826.69,613.94 827.09,612.33 827.49,610.8 827.89,611.94 828.28,614.55 828.68,617.67 829.08,620.92 829.47,624.22 829.87,627.33 830.27,629.96 830.67,631.93 831.06,633.82 831.46,635.54 831.86,637.06 832.26,638.5 832.65,639.86 833.05,636.38 833.45,632.27 833.84,627.76 834.24,622.89 834.64,618.03 835.04,613.2 835.43,608.25 835.83,603.44 836.23,599.13 836.62,595.33 837.02,592 837.42,593.05 837.82,594.22 838.21,595.79 838.61,597.64 839.01,600.67 839.4,608.32 839.8,616.93 840.2,625.48 840.6,633.13 840.99,635.33 841.39,632.81 841.79,630.24 842.19,629.65 842.58,633.77 842.98,638.46 843.38,643.03 843.77,646.98 844.17,643.92 844.57,637.77 844.97,630.96 845.36,623.76 845.76,616.31 846.16,608.93 846.55,601.95 846.95,595.67 847.35,590.56 847.75,595.57 848.14,601.4 848.54,607.99 848.94,614.98 849.33,621.94 849.73,628.78 850.13,635.18 850.53,640.55 850.92,643.71 851.32,643.26 851.72,642.85 852.12,642.1 852.51,641.09 852.91,640.07 853.31,639.11 853.7,630.72 854.1,620.84 854.5,610.38 854.9,599.48 855.29,588.79 855.69,579.66 856.09,576.22 856.48,574.09 856.88,572.15 857.28,570.53 857.68,569.13 858.07,572.98 858.47,577.48 858.87,582.28 859.26,587.43 859.66,592.37 860.06,596.73 860.46,599.22 860.85,601.59 861.25,604.13 861.65,606.93 862.05,612.25 862.44,617.9 862.84,623.84 863.24,630.25 863.63,636.55 864.03,642.14 864.43,647.33 864.83,652.12 865.22,654.35 865.62,654.55 866.02,654.7 866.41,656.09 866.81,662.79 867.21,670.67 867.61,677.99 868,678.45 868.4,672.79 868.8,666.44 869.19,659.59 869.59,652.55 869.99,646.02 870.39,640.29 870.78,636.45 871.18,635.9 871.58,635.54 871.98,635.28 872.37,632.3 872.77,625.82 873.17,618.41 873.56,610.4 873.96,602.45 874.36,595.12 874.76,589 875.15,588.86 875.55,590.71 875.95,592.77 876.34,594.87 876.74,598.37 877.14,607.43 877.54,617.85 877.93,628.2 878.33,637.18 878.73,638.87 879.12,634.46 879.52,629.49 879.92,624.04 880.32,618.44 880.71,613.06 881.11,608.12 881.51,603.95 881.91,606.68 882.3,612.74 882.7,619.64 883.1,626.52 883.49,632.71 883.89,635.88 884.29,632.68 884.69,629.52 885.08,630.08 885.48,631.88 885.88,633.76 886.27,635.58 886.67,637.43 887.07,639.47 887.47,641.28 887.86,642.81 888.26,639.96 888.66,634.61 889.05,628.72 889.45,622.8 889.85,617.18 890.25,613.72 890.64,611.92 891.04,610.07 891.44,608.21 891.84,606.7 892.23,606.31 892.63,606.27 893.03,606.47 893.42,606.59 893.82,606.47 894.22,606.35 894.62,611.14 895.01,617.26 895.41,624.24 895.81,631.14 896.2,637.47 896.6,642.77 897,640.15 897.4,633.98 897.79,627.06 898.19,620.23 898.59,614.1 898.98,611.57 899.38,617.17 899.78,623.86 900.18,630.78 900.57,637.62 900.97,644.7 901.37,651.52 901.77,657.29 902.16,657.26 902.56,651.49 902.96,644.87 903.35,638.03 903.75,630.98 904.15,623.83 904.55,617.22 904.94,611.39 905.34,606.53 905.74,612.94 906.13,620.51 906.53,629.14 906.93,638.42 907.33,647.82 907.72,657 908.12,665.87 908.52,674.24 908.92,681.75 909.31,683.49 909.71,679.65 910.11,675.28 910.5,670.7 910.9,666.01 911.3,661.67 911.7,658.13 912.09,659.54 912.49,662.86 912.89,666.3 913.28,670.06 913.68,673.97 914.08,677.54 914.48,680.37 914.87,672.39 915.27,662.67 915.67,652.03 916.06,640.93 916.46,629.84 916.86,619.82 917.26,611.65 917.65,613.78 918.05,620.13 918.45,627.24 918.85,634.27 919.24,640.68 919.64,643.98 920.04,640.19 920.43,635.31 920.83,630.15 921.23,625.48 921.63,621.59 922.02,622.47 922.42,625.38 922.82,628.59 923.21,631.79 923.61,634.98 924.01,638.1 924.41,641.18 924.8,643.72 925.2,640.45 925.6,634.38 925.99,627.86 926.39,621.45 926.79,615.77 927.19,614 927.58,615.34 927.98,616.88 928.38,618.36 928.78,620.76 929.17,627.37 929.57,634.92 929.97,642.18 930.36,648.16 930.76,644.08 931.16,639.05 931.56,633.52 931.95,627.73 932.35,621.72 932.75,615.71 933.14,609.9 933.54,604.3 933.94,599.16 934.34,594.9 934.73,596.78 935.13,599.23 935.53,601.86 935.92,604.22 936.32,606.8 936.72,609.52 937.12,612.12 937.51,614.5 937.91,613.05 938.31,606.87 938.71,599.99 939.1,593.36 939.5,588.04 939.9,590.7 940.29,593.89 940.69,597.25 941.09,600.64 941.49,603.75 941.88,606.61 942.28,605.92 942.68,600.97 943.07,595.13 943.47,588.87 943.87,582.5 944.27,576.56 944.66,571.33 945.06,569.17 945.46,574.72 945.85,581.06 946.25,586.76 946.65,587.53 947.05,583.79 947.44,580.01 947.84,578.9 948.24,583.6 948.64,589.13 949.03,595.39 949.43,601.93 949.83,608.44 950.22,614.69 950.62,620.4 951.02,625.17 951.42,622.92 951.81,617.69 952.21,612 952.61,606.16 953,600.6 953.4,596.05 953.8,599.92 954.2,607.48 954.59,615.73 954.99,624.45 955.39,633.38 955.78,641.75 956.18,649.14 956.58,652.26 956.98,654.07 957.37,655.92 957.77,657.69 958.17,659.19 958.57,660.54 958.96,661.72 959.36,660.14 959.76,657.17 960.15,653.79 960.55,650.18 960.95,646.68 961.35,643.63 961.74,640.93 962.14,639.96 962.54,640.75 962.93,641.67 963.33,640.17 963.73,635.65 964.13,630.76 964.52,626.12 964.92,625.71 965.32,629.67 965.71,633.9 966.11,636.11 966.51,634.4 966.91,632.35 967.3,630.47 967.7,628.82 968.1,629.26 968.5,630.74 968.89,631.49 969.29,629.77 969.69,627.47 970.08,625.53 970.48,626.83 970.88,631.84 971.28,636.24 971.67,630.21 972.07,622.83 972.47,614.71 972.86,606.23 973.26,597.73 973.66,589.68 974.06,582.45 974.45,576.49 974.85,583.06 975.25,591.26 975.64,600.4 976.04,609.33 976.44,617.45 976.84,624.45 977.23,624.17 977.63,621.13 978.03,617.78 978.43,614.81 978.82,615.04 979.22,618.1 979.62,621.7 980.01,625.9 980.41,630.27 980.81,634.52 981.21,638.8 981.6,642.95 982,646.76 982.4,650.12 982.79,650.74 983.19,648.68 983.59,646.18 983.99,643.55 984.38,640.95 984.78,638.42 985.18,635.99 985.57,633.71 985.97,631.75 986.37,632.01 986.77,632.47 987.16,632.89 987.56,633.2 987.96,633.57 988.36,633.96 988.75,634.46 989.15,635.09 989.55,635.65 989.94,636.06 990.34,636.89 990.74,638.4 991.14,640.16 991.53,641.9 991.93,643.35 992.33,636.9 992.72,628.54 993.12,619.32 993.52,610.33 993.92,602.45 994.31,598.9 994.71,603.4 995.11,608.4 995.5,613.84 995.9,619.3 996.3,624.89 996.7,630.64 997.09,635.78 997.49,639.96 997.89,639.28 998.29,636.59 998.68,633.85 999.08,631.77 999.48,636.36 999.87,641.73 1000.27,647.66 1000.67,654.1 1001.07,660.52 1001.46,666.55 1001.86,672.22 1002.26,676.98 1002.65,674.78 1003.05,669.81 1003.45,664.12 1003.85,658.07 1004.24,651.97 1004.64,646.03 1005.04,640.27 1005.43,635 1005.83,632.2 1006.23,634.22 1006.63,636.63 1007.02,639.45 1007.42,642.4 1007.82,645.26 1008.22,647.82 1008.61,649.99 1009.01,651.37 1009.41,651.21 1009.8,651.03 1010.2,650.8 1010.6,650.44 1011,648.65 1011.39,644.82 1011.79,640.37 1012.19,635.61 1012.58,630.77 1012.98,626.31 1013.38,622.21 1013.78,618.41 1014.17,620.35 1014.57,625.16 1014.97,630.57 1015.36,635.98 1015.76,641.28 1016.16,646.23 1016.56,650.38 1016.95,649.72 1017.35,647.34 1017.75,644.66 1018.15,641.6 1018.54,638.57 1018.94,635.87 1019.34,633.32 1019.73,632.47 1020.13,633.04 1020.53,633.28 1020.93,633.45 1021.32,633.86 1021.72,634.2 1022.12,634.58 1022.51,634.92 1022.91,635.09 1023.31,635.56 1023.71,636.15 1024.1,634.27 1024.5,629 1024.9,622.72 1025.29,616.51 1025.69,611.34 1026.09,609.27 1026.49,607.9 1026.88,606.66 1027.28,605.4 1027.68,604.14 1028.08,603.17 1028.47,602.64 1028.87,602.61 1029.27,602.74 1029.66,602.85 1030.06,602.83 1030.46,602.74 1030.86,608.19 1031.25,617.26 1031.65,626.97 1032.05,636.04 1032.44,640.42 1032.84,636.04 1033.24,631.09 1033.64,625.56 1034.03,619.62 1034.43,613.89 1034.83,608.59 1035.22,603.88 1035.62,605.3 1036.02,613.44 1036.42,622.79 1036.81,632.72 1037.21,642.85 1037.61,652.78 1038.01,661.96 1038.4,669.58 1038.8,668.37 1039.2,664.08 1039.59,659.52 1039.99,654.71 1040.39,649.71 1040.79,644.9 1041.18,640.81 1041.58,640.65 1041.98,644.45 1042.37,648.97 1042.77,653.52 1043.17,657.38 1043.57,656.91 1043.96,652.02 1044.36,646.42 1044.76,640.62 1045.15,634.72 1045.55,629.17 1045.95,624.72 1046.35,626.34 1046.74,630.17 1047.14,634.43 1047.54,639.09 1047.94,643.95 1048.33,648.47 1048.73,652.48 1049.13,654.04 1049.52,649.45 1049.92,644.06 1050.32,638.26 1050.72,632.39 1051.11,626.81 1051.51,621.64 1051.91,617.18 1052.3,621.82 1052.7,627.66 1053.1,634.21 1053.5,641.05 1053.89,647.93 1054.29,654.71 1054.69,661.08 1055.08,666.66 1055.48,668.93 1055.88,663.3 1056.28,656.8 1056.67,649.77 1057.07,642.36 1057.47,634.69 1057.87,626.81 1058.26,618.84 1058.66,611.11 1059.06,603.71 1059.45,596.68 1059.85,590.3 1060.25,584.71 1060.65,587.93 1061.04,594.95 1061.44,602.86 1061.84,611.5 1062.23,620.75 1062.63,630.08 1063.03,639.22 1063.43,648.17 1063.82,656.84 1064.22,664.89 1064.62,671.84 1065.01,671.05 1065.41,662.67 1065.81,653.46 1066.21,643.28 1066.6,632.35 1067,621.26 1067.4,610.28 1067.8,599.71 1068.19,590.17 1068.59,582.1 1068.99,582.6 1069.38,591.73 1069.78,602.01 1070.18,613.12 1070.58,624.9 1070.97,636.57 1071.37,647.73 1071.77,658.21 1072.16,667.18 1072.56,669.5 1072.96,665.96 1073.36,662 1073.75,658.34 1074.15,656.48 1074.55,655.07 1074.95,653.68 1075.34,652.43 1075.74,651.35 1076.14,650.48 1076.53,652.28 1076.93,654.38 1077.33,656.42 1077.73,657.1 1078.12,654.46 1078.52,651.31 1078.92,647.76 1079.31,644.09 1079.71,640.51 1080.11,637.24 1080.51,634 1080.9,630.6 1081.3,627.59 1081.7,625.15 1082.09,627.23 1082.49,629.72 1082.89,631.76 1083.29,629.02 1083.68,625.74 1084.08,622.49 1084.48,619.53 1084.88,618.35 1085.27,621.44 1085.67,625.24 1086.07,629.43 1086.46,633.75 1086.86,637.86 1087.26,641.61 1087.66,645 1088.05,646.2 1088.45,645.69 1088.85,645.16 1089.24,644.4 1089.64,643.6 1090.04,643.1 1090.44,644.29 1090.83,646.29 1091.23,648.35 1091.63,650.18 1092.02,647.55 1092.42,642.56 1092.82,637.33 1093.22,632.29 1093.61,627.65 1094.01,624.92 1094.41,626.38 1094.81,628.09 1095.2,627.19 1095.6,625.03 1096,622.7 1096.39,620.51 1096.79,618.49 1097.19,619.1 1097.59,622.94 1097.98,627.42 1098.38,632.04 1098.78,636.67 1099.17,640.8 1099.57,642.79 1099.97,640.82 1100.37,638.67 1100.76,636.88 1101.16,638.05 1101.56,642.11 1101.95,646.85 1102.35,652.08 1102.75,657.31 1103.15,662.71 1103.54,667.82 1103.94,671.87 1104.34,670.04 1104.74,661.9 1105.13,652.7 1105.53,642.68 1105.93,632.18 1106.32,622.04 1106.72,612.6 1107.12,604.24 1107.52,599.87 1107.91,603.85 1108.31,608.51 1108.71,613.38 1109.1,618.27 1109.5,622.74 1109.9,626.16 1110.3,625.46 1110.69,624.96 1111.09,624.13 1111.49,623 1111.88,621.97 1112.28,621 1112.68,619.83 1113.08,612.47 1113.47,604.2 1113.87,594.96 1114.27,585.03 1114.67,575.38 1115.06,566.35 1115.46,558.29 1115.86,554.46 1116.25,560.51 1116.65,567.86 1117.05,575.84 1117.45,583.58 1117.84,590.78 1118.24,596.93 1118.64,597.35 1119.03,597.58 1119.43,597.82 1119.83,597.96 1120.23,598.24 1120.62,598.89 1121.02,600.94 1121.42,604.98 1121.81,609.36 1122.21,613.2 1122.61,614.03 1123.01,612.6 1123.4,610.96 1123.8,609.38 1124.2,608.01 1124.6,607.61 1124.99,609.83 1125.39,612.48 1125.79,615.58 1126.18,619.05 1126.58,624.17 1126.98,635.03 1127.38,647.27 1127.77,660.1 1128.17,672.71 1128.57,684.46 1128.96,694.53 1129.36,691.65 1129.76,683.45 1130.16,674.21 1130.55,664.5 1130.95,654.87 1131.35,646.03 1131.74,638.37 1132.14,635.52 1132.54,636.5 1132.94,637.6 1133.33,638.89 1133.73,641.93 1134.13,647.3 1134.53,652.85 1134.92,657.7 1135.32,657.58 1135.72,655.94 1136.11,654.43 1136.51,652.91 1136.91,651.51 1137.31,651.4 1137.7,651.28 1138.1,651.11 1138.5,651.06 1138.89,650.98 1139.29,648.86 1139.69,644 1140.09,638.79 1140.48,634 1140.88,631.63 1141.28,630.79 1141.67,630.07 1142.07,629.52 1142.47,629.1 1142.87,631.63 1143.26,635.81 1143.66,640.57 1144.06,645.34 1144.46,649.8 1144.85,653.75 1145.25,655.16 1145.65,654.85 1146.04,654.49 1146.44,653.17 1146.84,648.6 1147.24,643.37 1147.63,637.86 1148.03,632.48 1148.43,628.2 1148.82,629.98 1149.22,632.19 1149.62,634.46 1150.02,636.71 1150.41,638.91 1150.81,639.7 1151.21,637.36 1151.6,634.78 1152,632.19 1152.4,629.63 1152.8,627.1 1153.19,624.8 1153.59,625.03 1153.99,625.53 1154.39,625.93 1154.78,626.22 1155.18,626.01 1155.58,624.02 1155.97,621.46 1156.37,618.57 1156.77,616.16 1157.17,614.29 1157.56,617.32 1157.96,622.77 1158.36,628.99 1158.75,635.76 1159.15,642.83 1159.55,649.77 1159.95,656.42 1160.34,662.54 1160.74,667.8 1161.14,668.46 1161.53,664.57 1161.93,660.18 1162.33,655.71 1162.73,651.5 1163.12,647.92 1163.52,646.74 1163.92,646.35 1164.32,646.07 1164.71,645.61 1165.11,642.04 1165.51,636.4 1165.9,630.25 1166.3,624.66 1166.7,621.37 1167.1,621.5 1167.49,621.45 1167.89,621.29 1168.29,621.4 1168.68,622.47 1169.08,627.23 1169.48,632.65 1169.88,637.1 1170.27,631.5 1170.67,624.42 1171.07,617.57 1171.46,613.73 1171.86,615.27 1172.26,616.81 1172.66,613.78 1173.05,609.8 1173.45,605.7 1173.85,602.62 1174.25,607.07 1174.64,612.23 1175.04,618.04 1175.44,624.26 1175.83,630.4 1176.23,636.33 1176.63,642.04 1177.03,647.2 1177.42,651.56 1177.82,643.59 1178.22,633.8 1178.61,622.99 1179.01,611.64 1179.41,600.56 1179.81,590.56 1180.2,582.2 1180.6,580.94 1181,581.8 1181.39,582.87 1181.79,583.92 1182.19,584.26 1182.59,583.24 1182.98,582.07 1183.38,580.69 1183.78,579.28 1184.18,578.1 1184.57,577.11 1184.97,579.21 1185.37,581.88 1185.76,584.73 1186.16,587.66 1186.56,590.55 1186.96,593.09 1187.35,595.39 1187.75,593.65 1188.15,586.42 1188.54,578.03 1188.94,569.58 1189.34,561.73 1189.74,557.75 1190.13,560.84 1190.53,564.19 1190.93,567.79 1191.32,571.51 1191.72,574.89 1192.12,577.47 1192.52,569.87 1192.91,560.47 1193.31,550.43 1193.71,541.36 1194.11,537.98 1194.5,547.08 1194.9,557.9 1195.3,569.69 1195.69,581.7 1196.09,593.73 1196.49,605.25 1196.89,615.43 1197.28,620.52 1197.68,614.25 1198.08,606.78 1198.47,598.82 1198.87,590.62 1199.27,582.56 1199.67,575.6 1200.06,571.55 1200.46,571.61 1200.86,571.55 1201.25,570.33 1201.65,564.95 1202.05,558.45 1202.45,551.02 1202.84,543.51 1203.24,536.21 1203.64,529.23 1204.04,523.19 1204.43,520.66 1204.83,526.29 1205.23,532.94 1205.62,539.81 1206.02,546.14 1206.42,549.7 1206.82,551.2 1207.21,552.45 1207.61,553.62 1208.01,555.08 1208.4,556.68 1208.8,559.27 1209.2,565.02 1209.6,571.35 1209.99,578.24 1210.39,585.37 1210.79,592.4 1211.18,599.04 1211.58,605.04 1211.98,610.2 1212.38,607.56 1212.77,601.64 1213.17,594.97 1213.57,587.81 1213.97,580.27 1214.36,572.74 1214.76,565.79 1215.16,559.63 1215.55,554.39 1215.95,555.63 1216.35,557.36 1216.75,559.33 1217.14,561 1217.54,558.76 1217.94,554.45 1218.33,549.48 1218.73,544.48 1219.13,539.7 1219.53,535.34 1219.92,533.77 1220.32,538.86 1220.72,544.79 1221.11,551.07 1221.51,557.49 1221.91,563.79 1222.31,569.57 1222.7,574.25 1223.1,569.54 1223.5,563.86 1223.9,557.45 1224.29,550.72 1224.69,543.95 1225.09,537.34 1225.48,531.18 1225.88,525.73 1226.28,522.73 1226.68,524.84 1227.07,527.25 1227.47,529.39 1227.87,530.54 1228.26,530.22 1228.66,529.83 1229.06,529.4 1229.46,533.53 1229.85,544.82 1230.25,556.04 1230.65,555.53 1231.04,544.31 1231.44,531.31 1231.84,517.29 1232.24,501.89 1232.63,486.23 1233.03,470.91 1233.43,456.31 1233.83,443.12 1234.22,431.79 1234.62,431.73 1235.02,435.59 1235.41,439.94 1235.81,444.71 1236.21,449.7 1236.61,454.56 1237,465.13 1237.4,476.88 1237.8,489.39 1238.19,502.45 1238.59,515.2 1238.99,526.7 1239.39,537.34 1239.78,546.82 1240.18,548.12 1240.58,541.38 1240.98,533.52 1241.37,525.01 1241.77,516.23 1242.17,507.46 1242.56,499.66 1242.96,495.8 1243.36,500.11 1243.76,505.18 1244.15,510.21 1244.55,514.34 1244.95,514.03 1245.34,512.24 1245.74,510.08 1246.14,506.32 1246.54,500.56 1246.93,494.22 1247.33,487.54 1247.73,481.09 1248.12,475.05 1248.52,469.5 1248.92,464.79 1249.32,468.85 1249.71,473.62 1250.11,478.9 1250.51,484.53 1250.91,490.39 1251.3,496.41 1251.7,502.71 1252.1,508.94 1252.49,514.74 1252.89,520.27 1253.29,525.34 1253.69,529.71 1254.08,531.21 1254.48,525.39 1254.88,518.57 1255.27,510.59 1255.67,502.36 1256.07,494.61 1256.47,487.47 1256.86,481.18 1257.26,484.78 1257.66,492.99 1258.05,502.43 1258.45,512.21 1258.85,521.07 1259.25,528.22 1259.64,524.92 1260.04,517.16 1260.44,508.36 1260.84,499.34 1261.23,490.31 1261.63,481.65 1262.03,473.84 1262.42,470.75 1262.82,467.68 1263.22,464.63 1263.62,461.66 1264.01,458.88 1264.41,456.45 1264.81,454.15 1265.2,453.62 1265.6,458.82 1266,464.96 1266.4,471.48 1266.79,478.25 1267.19,485.22 1267.59,492.04 1267.98,498.39 1268.38,503.92 1268.78,506.29 1269.18,501.38 1269.57,495.75 1269.97,489.98 1270.37,484.53 1270.77,479.98 1271.16,484.76 1271.56,490.74 1271.96,497.4 1272.35,504.28 1272.75,510.72 1273.15,516.22 1273.55,515.77 1273.94,509.16 1274.34,501.85 1274.74,494.48 1275.13,487.7 1275.53,484.49 1275.93,489.16 1276.33,484.95 1276.72,469.5 1277.12,452.02 1277.52,435.33 1277.91,425.56 1278.31,425.68" fill="none" stroke="#7f8088" stroke-width="0.9" stroke-linejoin="round" stroke-linecap="butt" clip-path="url(#c409)" stroke-opacity="0.9"/>
<line x1="676.6" y1="689.5" x2="679.6" y2="689.5" stroke="#777777" stroke-width="0.9"/>
<text transform="translate(673.6,692.17) scale(0.880,0.950)" font-family="'DejaVu Sans','Liberation Sans',sans-serif" font-size="7.8" text-anchor="end" fill="#333333" stroke="#333333" stroke-width="0.22">0.05</text>
<line x1="676.6" y1="655.1" x2="679.6" y2="655.1" stroke="#777777" stroke-width="0.9"/>
<text transform="translate(673.6,657.77) scale(0.880,0.950)" font-family="'DejaVu Sans','Liberation Sans',sans-serif" font-size="7.8" text-anchor="end" fill="#333333" stroke="#333333" stroke-width="0.22">0.10</text>
<line x1="676.6" y1="620.7" x2="679.6" y2="620.7" stroke="#777777" stroke-width="0.9"/>
<text transform="translate(673.6,623.37) scale(0.880,0.950)" font-family="'DejaVu Sans','Liberation Sans',sans-serif" font-size="7.8" text-anchor="end" fill="#333333" stroke="#333333" stroke-width="0.22">0.15</text>
<line x1="676.6" y1="586.3" x2="679.6" y2="586.3" stroke="#777777" stroke-width="0.9"/>
<text transform="translate(673.6,588.97) scale(0.880,0.950)" font-family="'DejaVu Sans','Liberation Sans',sans-serif" font-size="7.8" text-anchor="end" fill="#333333" stroke="#333333" stroke-width="0.22">0.20</text>
<line x1="676.6" y1="551.9" x2="679.6" y2="551.9" stroke="#777777" stroke-width="0.9"/>
<text transform="translate(673.6,554.57) scale(0.880,0.950)" font-family="'DejaVu Sans','Liberation Sans',sans-serif" font-size="7.8" text-anchor="end" fill="#333333" stroke="#333333" stroke-width="0.22">0.25</text>
<line x1="676.6" y1="517.5" x2="679.6" y2="517.5" stroke="#777777" stroke-width="0.9"/>
<text transform="translate(673.6,520.17) scale(0.880,0.950)" font-family="'DejaVu Sans','Liberation Sans',sans-serif" font-size="7.8" text-anchor="end" fill="#333333" stroke="#333333" stroke-width="0.22">0.30</text>
<line x1="676.6" y1="483.1" x2="679.6" y2="483.1" stroke="#777777" stroke-width="0.9"/>
<text transform="translate(673.6,485.77) scale(0.880,0.950)" font-family="'DejaVu Sans','Liberation Sans',sans-serif" font-size="7.8" text-anchor="end" fill="#333333" stroke="#333333" stroke-width="0.22">0.35</text>
<line x1="676.6" y1="448.7" x2="679.6" y2="448.7" stroke="#777777" stroke-width="0.9"/>
<text transform="translate(673.6,451.37) scale(0.880,0.950)" font-family="'DejaVu Sans','Liberation Sans',sans-serif" font-size="7.8" text-anchor="end" fill="#333333" stroke="#333333" stroke-width="0.22">0.40</text>
<line x1="676.6" y1="414.3" x2="679.6" y2="414.3" stroke="#777777" stroke-width="0.9"/>
<text transform="translate(673.6,416.97) scale(0.880,0.950)" font-family="'DejaVu Sans','Liberation Sans',sans-serif" font-size="7.8" text-anchor="end" fill="#333333" stroke="#333333" stroke-width="0.22">0.45</text>
<line x1="676.6" y1="707.3" x2="676.6" y2="704.3" stroke="#777777" stroke-width="0.9"/>
<text transform="translate(676.6,717.18) scale(0.880,0.950)" font-family="'DejaVu Sans','Liberation Sans',sans-serif" font-size="7.8" text-anchor="middle" fill="#333333" stroke="#333333" stroke-width="0.22">0</text>
<line x1="721.27" y1="707.3" x2="721.27" y2="704.3" stroke="#777777" stroke-width="0.9"/>
<text transform="translate(721.27,717.18) scale(0.880,0.950)" font-family="'DejaVu Sans','Liberation Sans',sans-serif" font-size="7.8" text-anchor="middle" fill="#333333" stroke="#333333" stroke-width="0.22">800</text>
<line x1="765.95" y1="707.3" x2="765.95" y2="704.3" stroke="#777777" stroke-width="0.9"/>
<text transform="translate(765.95,717.18) scale(0.880,0.950)" font-family="'DejaVu Sans','Liberation Sans',sans-serif" font-size="7.8" text-anchor="middle" fill="#333333" stroke="#333333" stroke-width="0.22">1600</text>
<line x1="810.62" y1="707.3" x2="810.62" y2="704.3" stroke="#777777" stroke-width="0.9"/>
<text transform="translate(810.62,717.18) scale(0.880,0.950)" font-family="'DejaVu Sans','Liberation Sans',sans-serif" font-size="7.8" text-anchor="middle" fill="#333333" stroke="#333333" stroke-width="0.22">2400</text>
<line x1="855.3" y1="707.3" x2="855.3" y2="704.3" stroke="#777777" stroke-width="0.9"/>
<text transform="translate(855.3,717.18) scale(0.880,0.950)" font-family="'DejaVu Sans','Liberation Sans',sans-serif" font-size="7.8" text-anchor="middle" fill="#333333" stroke="#333333" stroke-width="0.22">3200</text>
<line x1="899.97" y1="707.3" x2="899.97" y2="704.3" stroke="#777777" stroke-width="0.9"/>
<text transform="translate(899.97,717.18) scale(0.880,0.950)" font-family="'DejaVu Sans','Liberation Sans',sans-serif" font-size="7.8" text-anchor="middle" fill="#333333" stroke="#333333" stroke-width="0.22">4000</text>
<line x1="944.64" y1="707.3" x2="944.64" y2="704.3" stroke="#777777" stroke-width="0.9"/>
<text transform="translate(944.64,717.18) scale(0.880,0.950)" font-family="'DejaVu Sans','Liberation Sans',sans-serif" font-size="7.8" text-anchor="middle" fill="#333333" stroke="#333333" stroke-width="0.22">4800</text>
<line x1="989.32" y1="707.3" x2="989.32" y2="704.3" stroke="#777777" stroke-width="0.9"/>
<text transform="translate(989.32,717.18) scale(0.880,0.950)" font-family="'DejaVu Sans','Liberation Sans',sans-serif" font-size="7.8" text-anchor="middle" fill="#333333" stroke="#333333" stroke-width="0.22">5600</text>
<line x1="1033.99" y1="707.3" x2="1033.99" y2="704.3" stroke="#777777" stroke-width="0.9"/>
<text transform="translate(1033.99,717.18) scale(0.880,0.950)" font-family="'DejaVu Sans','Liberation Sans',sans-serif" font-size="7.8" text-anchor="middle" fill="#333333" stroke="#333333" stroke-width="0.22">6400</text>
<line x1="1078.67" y1="707.3" x2="1078.67" y2="704.3" stroke="#777777" stroke-width="0.9"/>
<text transform="translate(1078.67,717.18) scale(0.880,0.950)" font-family="'DejaVu Sans','Liberation Sans',sans-serif" font-size="7.8" text-anchor="middle" fill="#333333" stroke="#333333" stroke-width="0.22">7200</text>
<line x1="1123.34" y1="707.3" x2="1123.34" y2="704.3" stroke="#777777" stroke-width="0.9"/>
<text transform="translate(1123.34,717.18) scale(0.880,0.950)" font-family="'DejaVu Sans','Liberation Sans',sans-serif" font-size="7.8" text-anchor="middle" fill="#333333" stroke="#333333" stroke-width="0.22">8000</text>
<line x1="1168.01" y1="707.3" x2="1168.01" y2="704.3" stroke="#777777" stroke-width="0.9"/>
<text transform="translate(1168.01,717.18) scale(0.880,0.950)" font-family="'DejaVu Sans','Liberation Sans',sans-serif" font-size="7.8" text-anchor="middle" fill="#333333" stroke="#333333" stroke-width="0.22">8800</text>
<line x1="1212.69" y1="707.3" x2="1212.69" y2="704.3" stroke="#777777" stroke-width="0.9"/>
<text transform="translate(1212.69,717.18) scale(0.880,0.950)" font-family="'DejaVu Sans','Liberation Sans',sans-serif" font-size="7.8" text-anchor="middle" fill="#333333" stroke="#333333" stroke-width="0.22">9600</text>
<line x1="1257.36" y1="707.3" x2="1257.36" y2="704.3" stroke="#777777" stroke-width="0.9"/>
<text transform="translate(1257.36,717.18) scale(0.880,0.950)" font-family="'DejaVu Sans','Liberation Sans',sans-serif" font-size="7.8" text-anchor="middle" fill="#333333" stroke="#333333" stroke-width="0.22">10400</text>
<rect x="676.6" y="409.9" width="603.1" height="297.4" fill="none" stroke="#777777" stroke-width="1.1"/>
<rect x="681.4" y="414.4" width="86.9" height="31.9" rx="2" ry="2" fill="#ffffff" fill-opacity="0.8" stroke="#d4d4d4" stroke-width="0.8"/>
<line x1="684.6" y1="422.4" x2="707" y2="422.4" stroke="#1f77b4" stroke-width="3"/>
<text transform="translate(714.3,422.4) scale(1.000,0.980)" font-family="'DejaVu Sans','Liberation Sans',sans-serif" font-size="10.1" text-anchor="start" fill="#333333" stroke="#333333" stroke-width="0.22" dominant-baseline="central">Test data</text>
<line x1="684.6" y1="437.1" x2="707" y2="437.1" stroke="#ff7f0e" stroke-width="1.6"/>
<text transform="translate(714.3,437.1) scale(1.000,0.980)" font-family="'DejaVu Sans','Liberation Sans',sans-serif" font-size="10.1" text-anchor="start" fill="#333333" stroke="#333333" stroke-width="0.22" dominant-baseline="central">Prediction</text>
<text transform="translate(978.3,730) scale(0.966,0.950)" font-family="'Liberation Serif','DejaVu Serif',serif" font-size="14.7" text-anchor="middle" fill="#333333" stroke="#333333" stroke-width="0.22">Time (second)</text>
<text transform="translate(652.2,559.2) rotate(-90) scale(0.907,1.000)" font-family="'Liberation Serif','DejaVu Serif',serif" font-size="15.1" text-anchor="middle" fill="#333333" stroke="#333333" stroke-width="0.22">PM2.5 (µg/m3)</text>
<clipPath id="c775"><rect x="676.6" y="775.3" width="603.1" height="338.2"/></clipPath>
<polyline points="676.65,1079.82 677.05,1068.73 677.44,1058.26 677.84,1048.4 678.24,1039.19 678.64,1030.65 679.03,1022.8 679.43,1015.65 679.83,1012.18 680.22,1018.83 680.62,1026.69 681.02,1035.32 681.42,1044.28 681.81,1053.13 682.21,1061.43 682.61,1068.74 683,1072.09 683.4,1066.52 683.8,1060 684.2,1052.81 684.59,1045.23 684.99,1037.54 685.39,1030.04 685.79,1022.99 686.18,1016.67 686.58,1011.38 686.98,1015.02 687.37,1019.58 687.77,1024.24 688.17,1028.18 688.57,1027.65 688.96,1025.49 689.36,1023.07 689.76,1020.59 690.15,1018.27 690.55,1016.33 690.95,1019.69 691.35,1025.65 691.74,1032.41 692.14,1039.66 692.54,1047.1 692.93,1054.43 693.33,1061.34 693.73,1067.53 694.13,1072.69 694.52,1069.48 694.92,1065.6 695.32,1061.27 695.72,1056.71 696.11,1052.16 696.51,1047.83 696.91,1043.95 697.3,1040.74 697.7,1041.43 698.1,1042.27 698.5,1043.21 698.89,1044.15 699.29,1045.03 699.69,1045.76 700.08,1043.62 700.48,1039.76 700.88,1035.53 701.28,1031.53 701.67,1028.34 702.07,1029.43 702.47,1030.79 702.86,1032.11 703.26,1031.78 703.66,1026.38 704.06,1019.91 704.45,1013.04 704.85,1006.41 705.25,1000.68 705.65,1000.31 706.04,1005.04 706.44,1010.52 706.84,1016.36 707.23,1022.14 707.63,1027.48 708.03,1031.95 708.43,1031.78 708.82,1029.92 709.22,1027.88 709.62,1025.95 710.01,1024.41 710.41,1027.46 710.81,1031.01 711.21,1034.96 711.6,1039.2 712,1043.64 712.4,1048.19 712.79,1052.73 713.19,1057.17 713.59,1061.41 713.99,1065.36 714.38,1068.91 714.78,1071.96 715.18,1067.94 715.58,1062.9 715.97,1057.58 716.37,1052.73 716.77,1050.07 717.16,1051.29 717.56,1052.66 717.96,1053.77 718.36,1049.17 718.75,1043.7 719.15,1037.59 719.55,1031.08 719.94,1024.39 720.34,1017.75 720.74,1011.41 721.14,1005.59 721.53,1000.53 721.93,999.81 722.33,1003.13 722.72,1006.89 723.12,1010.96 723.52,1015.22 723.92,1019.56 724.31,1023.85 724.71,1027.97 725.11,1031.86 725.51,1035.88 725.9,1039.99 726.3,1044.09 726.7,1048.07 727.09,1051.82 727.49,1055.26 727.89,1058.26 728.29,1055.3 728.68,1049.22 729.08,1042.47 729.48,1035.82 729.87,1030.04 730.27,1028.69 730.67,1031.19 731.07,1033.96 731.46,1036.46 731.86,1034.92 732.26,1029.02 732.65,1022.23 733.05,1014.84 733.45,1007.14 733.85,999.45 734.24,992.06 734.64,985.27 735.04,979.37 735.44,978.12 735.83,981.25 736.23,984.87 736.63,988.53 737.02,991.83 737.42,993.66 737.82,992.86 738.22,991.96 738.61,991.22 739.01,1006.25 739.41,1025.09 739.8,1044.98 740.2,1063.13 740.6,1072.26 741,1064.42 741.39,1055.15 741.79,1044.98 742.19,1034.47 742.59,1024.16 742.98,1014.61 743.38,1006.37 743.78,1005.29 744.17,1010.87 744.57,1017.31 744.97,1024.31 745.37,1031.59 745.76,1038.88 746.16,1045.88 746.56,1052.31 746.95,1057.9 747.35,1057.26 747.75,1050.07 748.15,1041.75 748.54,1032.76 748.94,1023.6 749.34,1014.73 749.73,1006.64 750.13,999.81 750.53,1002.16 750.93,1008.58 751.32,1015.53 751.72,1021.95 752.12,1024.98 752.52,1020.84 752.91,1016.7 753.31,1015.93 753.71,1015.93 754.1,1015.93 754.5,1015.93 754.9,1015.93 755.3,1015.93 755.69,1018.76 756.09,1025.03 756.49,1019.24 756.88,1012.04 757.28,1004.19 757.68,996.43 758.08,989.51 758.47,986.54 758.87,992.16 759.27,998.77 759.66,1006.05 760.06,1013.66 760.46,1021.27 760.86,1028.54 761.25,1035.16 761.65,1040.77 762.05,1041.9 762.45,1041.77 762.84,1041.62 763.24,1041.48 763.64,1041.36 764.03,1044.87 764.43,1048.9 764.83,1048.17 765.23,1042.82 765.62,1036.68 766.02,1030.07 766.42,1023.31 766.81,1014.64 767.21,1003.04 767.61,990.7 768.01,978.32 768.4,966.57 768.8,956.13 769.2,951.59 769.59,960.68 769.99,971.1 770.39,982.59 770.79,994.85 771.18,1007.61 771.58,1020.57 771.98,1033.47 772.38,1046.01 772.77,1057.92 773.17,1068.91 773.57,1078.7 773.96,1083.59 774.36,1076.47 774.76,1067.99 775.16,1058.76 775.55,1049.38 775.95,1040.45 776.35,1032.57 776.74,1028.56 777.14,1033.03 777.54,1037.93 777.94,1040.19 778.33,1037.05 778.73,1033.32 779.13,1029.29 779.52,1025.22 779.92,1021.4 780.32,1018.09 780.72,1016.99 781.11,1016.51 781.51,1016.12 781.91,1020.49 782.31,1028.06 782.7,1035.85 783.1,1042.09 783.5,1038.66 783.89,1034.47 784.29,1029.81 784.69,1024.97 785.09,1020.24 785.48,1015.9 785.88,1012.26 786.28,1014.96 786.67,1020.52 787.07,1026.83 787.47,1033.56 787.87,1040.37 788.26,1046.93 788.66,1052.9 789.06,1057.96 789.45,1055.5 789.85,1049.76 790.25,1043.34 790.65,1036.76 791.04,1030.53 791.44,1026.12 791.84,1023.09 792.24,1020.21 792.63,1017.36 793.03,1014.43 793.43,1010.97 793.82,1005.99 794.22,1000.73 794.62,995.72 795.02,991.48 795.41,995.68 795.81,1003.91 796.21,1013.24 796.6,1023.04 797,1032.69 797.4,1041.55 797.8,1049 798.19,1047.54 798.59,1042.93 798.99,1037.78 799.38,1032.19 799.78,1026.29 800.18,1020.2 800.58,1014.03 800.97,1007.91 801.37,1001.95 801.77,996.27 802.17,991 802.56,986.24 802.96,982.13 803.36,987.7 803.75,994.35 804.15,1001.78 804.55,1009.69 804.95,1017.78 805.34,1025.77 805.74,1033.34 806.14,1040.21 806.53,1046.08 806.93,1044.47 807.33,1039.7 807.73,1034.35 808.12,1028.92 808.52,1023.96 808.92,1019.96 809.31,1023.63 809.71,1028.04 810.11,1032.97 810.51,1038.18 810.9,1043.45 811.3,1048.55 811.7,1053.25 812.1,1057.31 812.49,1058.13 812.89,1056.08 813.29,1053.76 813.68,1051.23 814.08,1048.51 814.48,1045.65 814.88,1041.26 815.27,1031.22 815.67,1019.98 816.07,1008.84 816.46,999.1 816.86,995.91 817.26,997.86 817.66,998.42 818.05,994.84 818.45,991.27 818.85,995.44 819.24,1003.48 819.64,1012.47 820.04,1021.45 820.44,1029.49 820.83,1033.11 821.23,1027.35 821.63,1020.53 822.03,1013.06 822.42,1005.33 822.82,997.75 823.22,990.73 823.61,984.67 824.01,983.62 824.41,987.29 824.81,991.53 825.2,995.94 825.6,1000.08 826,1003.54 826.39,1003.1 826.79,1001.17 827.19,999.41 827.59,1001.06 827.98,1004.18 828.38,1007.7 828.78,1011.43 829.17,1015.17 829.57,1018.75 829.97,1021.72 830.37,1023.8 830.76,1025.89 831.16,1027.91 831.56,1029.81 831.96,1031.52 832.35,1032.99 832.75,1029.08 833.15,1024.49 833.54,1019.38 833.94,1013.89 834.34,1008.18 834.74,1002.39 835.13,996.68 835.53,991.19 835.93,986.08 836.32,981.49 836.72,977.58 837.12,978.97 837.52,980.61 837.91,982.46 838.31,984.47 838.71,987.94 839.1,996.79 839.5,1006.81 839.9,1016.8 840.3,1025.54 840.69,1027.99 841.09,1025.2 841.49,1022.3 841.89,1021.48 842.28,1025.98 842.68,1031.33 843.08,1036.69 843.47,1041.19 843.87,1037.72 844.27,1030.81 844.67,1022.97 845.06,1014.56 845.46,1005.92 845.86,997.41 846.25,989.4 846.65,982.22 847.05,976.24 847.45,981.86 847.84,988.61 848.24,996.15 848.64,1004.15 849.03,1012.27 849.43,1020.18 849.83,1027.56 850.23,1034.06 850.62,1037.99 851.02,1037.27 851.42,1036.45 851.82,1035.55 852.21,1034.56 852.61,1033.5 853.01,1032.37 853.4,1022.71 853.8,1011.24 854.2,998.78 854.6,986.14 854.99,974.13 855.39,963.56 855.79,959.44 856.18,957.14 856.58,955.02 856.98,953.13 857.38,951.53 857.77,955.81 858.17,960.97 858.57,966.67 858.96,972.55 859.36,978.26 859.76,983.47 860.16,986.47 860.55,989.29 860.95,992.12 861.35,995.15 861.75,1001.18 862.14,1007.79 862.54,1014.77 862.94,1021.89 863.33,1028.94 863.73,1035.71 864.13,1041.97 864.53,1047.51 864.92,1050.05 865.32,1050.23 865.72,1050.4 866.11,1052.1 866.51,1059.95 866.91,1069.02 867.31,1077.31 867.7,1077.85 868.1,1071.42 868.5,1063.98 868.89,1055.99 869.29,1047.91 869.69,1040.21 870.09,1033.36 870.48,1028.95 870.88,1028.59 871.28,1028.27 871.68,1027.92 872.07,1024.54 872.47,1016.97 872.87,1008.27 873.26,999.06 873.66,989.95 874.06,981.56 874.46,974.51 874.85,974.27 875.25,976.21 875.65,978.42 876.04,980.84 876.44,985.01 876.84,995.63 877.24,1007.65 877.63,1019.62 878.03,1030.1 878.43,1032.2 878.82,1027.12 879.22,1021.24 879.62,1014.9 880.02,1008.43 880.41,1002.17 880.81,996.46 881.21,991.63 881.61,994.86 882,1001.93 882.4,1009.83 882.8,1017.73 883.19,1024.8 883.59,1028.4 883.99,1024.82 884.39,1021.25 884.78,1021.86 885.18,1023.95 885.58,1026.26 885.97,1028.53 886.37,1030.61 886.77,1032.76 887.17,1034.82 887.56,1036.56 887.96,1033.19 888.36,1027.11 888.75,1020.32 889.15,1013.43 889.55,1007.05 889.95,1003.08 890.34,1000.77 890.74,998.58 891.14,996.6 891.54,994.9 891.93,994.53 892.33,994.53 892.73,994.53 893.12,994.53 893.52,994.53 893.92,994.53 894.32,1000.23 894.71,1007.28 895.11,1015.05 895.51,1022.89 895.9,1030.18 896.3,1036.27 896.7,1033.28 897.1,1026.21 897.49,1018.31 897.89,1010.41 898.29,1003.34 898.68,1000.41 899.08,1006.67 899.48,1014.09 899.88,1022.21 900.27,1030.61 900.67,1038.85 901.07,1046.48 901.47,1053.07 901.86,1053.13 902.26,1046.75 902.66,1039.38 903.05,1031.38 903.45,1023.11 903.85,1014.93 904.25,1007.2 904.64,1000.28 905.04,994.53 905.44,1002.05 905.83,1010.98 906.23,1020.97 906.63,1031.62 907.03,1042.55 907.42,1053.39 907.82,1063.75 908.22,1073.26 908.62,1081.54 909.01,1083.33 909.41,1079.05 909.81,1074.09 910.2,1068.82 910.6,1063.58 911,1058.76 911.4,1054.72 911.79,1056.17 912.19,1059.9 912.59,1064.13 912.98,1068.56 913.38,1072.87 913.78,1076.76 914.18,1079.92 914.57,1070.79 914.97,1059.64 915.37,1047.24 915.76,1034.35 916.16,1021.76 916.56,1010.22 916.96,1000.51 917.35,1002.93 917.75,1010.37 918.15,1018.67 918.55,1026.98 918.94,1034.41 919.34,1037.96 919.74,1033.44 920.13,1028.04 920.53,1022.33 920.93,1016.93 921.33,1012.41 921.72,1013.43 922.12,1016.55 922.52,1020.09 922.91,1023.86 923.31,1027.68 923.71,1031.36 924.11,1034.72 924.5,1037.55 924.9,1034.06 925.3,1027.22 925.69,1019.62 926.09,1012.13 926.49,1005.62 926.89,1003.58 927.28,1004.91 927.68,1006.46 928.08,1008.17 928.48,1011.16 928.87,1018.94 929.27,1027.67 929.67,1036.07 930.06,1042.81 930.46,1038 930.86,1032.31 931.26,1025.96 931.65,1019.17 932.05,1012.16 932.45,1005.15 932.84,998.35 933.24,992 933.64,986.31 934.04,981.51 934.43,983.67 934.83,986.33 935.23,989.17 935.62,991.95 936.02,995.02 936.42,998.19 936.82,1001.23 937.21,1003.87 937.61,1002.16 938.01,995.04 938.41,986.96 938.8,979.21 939.2,973.03 939.6,976.01 939.99,979.67 940.39,983.73 940.79,987.86 941.19,991.75 941.58,995.11 941.98,994.07 942.38,988.25 942.77,981.5 943.17,974.26 943.57,966.96 943.97,960.05 944.36,953.95 944.76,951.4 945.16,957.68 945.55,964.98 945.95,971.67 946.35,972.62 946.75,968.33 947.14,963.88 947.54,962.44 947.94,968.01 948.34,974.56 948.73,981.77 949.13,989.31 949.53,996.85 949.92,1004.06 950.32,1010.62 950.72,1016.18 951.12,1013.78 951.51,1007.84 951.91,1001.16 952.31,994.33 952.7,987.95 953.1,982.61 953.5,986.9 953.9,995.51 954.29,1005.25 954.69,1015.54 955.09,1025.82 955.48,1035.54 955.88,1044.11 956.28,1047.67 956.68,1049.82 957.07,1051.87 957.47,1053.81 957.87,1055.61 958.27,1057.25 958.66,1058.71 959.06,1056.92 959.46,1053.49 959.85,1049.6 960.25,1045.5 960.65,1041.42 961.05,1037.63 961.44,1034.35 961.84,1033.35 962.24,1034.28 962.63,1035.21 963.03,1033.55 963.43,1028.37 963.83,1022.62 964.22,1017.44 964.62,1017.15 965.02,1021.63 965.41,1026.3 965.81,1028.68 966.21,1026.78 966.61,1024.51 967,1022.25 967.4,1020.34 967.8,1021.04 968.2,1022.81 968.59,1023.5 968.99,1021.45 969.39,1019.06 969.78,1016.88 970.18,1018.27 970.58,1024.04 970.98,1029.06 971.37,1022.13 971.77,1013.74 972.17,1004.38 972.56,994.53 972.96,984.69 973.36,975.33 973.76,966.94 974.15,960 974.55,967.61 974.95,977.02 975.34,987.37 975.74,997.83 976.14,1007.56 976.54,1015.69 976.93,1015.25 977.33,1011.65 977.73,1007.79 978.13,1004.36 978.52,1004.63 978.92,1008.39 979.32,1012.69 979.71,1017.39 980.11,1022.32 980.51,1027.33 980.91,1032.26 981.3,1036.96 981.7,1041.26 982.1,1045.01 982.49,1045.63 982.89,1043.26 983.29,1040.53 983.69,1037.56 984.08,1034.49 984.48,1031.46 984.88,1028.59 985.27,1026.03 985.67,1023.89 986.07,1024.25 986.47,1024.65 986.86,1025.08 987.26,1025.54 987.66,1026.02 988.06,1026.53 988.45,1027.07 988.85,1027.62 989.25,1028.18 989.64,1028.77 990.04,1029.85 990.44,1031.67 990.84,1033.61 991.23,1035.44 991.63,1036.92 992.03,1029.31 992.42,1019.84 992.82,1009.51 993.22,999.3 993.62,990.21 994.01,985.77 994.41,990.69 994.81,996.48 995.2,1002.86 995.6,1009.52 996,1016.19 996.4,1022.56 996.79,1028.35 997.19,1033.27 997.59,1032.55 997.99,1029.51 998.38,1026.39 998.78,1023.89 999.18,1029.08 999.57,1035.33 999.97,1042.31 1000.37,1049.68 1000.77,1057.1 1001.16,1064.21 1001.56,1070.68 1001.96,1076.16 1002.35,1073.68 1002.75,1067.88 1003.15,1061.28 1003.55,1054.22 1003.94,1047.01 1004.34,1039.94 1004.74,1033.35 1005.13,1027.55 1005.53,1024.41 1005.93,1026.83 1006.33,1029.68 1006.72,1032.82 1007.12,1036.08 1007.52,1039.3 1007.92,1042.32 1008.31,1044.97 1008.71,1046.59 1009.11,1046.38 1009.5,1046.13 1009.9,1045.85 1010.3,1045.55 1010.7,1043.49 1011.09,1039.02 1011.49,1033.91 1011.89,1028.43 1012.28,1022.87 1012.68,1017.5 1013.08,1012.6 1013.48,1008.45 1013.87,1010.86 1014.27,1016.23 1014.67,1022.31 1015.06,1028.7 1015.46,1034.99 1015.86,1040.76 1016.26,1045.61 1016.65,1044.83 1017.05,1041.92 1017.45,1038.62 1017.85,1035.13 1018.24,1031.68 1018.64,1028.45 1019.04,1025.67 1019.43,1024.66 1019.83,1025.02 1020.23,1025.41 1020.63,1025.85 1021.02,1026.31 1021.42,1026.79 1021.82,1027.26 1022.21,1027.72 1022.61,1028.16 1023.01,1028.56 1023.41,1028.91 1023.8,1026.61 1024.2,1020.54 1024.6,1013.61 1024.99,1006.63 1025.39,1000.42 1025.79,997.83 1026.19,996.21 1026.58,994.68 1026.98,993.26 1027.38,991.96 1027.78,990.81 1028.17,990.31 1028.57,990.36 1028.97,990.41 1029.36,990.46 1029.76,990.52 1030.16,990.59 1030.56,996.78 1030.95,1007.17 1031.35,1018.42 1031.75,1028.8 1032.14,1033.89 1032.54,1028.88 1032.94,1022.95 1033.34,1016.46 1033.73,1009.74 1034.13,1003.15 1034.53,997.05 1034.92,991.78 1035.32,993.47 1035.72,1002.74 1036.12,1013.49 1036.51,1025.08 1036.91,1036.91 1037.31,1048.35 1037.71,1058.79 1038.1,1067.6 1038.5,1066.46 1038.9,1061.58 1039.29,1056.04 1039.69,1050.19 1040.09,1044.39 1040.49,1038.98 1040.88,1034.31 1041.28,1034.15 1041.68,1038.62 1042.07,1043.74 1042.47,1048.86 1042.87,1053.33 1043.27,1052.83 1043.66,1047.29 1044.06,1040.87 1044.46,1034.04 1044.85,1027.27 1045.25,1021.02 1045.65,1015.79 1046.05,1017.5 1046.44,1022.03 1046.84,1027.18 1047.24,1032.63 1047.64,1038.08 1048.03,1043.22 1048.43,1047.75 1048.83,1049.46 1049.22,1044.26 1049.62,1038.09 1050.02,1031.34 1050.42,1024.44 1050.81,1017.8 1051.21,1011.83 1051.61,1006.94 1052,1012.5 1052.4,1019.17 1052.8,1026.62 1053.2,1034.52 1053.59,1042.55 1053.99,1050.37 1054.39,1057.66 1054.78,1064.08 1055.18,1066.7 1055.58,1060.27 1055.98,1052.91 1056.37,1044.82 1056.77,1036.17 1057.17,1027.15 1057.57,1017.95 1057.96,1008.74 1058.36,999.72 1058.76,991.08 1059.15,982.98 1059.55,975.63 1059.95,969.2 1060.35,973.09 1060.74,981.32 1061.14,990.59 1061.54,1000.63 1061.93,1011.16 1062.33,1021.93 1062.73,1032.67 1063.13,1043.11 1063.52,1052.97 1063.92,1062.01 1064.32,1069.94 1064.71,1069.29 1065.11,1059.75 1065.51,1048.82 1065.91,1036.89 1066.3,1024.36 1066.7,1011.64 1067.1,999.11 1067.5,987.18 1067.89,976.25 1068.29,966.71 1068.69,967.01 1069.08,977.35 1069.48,989.27 1069.88,1002.23 1070.28,1015.72 1070.67,1029.22 1071.07,1042.18 1071.47,1054.1 1071.86,1064.44 1072.26,1067.28 1072.66,1063.32 1073.06,1058.91 1073.45,1054.77 1073.85,1052.6 1074.25,1050.94 1074.65,1049.34 1075.04,1047.86 1075.44,1046.53 1075.84,1045.39 1076.23,1047.42 1076.63,1049.96 1077.03,1052.42 1077.43,1053.19 1077.82,1050.07 1078.22,1046.45 1078.62,1042.49 1079.01,1038.38 1079.41,1034.29 1079.81,1030.4 1080.21,1026.6 1080.6,1022.67 1081,1019.02 1081.4,1016.04 1081.79,1018.48 1082.19,1021.45 1082.59,1023.89 1082.99,1020.92 1083.38,1017.2 1083.78,1013.28 1084.18,1009.69 1084.58,1008.34 1084.97,1012.01 1085.37,1016.36 1085.77,1021.13 1086.16,1026.05 1086.56,1030.88 1086.96,1035.36 1087.36,1039.22 1087.75,1040.58 1088.15,1039.93 1088.55,1039.18 1088.94,1038.39 1089.34,1037.66 1089.74,1037.04 1090.14,1038.26 1090.53,1040.55 1090.93,1042.95 1091.33,1044.99 1091.72,1042.08 1092.12,1036.56 1092.52,1030.4 1092.92,1024.24 1093.31,1018.73 1093.71,1015.77 1094.11,1017.69 1094.51,1019.61 1094.9,1018.52 1095.3,1016.1 1095.7,1013.42 1096.09,1010.78 1096.49,1008.48 1096.89,1009.36 1097.29,1013.77 1097.68,1018.88 1098.08,1024.26 1098.48,1029.48 1098.87,1034.1 1099.27,1036.52 1099.67,1034.47 1100.07,1032.09 1100.46,1029.91 1100.86,1031.09 1101.26,1035.9 1101.65,1041.46 1102.05,1047.48 1102.45,1053.65 1102.85,1059.67 1103.24,1065.23 1103.64,1070.04 1104.04,1068.14 1104.44,1058.87 1104.83,1048.15 1105.23,1036.53 1105.63,1024.57 1106.02,1012.81 1106.42,1001.82 1106.82,992.13 1107.22,986.98 1107.61,991.42 1108.01,996.73 1108.41,1002.44 1108.8,1008.09 1109.2,1013.23 1109.6,1017.38 1110,1016.6 1110.39,1015.73 1110.79,1014.76 1111.19,1013.71 1111.58,1012.59 1111.98,1011.39 1112.38,1010.14 1112.78,1001.69 1113.17,991.75 1113.57,980.87 1113.97,969.58 1114.37,958.43 1114.76,947.97 1115.16,938.72 1115.56,934.4 1115.95,941.53 1116.35,950.02 1116.75,959.17 1117.15,968.27 1117.54,976.61 1117.94,983.47 1118.34,983.93 1118.73,984.32 1119.13,984.67 1119.53,985.02 1119.93,985.39 1120.32,985.81 1120.72,987.97 1121.12,992.7 1121.51,997.83 1121.91,1002.44 1122.31,1003.57 1122.71,1001.89 1123.1,999.95 1123.5,997.98 1123.9,996.21 1124.3,995.76 1124.69,998.54 1125.09,1001.78 1125.49,1005.35 1125.88,1009.16 1126.28,1014.92 1126.68,1027.59 1127.08,1041.84 1127.47,1056.76 1127.87,1071.43 1128.27,1084.95 1128.66,1096.41 1129.06,1093.03 1129.46,1083.65 1129.86,1073 1130.25,1061.76 1130.65,1050.61 1131.05,1040.21 1131.44,1031.24 1131.84,1028.01 1132.24,1029.2 1132.64,1030.58 1133.03,1032.09 1133.43,1035.53 1133.83,1041.81 1134.23,1048.38 1134.62,1054 1135.02,1054.01 1135.42,1052.17 1135.81,1050.15 1136.21,1048.21 1136.61,1046.63 1137.01,1046.51 1137.4,1046.4 1137.8,1046.3 1138.2,1046.2 1138.59,1046.08 1138.99,1043.79 1139.39,1038.2 1139.79,1032 1140.18,1026.25 1140.58,1023.47 1140.98,1022.66 1141.37,1021.92 1141.77,1021.27 1142.17,1020.71 1142.57,1023.52 1142.96,1028.34 1143.36,1033.78 1143.76,1039.38 1144.16,1044.71 1144.55,1049.3 1144.95,1051.03 1145.35,1050.65 1145.74,1050.21 1146.14,1048.73 1146.54,1043.4 1146.94,1037.15 1147.33,1030.67 1147.73,1024.68 1148.13,1019.86 1148.52,1021.86 1148.92,1024.36 1149.32,1027.08 1149.72,1029.77 1150.11,1032.16 1150.51,1033.09 1150.91,1030.58 1151.3,1027.59 1151.7,1024.36 1152.1,1021.17 1152.5,1018.28 1152.89,1015.93 1153.29,1016.29 1153.69,1016.74 1154.09,1017.21 1154.48,1017.64 1154.88,1017.39 1155.28,1014.92 1155.67,1011.96 1156.07,1008.84 1156.47,1005.88 1156.87,1003.41 1157.26,1006.97 1157.66,1013.38 1158.06,1020.64 1158.45,1028.46 1158.85,1036.54 1159.25,1044.57 1159.65,1052.28 1160.04,1059.36 1160.44,1065.5 1160.84,1066.34 1161.23,1061.94 1161.63,1056.86 1162.03,1051.56 1162.43,1046.54 1162.82,1042.26 1163.22,1041.1 1163.62,1040.81 1164.02,1040.54 1164.41,1040.22 1164.81,1036.04 1165.21,1029.29 1165.6,1022.03 1166,1015.36 1166.4,1011.41 1166.8,1011.5 1167.19,1011.61 1167.59,1011.74 1167.99,1011.88 1168.38,1013.06 1168.78,1018.55 1169.18,1024.69 1169.58,1029.68 1169.97,1023.27 1170.37,1015.27 1170.77,1007.49 1171.16,1003.25 1171.56,1005.12 1171.96,1006.83 1172.36,1003.21 1172.75,998.67 1173.15,994.13 1173.55,990.5 1173.95,995.44 1174.34,1001.36 1174.74,1007.96 1175.14,1014.99 1175.53,1022.15 1175.93,1029.17 1176.33,1035.78 1176.73,1041.69 1177.12,1046.63 1177.52,1037.42 1177.92,1026.17 1178.31,1013.66 1178.71,1000.66 1179.11,987.95 1179.51,976.31 1179.9,966.52 1180.3,965.1 1180.7,966.19 1181.09,967.37 1181.49,968.46 1181.89,968.85 1182.29,967.63 1182.68,966.18 1183.08,964.61 1183.48,963.07 1183.88,961.66 1184.27,960.52 1184.67,962.95 1185.07,965.91 1185.46,969.21 1185.86,972.65 1186.26,976.05 1186.66,979.2 1187.05,981.92 1187.45,979.69 1187.85,971.28 1188.24,961.61 1188.64,951.79 1189.04,942.97 1189.44,938.37 1189.83,941.69 1190.23,945.67 1190.63,949.95 1191.02,954.18 1191.42,958.03 1191.82,961.14 1192.22,952.39 1192.61,941.41 1193.01,929.83 1193.41,919.26 1193.81,915.23 1194.2,925.79 1194.6,938.27 1195,951.98 1195.39,966.21 1195.79,980.26 1196.19,993.45 1196.59,1005.06 1196.98,1010.79 1197.38,1003.55 1197.78,994.94 1198.17,985.55 1198.57,976.02 1198.97,966.95 1199.37,958.94 1199.76,954.01 1200.16,954.01 1200.56,954.01 1200.95,952.65 1201.35,946.27 1201.75,938.74 1202.15,930.46 1202.54,921.88 1202.94,913.39 1203.34,905.44 1203.74,898.43 1204.13,895.37 1204.53,901.84 1204.93,909.51 1205.32,917.47 1205.72,924.81 1206.12,928.92 1206.52,930.67 1206.91,932.26 1207.31,933.78 1207.71,935.33 1208.1,937 1208.5,939.91 1208.9,946.58 1209.3,954.05 1209.69,962.02 1210.09,970.2 1210.49,978.28 1210.88,985.98 1211.28,992.98 1211.68,999.01 1212.08,995.96 1212.47,989.05 1212.87,981.21 1213.27,972.79 1213.67,964.15 1214.06,955.65 1214.46,947.63 1214.86,940.45 1215.25,934.47 1215.65,936.07 1216.05,938.09 1216.45,940.14 1216.84,941.88 1217.24,939.22 1217.64,934.32 1218.03,928.77 1218.43,923.01 1218.83,917.46 1219.23,912.56 1219.62,910.76 1220.02,916.44 1220.42,923.19 1220.81,930.55 1221.21,938.09 1221.61,945.35 1222.01,951.87 1222.4,957.21 1222.8,951.77 1223.2,945.23 1223.6,937.93 1223.99,930.19 1224.39,922.32 1224.79,914.66 1225.18,907.52 1225.58,901.23 1225.98,897.72 1226.38,900.09 1226.77,902.87 1227.17,905.52 1227.57,907 1227.96,906.59 1228.36,906.12 1228.76,905.69 1229.16,910.46 1229.55,923.31 1229.95,936.15 1230.35,935.49 1230.74,922.51 1231.14,907.61 1231.54,891.35 1231.94,874.32 1232.33,857.07 1232.73,840.18 1233.13,824.21 1233.53,809.73 1233.92,797.32 1234.32,797.36 1234.72,801.62 1235.11,806.41 1235.51,811.58 1235.91,816.96 1236.31,822.41 1236.7,834.14 1237.1,847.13 1237.5,860.93 1237.89,875.06 1238.29,889.07 1238.69,902.5 1239.09,914.87 1239.48,925.72 1239.88,927.12 1240.28,919.14 1240.68,909.89 1241.07,899.96 1241.47,889.96 1241.87,880.48 1242.26,872.13 1242.66,867.89 1243.06,872.57 1243.46,878.13 1243.85,883.69 1244.25,888.37 1244.65,888 1245.04,885.87 1245.44,883.48 1245.84,879.41 1246.24,873.05 1246.63,866.1 1247.03,858.88 1247.43,851.69 1247.82,844.87 1248.22,838.72 1248.62,833.58 1249.02,838.11 1249.41,843.34 1249.81,849.15 1250.21,855.4 1250.61,861.97 1251,868.71 1251.4,875.5 1251.8,882.21 1252.19,888.7 1252.59,894.86 1252.99,900.54 1253.39,905.61 1253.78,907.51 1254.18,900.78 1254.58,892.8 1254.97,884.07 1255.37,875.09 1255.77,866.35 1256.17,858.37 1256.56,851.65 1256.96,855.77 1257.36,864.92 1257.75,875.22 1258.15,885.76 1258.55,895.6 1258.95,903.83 1259.34,900.15 1259.74,891.57 1260.14,881.91 1260.54,871.7 1260.93,861.49 1261.33,851.84 1261.73,843.29 1262.12,839.87 1262.52,836.51 1262.92,833.24 1263.32,830.12 1263.71,827.17 1264.11,824.45 1264.51,821.99 1264.9,821.55 1265.3,827.13 1265.7,833.67 1266.1,840.88 1266.49,848.46 1266.89,856.11 1267.29,863.54 1267.68,870.45 1268.08,876.55 1268.48,879.34 1268.88,874.08 1269.27,867.78 1269.67,861.21 1270.07,855.1 1270.47,850.22 1270.86,855.62 1271.26,862.28 1271.66,869.63 1272.05,877.13 1272.45,884.2 1272.85,890.3 1273.25,889.96 1273.64,882.86 1274.04,874.68 1274.44,866.39 1274.83,858.93 1275.23,855.41 1275.63,860.51 1276.03,855.85 1276.42,838.61 1276.82,819.25 1277.22,801.17 1277.61,790.47 1278.01,790.47" fill="none" stroke="#1f77b4" stroke-width="2.5" stroke-linejoin="round" stroke-linecap="butt" clip-path="url(#c775)"/>
<polyline points="676.85,1079.92 677.25,1068.84 677.64,1058.36 678.04,1048.39 678.44,1039.38 678.84,1031.27 679.23,1023.7 679.63,1016.49 680.03,1012.8 680.42,1019.38 680.82,1027.14 681.22,1035.61 681.62,1044.48 682.01,1053.43 682.41,1062.1 682.81,1069.36 683.2,1072.24 683.6,1066.61 684,1060.44 684.4,1053.39 684.79,1046.03 685.19,1038.71 685.59,1030.9 685.99,1023.76 686.38,1017.59 686.78,1012.07 687.18,1015.6 687.57,1019.96 687.97,1024.47 688.37,1028.38 688.77,1027.92 689.16,1026.01 689.56,1023.61 689.96,1020.99 690.35,1018.44 690.75,1016.44 691.15,1019.95 691.55,1025.92 691.94,1032.48 692.34,1039.74 692.74,1047.49 693.13,1055.06 693.53,1062.09 693.93,1068.28 694.33,1073.36 694.72,1070.11 695.12,1066.41 695.52,1062.09 695.92,1057.25 696.31,1052.78 696.71,1048.7 697.11,1044.54 697.5,1040.91 697.9,1041.58 698.3,1042.57 698.7,1043.67 699.09,1044.63 699.49,1045.1 699.89,1045.95 700.28,1044.08 700.68,1039.86 701.08,1035.65 701.48,1031.85 701.87,1028.63 702.27,1029.73 702.67,1031.16 703.06,1032.98 703.46,1033 703.86,1027.06 704.26,1020.26 704.65,1013.88 705.05,1007.35 705.45,1001.11 705.85,1000.73 706.24,1005.61 706.64,1011.01 707.04,1016.78 707.43,1022.31 707.83,1027.46 708.23,1032.07 708.63,1031.74 709.02,1029.75 709.42,1028.06 709.82,1026.26 710.21,1024.49 710.61,1027.46 711.01,1031.16 711.41,1035.06 711.8,1039.23 712.2,1043.89 712.6,1048.53 712.99,1053 713.39,1057.41 713.79,1061.76 714.19,1065.86 714.58,1069.27 714.98,1072.29 715.38,1068.69 715.78,1063.84 716.17,1058.21 716.57,1053.2 716.97,1050.73 717.36,1052.11 717.76,1053.45 718.16,1054.04 718.56,1048.97 718.95,1043.69 719.35,1037.96 719.75,1031.5 720.14,1024.9 720.54,1018.36 720.94,1011.88 721.34,1006.03 721.73,1001.05 722.13,1000.15 722.53,1003.22 722.92,1007.26 723.32,1011.43 723.72,1015.7 724.12,1020.45 724.51,1024.79 724.91,1028.8 725.31,1032.54 725.71,1036.51 726.1,1040.55 726.5,1044.55 726.9,1048.69 727.29,1052.39 727.69,1055.83 728.09,1058.92 728.49,1055.89 728.88,1049.85 729.28,1042.96 729.68,1036.11 730.07,1030.48 730.47,1029.54 730.87,1032.28 731.27,1034.95 731.66,1037.03 732.06,1035.28 732.46,1029.72 732.85,1023.12 733.25,1015.71 733.65,1008.15 734.05,1000.47 734.44,992.95 734.84,986.1 735.24,979.94 735.64,978.23 736.03,981.3 736.43,985.08 736.83,988.71 737.22,992.17 737.62,994.38 738.02,993.79 738.42,992.89 738.81,991.88 739.21,1006.65 739.61,1025.45 740,1045.17 740.4,1063.23 740.8,1072.47 741.2,1064.8 741.59,1055.73 741.99,1045.46 742.39,1034.68 742.79,1024.58 743.18,1015.45 743.58,1007.19 743.98,1005.78 744.37,1011.15 744.77,1017.56 745.17,1024.26 745.57,1031.25 745.96,1038.72 746.36,1046 746.76,1052.75 747.15,1058.55 747.55,1057.73 747.95,1050.44 748.35,1042.33 748.74,1033.41 749.14,1024.08 749.54,1015.16 749.93,1007.13 750.33,1000.23 750.73,1002.51 751.13,1008.89 751.52,1015.87 751.92,1022.36 752.32,1025.53 752.72,1021.4 753.11,1016.93 753.51,1016.03 753.91,1016.26 754.3,1016.57 754.7,1016.72 755.1,1016.61 755.5,1016.54 755.89,1019.47 756.29,1026.03 756.69,1020.51 757.08,1013.13 757.48,1004.99 757.88,997.22 758.28,990.27 758.67,987.28 759.07,992.94 759.47,999.45 759.86,1006.61 760.26,1014.16 760.66,1021.52 761.06,1028.86 761.45,1035.75 761.85,1041.22 762.25,1042.49 762.65,1042.65 763.04,1042.48 763.44,1042.32 763.84,1042.01 764.23,1045.28 764.63,1049.13 765.03,1048.3 765.43,1043.2 765.82,1037.09 766.22,1030.24 766.62,1023.58 767.01,1015.16 767.41,1003.6 767.81,991.27 768.21,978.72 768.6,966.59 769,956.22 769.4,952.23 769.79,961.49 770.19,971.85 770.59,983.41 770.99,995.58 771.38,1008.04 771.78,1020.91 772.18,1034.09 772.58,1046.74 772.97,1058.49 773.37,1069.26 773.77,1078.91 774.16,1083.86 774.56,1076.97 774.96,1068.77 775.36,1059.26 775.75,1049.53 776.15,1040.67 776.55,1032.94 776.94,1029.17 777.34,1033.85 777.74,1038.68 778.14,1040.55 778.53,1037.3 778.93,1033.77 779.33,1029.54 779.72,1025.23 780.12,1021.38 780.52,1018.17 780.92,1017.33 781.31,1016.83 781.71,1016.49 782.11,1021.19 782.51,1028.82 782.9,1036.59 783.3,1042.79 783.7,1039.33 784.09,1035.33 784.49,1030.68 784.89,1025.49 785.29,1020.74 785.68,1016.71 786.08,1013.13 786.48,1015.86 786.87,1021.28 787.27,1027.19 787.67,1033.83 788.07,1040.82 788.46,1047.39 788.86,1053.14 789.26,1058.09 789.65,1055.7 790.05,1049.98 790.45,1043.53 790.85,1036.96 791.24,1030.85 791.64,1026.16 792.04,1022.8 792.44,1020.17 792.83,1017.66 793.23,1015.05 793.63,1011.82 794.02,1006.61 794.42,1001.05 794.82,996.15 795.22,991.98 795.61,996.05 796.01,1004.18 796.41,1013.48 796.8,1023.55 797.2,1033.26 797.6,1042.1 798,1049.73 798.39,1048.31 798.79,1043.51 799.19,1038.17 799.58,1032.68 799.98,1026.87 800.38,1020.83 800.78,1014.86 801.17,1008.65 801.57,1002.2 801.97,996.15 802.37,990.63 802.76,986.07 803.16,982.59 803.56,988.03 803.95,994.05 804.35,1001.44 804.75,1009.57 805.15,1017.84 805.54,1025.99 805.94,1033.62 806.34,1040.68 806.73,1046.76 807.13,1045.1 807.53,1040.29 807.93,1035.21 808.32,1029.7 808.72,1024.3 809.12,1020.16 809.51,1023.71 809.91,1028.12 810.31,1033.39 810.71,1038.76 811.1,1043.75 811.5,1048.87 811.9,1053.66 812.3,1057.47 812.69,1058.33 813.09,1056.44 813.49,1054.31 813.88,1052.05 814.28,1049.21 814.68,1046.35 815.08,1042.09 815.47,1031.72 815.87,1020.24 816.27,1009.1 816.66,999.42 817.06,996.34 817.46,998.45 817.86,998.99 818.25,994.91 818.65,991.09 819.05,995.41 819.44,1003.5 819.84,1012.76 820.24,1021.91 820.64,1029.92 821.03,1033.67 821.43,1027.78 821.83,1020.52 822.23,1013.04 822.62,1005.55 823.02,997.92 823.42,991.13 823.81,985.49 824.21,984.28 824.61,987.57 825.01,991.73 825.4,996.23 825.8,1000.28 826.2,1003.32 826.59,1002.79 826.99,1001.06 827.39,999.31 827.79,1000.95 828.18,1004.47 828.58,1008.39 828.98,1011.82 829.37,1015.32 829.77,1019.2 830.17,1022.17 830.57,1024.17 830.96,1026.55 831.36,1028.38 831.76,1029.84 832.16,1031.42 832.55,1032.94 832.95,1029.45 833.35,1025.12 833.74,1019.65 834.14,1013.93 834.54,1008.19 834.94,1002.3 835.33,996.59 835.73,991.35 836.13,986.5 836.52,981.74 836.92,977.78 837.32,979.6 837.72,981.39 838.11,983.19 838.51,985.15 838.91,988.65 839.3,997.65 839.7,1007.66 840.1,1017.61 840.5,1026.34 840.89,1028.68 841.29,1025.9 841.69,1023.09 842.09,1022.11 842.48,1026.43 842.88,1032.07 843.28,1037.78 843.67,1041.92 844.07,1037.86 844.47,1030.79 844.87,1023.02 845.26,1014.54 845.66,1005.89 846.06,997.65 846.45,989.78 846.85,982.65 847.25,976.65 847.65,982.12 848.04,988.77 848.44,996.49 848.84,1004.67 849.23,1012.6 849.63,1020.18 850.03,1027.56 850.43,1034.28 850.82,1038.01 851.22,1037.07 851.62,1036.39 852.02,1035.67 852.41,1034.78 852.81,1033.88 853.21,1032.92 853.6,1023.2 854,1011.7 854.4,999.17 854.8,986.16 855.19,974.25 855.59,964.34 855.99,960.37 856.38,957.88 856.78,955.88 857.18,953.97 857.58,952 857.97,956.15 858.37,961.35 858.77,967.1 859.16,973.08 859.56,978.65 859.96,983.97 860.36,987.42 860.75,990.26 861.15,992.56 861.55,994.98 861.95,1000.9 862.34,1007.85 862.74,1015.21 863.14,1022.66 863.53,1029.92 863.93,1036.92 864.33,1043.11 864.73,1048.2 865.12,1050.29 865.52,1050.21 865.92,1050.67 866.31,1052.71 866.71,1060.46 867.11,1069.65 867.51,1078 867.9,1078.39 868.3,1071.96 868.7,1064.32 869.09,1056.28 869.49,1048.33 869.89,1040.61 870.29,1033.77 870.68,1029.45 871.08,1029.03 871.48,1028.52 871.88,1028.22 872.27,1024.97 872.67,1017.19 873.07,1008.41 873.46,999.55 873.86,990.7 874.26,982.35 874.66,975.19 875.05,974.82 875.45,976.77 875.85,978.89 876.24,981.31 876.64,985.8 877.04,996.43 877.44,1008.27 877.83,1020.29 878.23,1030.73 878.63,1032.67 879.02,1027.45 879.42,1021.72 879.82,1015.4 880.22,1008.53 880.61,1002.18 881.01,996.65 881.41,991.83 881.81,995.25 882.2,1002.73 882.6,1010.55 883,1018.03 883.39,1024.85 883.79,1028.5 884.19,1025.19 884.59,1021.8 884.98,1022.44 885.38,1024.53 885.78,1027.01 886.17,1029.35 886.57,1031.1 886.97,1033.11 887.37,1035.39 887.76,1037.15 888.16,1033.69 888.56,1027.8 888.95,1021 889.35,1013.91 889.75,1007.52 890.15,1003.49 890.54,1001.16 890.94,999.05 891.34,997.08 891.74,995.35 892.13,994.93 892.53,995.12 892.93,995.4 893.32,995.32 893.72,995.05 894.12,994.93 894.52,1000.82 894.91,1007.88 895.31,1015.33 895.71,1023.06 896.1,1030.54 896.5,1036.73 896.9,1033.7 897.3,1026.51 897.69,1018.48 898.09,1010.86 898.49,1003.87 898.88,1000.81 899.28,1007.32 899.68,1014.81 900.08,1022.89 900.47,1031.25 900.87,1039.34 901.27,1047.14 901.67,1053.88 902.06,1053.68 902.46,1047.03 902.86,1039.59 903.25,1031.61 903.65,1023.38 904.05,1015.32 904.45,1007.69 904.84,1000.88 905.24,995.24 905.64,1002.79 906.03,1011.75 906.43,1021.76 906.83,1032.38 907.23,1043.09 907.62,1053.52 908.02,1063.88 908.42,1073.63 908.82,1081.72 909.21,1083.65 909.61,1079.83 910.01,1074.72 910.4,1069.01 910.8,1063.78 911.2,1059.39 911.6,1055.41 911.99,1056.45 912.39,1060.2 912.79,1064.73 913.18,1069.03 913.58,1073.25 913.98,1077.08 914.38,1080.08 914.77,1071.15 915.17,1060.32 915.57,1047.86 915.96,1034.85 916.36,1022.19 916.76,1010.71 917.16,1001.13 917.55,1003.46 917.95,1010.78 918.35,1019.1 918.75,1027.45 919.14,1034.65 919.54,1037.95 919.94,1033.72 920.33,1028.46 920.73,1022.73 921.13,1017.31 921.53,1012.54 921.92,1013.55 922.32,1016.86 922.72,1020.61 923.11,1024.45 923.51,1028.27 923.91,1032.09 924.31,1035.45 924.7,1038.13 925.1,1034.32 925.5,1027.48 925.89,1020.1 926.29,1012.79 926.69,1006.59 927.09,1004.54 927.48,1005.49 927.88,1006.76 928.28,1008.29 928.68,1011.35 929.07,1019.64 929.47,1028.44 929.87,1036.48 930.26,1043.23 930.66,1038.53 931.06,1033.01 931.46,1026.71 931.85,1019.6 932.25,1012.59 932.65,1006.06 933.04,999.12 933.44,992.35 933.84,986.9 934.24,982.19 934.63,984.25 935.03,986.99 935.43,989.83 935.82,992.57 936.22,995.61 936.62,998.84 937.02,1001.97 937.41,1004.76 937.81,1003.09 938.21,995.71 938.61,987.15 939,979.22 939.4,973.48 939.8,977 940.19,980.91 940.59,984.8 940.99,988.68 941.39,992.57 941.78,995.97 942.18,994.78 942.58,988.64 942.97,981.82 943.37,974.64 943.77,967.25 944.17,960.42 944.56,954.49 944.96,952.04 945.36,958.24 945.75,965.53 946.15,972.36 946.55,973.18 946.95,968.98 947.34,964.88 947.74,963.39 948.14,968.64 948.54,975.13 948.93,982.34 949.33,989.83 949.73,997.35 950.12,1004.35 950.52,1010.82 950.92,1016.5 951.32,1014.21 951.71,1008.4 952.11,1001.85 952.51,995.24 952.9,988.89 953.3,983.47 953.7,987.7 954.1,995.99 954.49,1005.41 954.89,1015.72 955.29,1026.08 955.68,1035.51 956.08,1043.99 956.48,1047.95 956.88,1050.51 957.27,1052.67 957.67,1054.27 958.07,1055.93 958.47,1057.98 958.86,1059.69 959.26,1057.7 959.66,1053.99 960.05,1049.83 960.45,1045.58 960.85,1041.58 961.25,1037.84 961.64,1034.56 962.04,1033.78 962.44,1035.07 962.83,1036.1 963.23,1034.3 963.63,1029.13 964.03,1023.37 964.42,1018.06 964.82,1017.91 965.22,1022.44 965.61,1026.89 966.01,1029.35 966.41,1027.76 966.81,1025.29 967.2,1022.54 967.6,1020.62 968,1021.45 968.4,1023.24 968.79,1023.95 969.19,1021.94 969.59,1019.69 969.98,1017.53 970.38,1018.76 970.78,1024.53 971.18,1029.47 971.57,1022.12 971.97,1013.49 972.37,1004.4 972.76,995.02 973.16,985.58 973.56,976.26 973.96,967.67 974.35,960.56 974.75,968.13 975.15,977.54 975.54,987.88 975.94,998.34 976.34,1008.12 976.74,1016.37 977.13,1015.87 977.53,1012.05 977.93,1008.2 978.33,1004.94 978.72,1005.2 979.12,1008.94 979.52,1013.38 979.91,1018.2 980.31,1023.13 980.71,1027.76 981.11,1032.3 981.5,1037.12 981.9,1041.65 982.3,1045.43 982.69,1046.18 983.09,1043.99 983.49,1041.21 983.89,1038.18 984.28,1035.14 984.68,1032.33 985.08,1029.2 985.47,1026.2 985.87,1024.59 986.27,1025.3 986.67,1025.31 987.06,1025.48 987.46,1026.12 987.86,1026.85 988.26,1027.26 988.65,1027.5 989.05,1027.92 989.45,1028.58 989.84,1029.14 990.24,1030.32 990.64,1032.28 991.04,1033.97 991.43,1035.62 991.83,1037.17 992.23,1029.64 992.62,1020.35 993.02,1010.32 993.42,1000.25 993.82,990.78 994.21,985.98 994.61,991.03 995.01,996.89 995.4,1002.99 995.8,1009.66 996.2,1016.62 996.6,1022.88 996.99,1028.57 997.39,1033.7 997.79,1033.11 998.19,1030.13 998.58,1026.97 998.98,1024.41 999.38,1029.8 999.77,1036.17 1000.17,1042.89 1000.57,1050.11 1000.97,1057.58 1001.36,1064.69 1001.76,1071.28 1002.16,1077 1002.55,1074.45 1002.95,1068.46 1003.35,1061.83 1003.75,1054.64 1004.14,1047.27 1004.54,1040.44 1004.94,1034.17 1005.33,1028.13 1005.73,1024.76 1006.13,1027.24 1006.53,1030.22 1006.92,1033.35 1007.32,1036.42 1007.72,1039.71 1008.12,1042.83 1008.51,1045.31 1008.91,1046.83 1009.31,1046.84 1009.7,1046.68 1010.1,1046.32 1010.5,1045.92 1010.9,1043.68 1011.29,1039.19 1011.69,1034 1012.09,1028.55 1012.48,1023.42 1012.88,1018.33 1013.28,1013.15 1013.68,1008.81 1014.07,1011.53 1014.47,1016.99 1014.87,1022.9 1015.26,1029.04 1015.66,1035.07 1016.06,1040.93 1016.46,1046.19 1016.85,1045.66 1017.25,1042.62 1017.65,1039.1 1018.05,1035.33 1018.44,1031.68 1018.84,1028.8 1019.24,1026.45 1019.63,1025.27 1020.03,1025.16 1020.43,1025.39 1020.83,1025.96 1021.22,1026.68 1021.62,1027.39 1022.02,1028.18 1022.41,1029 1022.81,1029.2 1023.21,1029.24 1023.61,1029.48 1024,1026.98 1024.4,1020.91 1024.8,1013.99 1025.19,1006.91 1025.59,1000.4 1025.99,997.53 1026.39,996.08 1026.78,994.78 1027.18,993.58 1027.58,992.3 1027.98,991.02 1028.37,990.88 1028.77,991.35 1029.17,991.39 1029.56,991.14 1029.96,990.95 1030.36,991.01 1030.76,997.25 1031.15,1007.72 1031.55,1019.07 1031.95,1029.23 1032.34,1033.98 1032.74,1029.03 1033.14,1023.44 1033.54,1017.27 1033.93,1010.61 1034.33,1003.85 1034.73,997.4 1035.12,991.96 1035.52,994.16 1035.92,1003.68 1036.32,1013.95 1036.71,1025.16 1037.11,1037.11 1037.51,1048.71 1037.91,1058.92 1038.3,1067.56 1038.7,1066.63 1039.1,1062.11 1039.49,1056.73 1039.89,1050.82 1040.29,1044.91 1040.69,1039.75 1041.08,1035.35 1041.48,1034.84 1041.88,1038.81 1042.27,1043.66 1042.67,1049.01 1043.07,1053.69 1043.47,1053.07 1043.86,1047.77 1044.26,1041.8 1044.66,1035.05 1045.05,1027.98 1045.45,1021.6 1045.85,1016.2 1046.25,1017.58 1046.64,1022.21 1047.04,1027.73 1047.44,1033.5 1047.84,1038.93 1048.23,1043.59 1048.63,1047.99 1049.03,1050.29 1049.42,1045.31 1049.82,1038.8 1050.22,1031.99 1050.62,1025.16 1051.01,1018.39 1051.41,1012.4 1051.81,1007.67 1052.2,1013.04 1052.6,1019.42 1053,1027.16 1053.4,1035.3 1053.79,1042.99 1054.19,1050.52 1054.59,1057.83 1054.98,1064.32 1055.38,1067.26 1055.78,1061.04 1056.18,1053.38 1056.57,1045.21 1056.97,1036.68 1057.37,1027.8 1057.77,1019 1058.16,1009.88 1058.56,1000.47 1058.96,991.7 1059.35,983.73 1059.75,976.3 1060.15,969.96 1060.55,973.9 1060.94,981.86 1061.34,991 1061.74,1000.96 1062.13,1011.48 1062.53,1022.35 1062.93,1033.42 1063.33,1044.26 1063.72,1053.89 1064.12,1062.32 1064.52,1070.1 1064.91,1069.6 1065.31,1060.37 1065.71,1049.47 1066.11,1037.16 1066.5,1024.44 1066.9,1011.6 1067.3,999.13 1067.7,987.78 1068.09,977.17 1068.49,966.89 1068.89,966.62 1069.28,977.44 1069.68,989.81 1070.08,1002.92 1070.48,1016.51 1070.87,1029.95 1071.27,1042.93 1071.67,1054.7 1072.06,1064.83 1072.46,1067.92 1072.86,1063.99 1073.26,1059.19 1073.65,1054.88 1074.05,1052.77 1074.45,1051.24 1074.85,1049.73 1075.24,1048.14 1075.64,1046.7 1076.04,1045.48 1076.43,1047.34 1076.83,1049.99 1077.23,1052.84 1077.63,1053.82 1078.02,1050.79 1078.42,1047.19 1078.82,1042.97 1079.21,1038.74 1079.61,1034.73 1080.01,1030.78 1080.41,1026.84 1080.8,1022.86 1081.2,1019.53 1081.6,1016.72 1081.99,1018.91 1082.39,1021.8 1082.79,1024.26 1083.19,1021.3 1083.58,1017.83 1083.98,1013.96 1084.38,1010.23 1084.78,1008.73 1085.17,1012.18 1085.57,1016.75 1085.97,1021.77 1086.36,1026.63 1086.76,1031.58 1087.16,1035.89 1087.56,1039.32 1087.95,1040.8 1088.35,1040.57 1088.75,1040.04 1089.14,1039.1 1089.54,1038.07 1089.94,1037.29 1090.34,1038.44 1090.73,1040.88 1091.13,1043.62 1091.53,1045.58 1091.92,1042.33 1092.32,1036.86 1092.72,1030.87 1093.12,1024.92 1093.51,1019.46 1093.91,1016.19 1094.31,1018.04 1094.71,1020.13 1095.1,1019 1095.5,1016.25 1095.9,1013.5 1096.29,1011.12 1096.69,1008.86 1097.09,1009.98 1097.49,1014.63 1097.88,1019.51 1098.28,1024.6 1098.68,1029.85 1099.07,1034.68 1099.47,1037.21 1099.87,1035.11 1100.27,1032.63 1100.66,1030.63 1101.06,1031.95 1101.46,1036.63 1101.85,1042.09 1102.25,1047.93 1102.65,1054.06 1103.05,1060.32 1103.44,1065.79 1103.84,1070.28 1104.24,1068.39 1104.64,1059.34 1105.03,1048.75 1105.43,1036.8 1105.83,1024.55 1106.22,1013.17 1106.62,1002.6 1107.02,992.8 1107.42,987.49 1107.81,992.13 1108.21,997.49 1108.61,1003.26 1109,1009.15 1109.4,1014.13 1109.8,1018.09 1110.2,1017.23 1110.59,1016.07 1110.99,1015.03 1111.39,1014.13 1111.78,1013.05 1112.18,1011.87 1112.58,1010.41 1112.98,1001.68 1113.37,991.9 1113.77,981.31 1114.17,969.91 1114.57,958.58 1114.96,948.4 1115.36,939.54 1115.76,935.14 1116.15,942.2 1116.55,950.75 1116.95,959.68 1117.35,968.49 1117.74,976.7 1118.14,983.64 1118.54,984.26 1118.93,984.84 1119.33,985.42 1119.73,985.68 1120.13,985.79 1120.52,986.39 1120.92,988.76 1121.32,993.45 1121.71,998.43 1122.11,1002.88 1122.51,1003.96 1122.91,1002.19 1123.3,1000.41 1123.7,998.64 1124.1,996.94 1124.5,996.52 1124.89,999.08 1125.29,1002.27 1125.69,1006.11 1126.08,1009.97 1126.48,1015.44 1126.88,1028.09 1127.28,1042.47 1127.67,1057.41 1128.07,1072.41 1128.47,1086.01 1128.86,1097.14 1129.26,1093.52 1129.66,1084.17 1130.06,1073.5 1130.45,1062.06 1130.85,1051.15 1131.25,1041.04 1131.64,1031.97 1132.04,1028.78 1132.44,1029.89 1132.84,1030.84 1133.23,1032.31 1133.63,1035.75 1134.03,1041.85 1134.43,1048.51 1134.82,1054.28 1135.22,1054.44 1135.62,1052.88 1136.01,1050.88 1136.41,1048.58 1136.81,1047.12 1137.21,1047.48 1137.6,1047.34 1138,1046.79 1138.4,1046.55 1138.79,1046.58 1139.19,1044.36 1139.59,1038.76 1139.99,1032.37 1140.38,1026.59 1140.78,1024.02 1141.18,1023.49 1141.57,1022.75 1141.97,1021.79 1142.37,1021.24 1142.77,1024.45 1143.16,1029.43 1143.56,1034.78 1143.96,1040.42 1144.36,1045.68 1144.75,1049.99 1145.15,1051.67 1145.55,1051.33 1145.94,1050.7 1146.34,1049.23 1146.74,1043.88 1147.14,1037.21 1147.53,1030.67 1147.93,1025.09 1148.33,1020.52 1148.72,1022.44 1149.12,1024.62 1149.52,1027.3 1149.92,1030.2 1150.31,1032.55 1150.71,1033.56 1151.11,1031.16 1151.5,1028.05 1151.9,1024.96 1152.3,1022.11 1152.7,1019.3 1153.09,1016.7 1153.49,1016.92 1153.89,1017.48 1154.29,1017.84 1154.68,1017.8 1155.08,1017.36 1155.48,1015.3 1155.87,1012.47 1156.27,1009.18 1156.67,1006.35 1157.07,1003.98 1157.46,1007.33 1157.86,1013.48 1158.26,1020.84 1158.65,1029 1159.05,1037.28 1159.45,1045.36 1159.85,1053.09 1160.24,1060.04 1160.64,1066 1161.04,1066.81 1161.43,1062.4 1161.83,1057.36 1162.23,1052.29 1162.63,1047.27 1163.02,1042.67 1163.42,1041.41 1163.82,1041 1164.22,1040.54 1164.61,1040.39 1165.01,1036.4 1165.41,1029.68 1165.8,1022.54 1166.2,1016.23 1166.6,1012.51 1167,1012.3 1167.39,1012.04 1167.79,1012.46 1168.19,1012.94 1168.58,1013.88 1168.98,1019.25 1169.38,1025.02 1169.78,1029.61 1170.17,1023.52 1170.57,1015.57 1170.97,1007.49 1171.36,1003.26 1171.76,1005.43 1172.16,1007.42 1172.56,1003.72 1172.95,999.19 1173.35,994.83 1173.75,991.07 1174.15,995.69 1174.54,1001.6 1174.94,1008.47 1175.34,1015.64 1175.73,1022.86 1176.13,1029.83 1176.53,1036.44 1176.93,1042.48 1177.32,1047.07 1177.72,1037.57 1178.12,1026.52 1178.51,1014.16 1178.91,1001.24 1179.31,988.43 1179.71,976.45 1180.1,966.43 1180.5,965.33 1180.9,967 1181.29,968.44 1181.69,969.56 1182.09,969.69 1182.49,968.17 1182.88,966.6 1183.28,964.98 1183.68,963.42 1184.08,961.99 1184.47,960.99 1184.87,963.4 1185.27,966.15 1185.66,969.61 1186.06,973.2 1186.46,976.31 1186.86,979.49 1187.25,982.7 1187.65,980.76 1188.05,972.28 1188.44,962.55 1188.84,952.77 1189.24,943.62 1189.64,938.82 1190.03,942.32 1190.43,946.38 1190.83,950.7 1191.22,954.84 1191.62,958.68 1192.02,961.73 1192.42,952.37 1192.81,941.22 1193.21,930.17 1193.61,919.77 1194.01,915.71 1194.4,926.31 1194.8,938.6 1195.2,952.25 1195.59,966.48 1195.99,980.48 1196.39,993.46 1196.79,1004.73 1197.18,1010.63 1197.58,1003.83 1197.98,995.42 1198.37,985.99 1198.77,976.09 1199.17,966.91 1199.57,959.29 1199.96,954.47 1200.36,954.08 1200.76,953.89 1201.15,952.68 1201.55,946.56 1201.95,939.5 1202.35,931.3 1202.74,922.33 1203.14,914.02 1203.54,906.57 1203.94,899.51 1204.33,895.84 1204.73,901.74 1205.13,909.41 1205.52,917.71 1205.92,925.24 1206.32,929.28 1206.72,930.9 1207.11,932.38 1207.51,933.87 1207.91,935.69 1208.3,937.51 1208.7,940.26 1209.1,946.86 1209.5,954.27 1209.89,962.38 1210.29,970.93 1210.69,979.07 1211.08,986.71 1211.48,993.74 1211.88,999.57 1212.28,996.58 1212.67,989.92 1213.07,981.8 1213.47,973.15 1213.87,964.66 1214.26,956.11 1214.66,948 1215.06,940.71 1215.45,934.68 1215.85,936.59 1216.25,938.54 1216.65,940.32 1217.04,942.18 1217.44,939.86 1217.84,935.06 1218.23,929.31 1218.63,923.72 1219.03,918.4 1219.43,913.22 1219.82,911.06 1220.22,916.65 1220.62,923.69 1221.01,931.1 1221.41,938.44 1221.81,945.54 1222.21,951.87 1222.6,957.21 1223,951.94 1223.4,945.58 1223.8,938.11 1224.19,930.35 1224.59,922.76 1224.99,915.05 1225.38,907.73 1225.78,901.5 1226.18,898.08 1226.58,900.19 1226.97,902.96 1227.37,905.87 1227.77,907.15 1228.16,906.63 1228.56,906.47 1228.96,906.2 1229.36,910.9 1229.75,923.74 1230.15,936.81 1230.55,936.29 1230.94,923.19 1231.34,907.98 1231.74,891.63 1232.14,875.1 1232.53,859.42 1232.93,843.6 1233.33,828.61 1233.73,815.3 1234.12,803.94 1234.52,804.25 1234.92,808.54 1235.31,813 1235.71,817.46 1236.11,822.17 1236.51,827.13 1236.9,837.89 1237.3,849.8 1237.7,862.36 1238.09,875.46 1238.49,889.55 1238.89,903.08 1239.29,915.4 1239.68,926.03 1240.08,927.25 1240.48,919.18 1240.88,909.87 1241.27,899.93 1241.67,889.96 1242.07,880.68 1242.46,872.68 1242.86,868.47 1243.26,872.87 1243.66,878.25 1244.05,883.73 1244.45,888.28 1244.85,888.04 1245.24,886.4 1245.64,883.98 1246.04,879.75 1246.44,873.82 1246.83,867.35 1247.23,860.46 1247.63,853.71 1248.02,847.57 1248.42,841.87 1248.82,837.09 1249.22,841.66 1249.61,846.64 1250.01,851.9 1250.41,857.43 1250.81,863.27 1251.2,869.53 1251.6,876.1 1252,883.04 1252.39,889.44 1252.79,895.44 1253.19,901.19 1253.59,906.05 1253.98,907.61 1254.38,900.97 1254.78,893.47 1255.17,885.02 1255.57,875.96 1255.97,867.77 1256.37,860.51 1256.76,854.13 1257.16,857.79 1257.56,866.09 1257.95,875.43 1258.35,886.12 1258.75,896.04 1259.15,904.03 1259.54,900.38 1259.94,891.94 1260.34,882.23 1260.74,872.51 1261.13,863.37 1261.53,854.49 1261.93,846.58 1262.32,843.32 1262.72,839.87 1263.12,836.77 1263.52,833.84 1263.91,830.81 1264.31,828.23 1264.71,825.98 1265.1,825.45 1265.5,830.86 1265.9,837.34 1266.3,844.03 1266.69,850.89 1267.09,857.84 1267.49,864.93 1267.88,871.61 1268.28,877.01 1268.68,879.48 1269.08,874.4 1269.47,868.64 1269.87,862.47 1270.27,857.08 1270.67,853.02 1271.06,858.03 1271.46,863.94 1271.86,870.68 1272.25,877.83 1272.65,884.84 1273.05,890.74 1273.45,890.47 1273.84,883.59 1274.24,875.45 1274.64,867.55 1275.03,860.94 1275.43,857.97 1275.83,862.52 1276.23,857.88 1276.62,841.84 1277.02,824 1277.42,807.17 1277.81,797.23 1278.21,797.4" fill="none" stroke="#ff7f0e" stroke-width="2.6" stroke-linejoin="round" stroke-linecap="butt" clip-path="url(#c775)"/>
<polyline points="676.75,1079.87 677.15,1068.79 677.54,1058.31 677.94,1048.4 678.34,1039.29 678.74,1030.96 679.13,1023.25 679.53,1016.07 679.93,1012.49 680.32,1019.11 680.72,1026.92 681.12,1035.46 681.52,1044.38 681.91,1053.28 682.31,1061.76 682.71,1069.05 683.1,1072.17 683.5,1066.57 683.9,1060.22 684.3,1053.1 684.69,1045.63 685.09,1038.13 685.49,1030.47 685.89,1023.37 686.28,1017.13 686.68,1011.73 687.08,1015.31 687.47,1019.77 687.87,1024.35 688.27,1028.28 688.67,1027.79 689.06,1025.75 689.46,1023.34 689.86,1020.79 690.25,1018.35 690.65,1016.38 691.05,1019.82 691.45,1025.78 691.84,1032.44 692.24,1039.7 692.64,1047.3 693.03,1054.75 693.43,1061.71 693.83,1067.91 694.23,1073.02 694.62,1069.8 695.02,1066 695.42,1061.68 695.82,1056.98 696.21,1052.47 696.61,1048.26 697.01,1044.24 697.4,1040.83 697.8,1041.5 698.2,1042.42 698.6,1043.44 698.99,1044.39 699.39,1045.07 699.79,1045.85 700.18,1043.85 700.58,1039.81 700.98,1035.59 701.38,1031.69 701.77,1028.48 702.17,1029.58 702.57,1030.97 702.96,1032.54 703.36,1032.39 703.76,1026.72 704.16,1020.08 704.55,1013.46 704.95,1006.88 705.35,1000.9 705.75,1000.52 706.14,1005.32 706.54,1010.77 706.94,1016.57 707.33,1022.23 707.73,1027.47 708.13,1032.01 708.53,1031.76 708.92,1029.83 709.32,1027.97 709.72,1026.1 710.11,1024.45 710.51,1027.46 710.91,1031.09 711.31,1035.01 711.7,1039.22 712.1,1043.77 712.5,1048.36 712.89,1052.86 713.29,1057.29 713.69,1061.59 714.09,1065.61 714.48,1069.09 714.88,1072.13 715.28,1068.31 715.68,1063.37 716.07,1057.89 716.47,1052.96 716.87,1050.4 717.26,1051.7 717.66,1053.05 718.06,1053.91 718.46,1049.07 718.85,1043.7 719.25,1037.78 719.65,1031.29 720.04,1024.65 720.44,1018.06 720.84,1011.64 721.24,1005.81 721.63,1000.79 722.03,999.98 722.43,1003.17 722.82,1007.07 723.22,1011.19 723.62,1015.46 724.02,1020 724.41,1024.32 724.81,1028.38 725.21,1032.2 725.61,1036.2 726,1040.27 726.4,1044.32 726.8,1048.38 727.19,1052.11 727.59,1055.54 727.99,1058.59 728.39,1055.59 728.78,1049.54 729.18,1042.71 729.58,1035.96 729.97,1030.26 730.37,1029.12 730.77,1031.73 731.17,1034.45 731.56,1036.74 731.96,1035.1 732.36,1029.37 732.75,1022.67 733.15,1015.27 733.55,1007.65 733.95,999.96 734.34,992.5 734.74,985.69 735.14,979.66 735.54,978.17 735.93,981.28 736.33,984.97 736.73,988.62 737.12,992 737.52,994.02 737.92,993.32 738.32,992.43 738.71,991.55 739.11,1006.45 739.51,1025.27 739.9,1045.07 740.3,1063.18 740.7,1072.36 741.1,1064.61 741.49,1055.44 741.89,1045.22 742.29,1034.58 742.69,1024.37 743.08,1015.03 743.48,1006.78 743.88,1005.53 744.27,1011.01 744.67,1017.44 745.07,1024.28 745.47,1031.42 745.86,1038.8 746.26,1045.94 746.66,1052.53 747.05,1058.22 747.45,1057.5 747.85,1050.26 748.25,1042.04 748.64,1033.09 749.04,1023.84 749.44,1014.95 749.83,1006.89 750.23,1000.02 750.63,1002.34 751.03,1008.73 751.42,1015.7 751.82,1022.15 752.22,1025.26 752.62,1021.12 753.01,1016.82 753.41,1015.98 753.81,1016.09 754.2,1016.25 754.6,1016.32 755,1016.27 755.4,1016.23 755.79,1019.12 756.19,1025.53 756.59,1019.87 756.98,1012.58 757.38,1004.59 757.78,996.82 758.18,989.89 758.57,986.91 758.97,992.55 759.37,999.11 759.76,1006.33 760.16,1013.91 760.56,1021.39 760.96,1028.7 761.35,1035.46 761.75,1041 762.15,1042.19 762.55,1042.21 762.94,1042.05 763.34,1041.9 763.74,1041.69 764.13,1045.08 764.53,1049.02 764.93,1048.24 765.33,1043.01 765.72,1036.89 766.12,1030.16 766.52,1023.44 766.91,1014.9 767.31,1003.32 767.71,990.99 768.11,978.52 768.5,966.58 768.9,956.18 769.3,951.91 769.69,961.08 770.09,971.48 770.49,983 770.89,995.22 771.28,1007.82 771.68,1020.74 772.08,1033.78 772.48,1046.38 772.87,1058.21 773.27,1069.09 773.67,1078.81 774.06,1083.73 774.46,1076.72 774.86,1068.38 775.26,1059.01 775.65,1049.45 776.05,1040.56 776.45,1032.75 776.84,1028.86 777.24,1033.44 777.64,1038.31 778.04,1040.37 778.43,1037.17 778.83,1033.55 779.23,1029.41 779.62,1025.23 780.02,1021.39 780.42,1018.13 780.82,1017.16 781.21,1016.67 781.61,1016.3 782.01,1020.84 782.41,1028.44 782.8,1036.22 783.2,1042.44 783.6,1038.99 783.99,1034.9 784.39,1030.25 784.79,1025.23 785.19,1020.49 785.58,1016.31 785.98,1012.69 786.38,1015.41 786.77,1020.9 787.17,1027.01 787.57,1033.69 787.97,1040.59 788.36,1047.16 788.76,1053.02 789.16,1058.03 789.55,1055.6 789.95,1049.87 790.35,1043.43 790.75,1036.86 791.14,1030.69 791.54,1026.14 791.94,1022.95 792.34,1020.19 792.73,1017.51 793.13,1014.74 793.53,1011.39 793.92,1006.3 794.32,1000.89 794.72,995.94 795.12,991.73 795.51,995.86 795.91,1004.05 796.31,1013.36 796.7,1023.3 797.1,1032.98 797.5,1041.82 797.9,1049.36 798.29,1047.92 798.69,1043.22 799.09,1037.97 799.48,1032.43 799.88,1026.58 800.28,1020.52 800.68,1014.45 801.07,1008.28 801.47,1002.08 801.87,996.21 802.27,990.81 802.66,986.16 803.06,982.36 803.46,987.86 803.85,994.2 804.25,1001.61 804.65,1009.63 805.05,1017.81 805.44,1025.88 805.84,1033.48 806.24,1040.44 806.63,1046.42 807.03,1044.79 807.43,1040 807.83,1034.78 808.22,1029.31 808.62,1024.13 809.02,1020.06 809.41,1023.67 809.81,1028.08 810.21,1033.18 810.61,1038.47 811,1043.6 811.4,1048.71 811.8,1053.45 812.2,1057.39 812.59,1058.23 812.99,1056.26 813.39,1054.04 813.78,1051.64 814.18,1048.86 814.58,1046 814.98,1041.67 815.37,1031.47 815.77,1020.11 816.17,1008.97 816.56,999.26 816.96,996.13 817.36,998.15 817.76,998.7 818.15,994.87 818.55,991.18 818.95,995.42 819.34,1003.49 819.74,1012.61 820.14,1021.68 820.54,1029.7 820.93,1033.39 821.33,1027.57 821.73,1020.52 822.13,1013.05 822.52,1005.44 822.92,997.84 823.32,990.93 823.71,985.08 824.11,983.95 824.51,987.43 824.91,991.63 825.3,996.08 825.7,1000.18 826.1,1003.43 826.49,1002.95 826.89,1001.11 827.29,999.36 827.69,1001 828.08,1004.32 828.48,1008.05 828.88,1011.62 829.27,1015.24 829.67,1018.98 830.07,1021.94 830.47,1023.99 830.86,1026.22 831.26,1028.15 831.66,1029.83 832.06,1031.47 832.45,1032.96 832.85,1029.26 833.25,1024.8 833.64,1019.51 834.04,1013.91 834.44,1008.18 834.84,1002.35 835.23,996.63 835.63,991.27 836.03,986.29 836.42,981.62 836.82,977.68 837.22,979.28 837.62,981 838.01,982.83 838.41,984.81 838.81,988.3 839.2,997.22 839.6,1007.24 840,1017.21 840.4,1025.94 840.79,1028.33 841.19,1025.55 841.59,1022.69 841.99,1021.79 842.38,1026.21 842.78,1031.7 843.18,1037.23 843.57,1041.56 843.97,1037.79 844.37,1030.8 844.77,1023 845.16,1014.55 845.56,1005.9 845.96,997.53 846.35,989.59 846.75,982.44 847.15,976.44 847.55,981.99 847.94,988.69 848.34,996.32 848.74,1004.41 849.13,1012.44 849.53,1020.18 849.93,1027.56 850.33,1034.17 850.72,1038 851.12,1037.17 851.52,1036.42 851.92,1035.61 852.31,1034.67 852.71,1033.69 853.11,1032.64 853.5,1022.96 853.9,1011.47 854.3,998.98 854.7,986.15 855.09,974.19 855.49,963.95 855.89,959.91 856.28,957.51 856.68,955.45 857.08,953.55 857.48,951.77 857.87,955.98 858.27,961.16 858.67,966.88 859.06,972.81 859.46,978.46 859.86,983.72 860.26,986.95 860.65,989.77 861.05,992.34 861.45,995.06 861.85,1001.04 862.24,1007.82 862.64,1014.99 863.04,1022.28 863.43,1029.43 863.83,1036.31 864.23,1042.54 864.63,1047.85 865.02,1050.17 865.42,1050.22 865.82,1050.54 866.21,1052.41 866.61,1060.2 867.01,1069.34 867.41,1077.66 867.8,1078.12 868.2,1071.69 868.6,1064.15 868.99,1056.13 869.39,1048.12 869.79,1040.41 870.19,1033.57 870.58,1029.2 870.98,1028.81 871.38,1028.4 871.78,1028.07 872.17,1024.76 872.57,1017.08 872.97,1008.34 873.36,999.3 873.76,990.32 874.16,981.96 874.56,974.85 874.95,974.54 875.35,976.49 875.75,978.66 876.14,981.08 876.54,985.41 876.94,996.03 877.34,1007.96 877.73,1019.96 878.13,1030.42 878.53,1032.44 878.92,1027.29 879.32,1021.48 879.72,1015.15 880.12,1008.48 880.51,1002.17 880.91,996.55 881.31,991.73 881.71,995.06 882.1,1002.33 882.5,1010.19 882.9,1017.88 883.29,1024.83 883.69,1028.45 884.09,1025 884.49,1021.53 884.88,1022.15 885.28,1024.24 885.68,1026.63 886.07,1028.94 886.47,1030.86 886.87,1032.94 887.27,1035.1 887.66,1036.85 888.06,1033.44 888.46,1027.45 888.85,1020.66 889.25,1013.67 889.65,1007.29 890.05,1003.29 890.44,1000.97 890.84,998.82 891.24,996.84 891.64,995.13 892.03,994.73 892.43,994.82 892.83,994.97 893.22,994.93 893.62,994.79 894.02,994.73 894.42,1000.53 894.81,1007.58 895.21,1015.19 895.61,1022.97 896,1030.36 896.4,1036.5 896.8,1033.49 897.2,1026.36 897.59,1018.39 897.99,1010.63 898.39,1003.6 898.78,1000.61 899.18,1007 899.58,1014.45 899.98,1022.55 900.37,1030.93 900.77,1039.09 901.17,1046.81 901.57,1053.47 901.96,1053.41 902.36,1046.89 902.76,1039.48 903.15,1031.5 903.55,1023.25 903.95,1015.12 904.35,1007.45 904.74,1000.58 905.14,994.88 905.54,1002.42 905.93,1011.37 906.33,1021.36 906.73,1032 907.13,1042.82 907.52,1053.46 907.92,1063.82 908.32,1073.45 908.72,1081.63 909.11,1083.49 909.51,1079.44 909.91,1074.41 910.3,1068.91 910.7,1063.68 911.1,1059.08 911.5,1055.07 911.89,1056.31 912.29,1060.05 912.69,1064.43 913.08,1068.79 913.48,1073.06 913.88,1076.92 914.28,1080 914.67,1070.97 915.07,1059.98 915.47,1047.55 915.86,1034.6 916.26,1021.98 916.66,1010.46 917.06,1000.82 917.45,1003.2 917.85,1010.57 918.25,1018.89 918.65,1027.21 919.04,1034.53 919.44,1037.95 919.84,1033.58 920.23,1028.25 920.63,1022.53 921.03,1017.12 921.43,1012.47 921.82,1013.49 922.22,1016.71 922.62,1020.35 923.01,1024.16 923.41,1027.98 923.81,1031.73 924.21,1035.08 924.6,1037.84 925,1034.19 925.4,1027.35 925.79,1019.86 926.19,1012.46 926.59,1006.11 926.99,1004.06 927.38,1005.2 927.78,1006.61 928.18,1008.23 928.58,1011.25 928.97,1019.29 929.37,1028.06 929.77,1036.27 930.16,1043.02 930.56,1038.27 930.96,1032.66 931.36,1026.34 931.75,1019.38 932.15,1012.37 932.55,1005.6 932.94,998.74 933.34,992.18 933.74,986.6 934.14,981.85 934.53,983.96 934.93,986.66 935.33,989.5 935.72,992.26 936.12,995.31 936.52,998.52 936.92,1001.6 937.31,1004.32 937.71,1002.63 938.11,995.38 938.51,987.06 938.9,979.21 939.3,973.26 939.7,976.5 940.09,980.29 940.49,984.26 940.89,988.27 941.29,992.16 941.68,995.54 942.08,994.43 942.48,988.45 942.87,981.66 943.27,974.45 943.67,967.11 944.07,960.23 944.46,954.22 944.86,951.72 945.26,957.96 945.65,965.25 946.05,972.02 946.45,972.9 946.85,968.66 947.24,964.38 947.64,962.92 948.04,968.32 948.44,974.85 948.83,982.06 949.23,989.57 949.63,997.1 950.02,1004.21 950.42,1010.72 950.82,1016.34 951.22,1013.99 951.61,1008.12 952.01,1001.5 952.41,994.78 952.8,988.42 953.2,983.04 953.6,987.3 954,995.75 954.39,1005.33 954.79,1015.63 955.19,1025.95 955.58,1035.53 955.98,1044.05 956.38,1047.81 956.78,1050.16 957.17,1052.27 957.57,1054.04 957.97,1055.77 958.37,1057.61 958.76,1059.2 959.16,1057.31 959.56,1053.74 959.95,1049.72 960.35,1045.54 960.75,1041.5 961.15,1037.73 961.54,1034.46 961.94,1033.57 962.34,1034.68 962.73,1035.66 963.13,1033.92 963.53,1028.75 963.93,1022.99 964.32,1017.75 964.72,1017.53 965.12,1022.04 965.51,1026.6 965.91,1029.02 966.31,1027.27 966.71,1024.9 967.1,1022.39 967.5,1020.48 967.9,1021.24 968.3,1023.03 968.69,1023.72 969.09,1021.69 969.49,1019.38 969.88,1017.21 970.28,1018.51 970.68,1024.28 971.08,1029.27 971.47,1022.12 971.87,1013.62 972.27,1004.39 972.66,994.78 973.06,985.13 973.46,975.8 973.86,967.3 974.25,960.28 974.65,967.87 975.05,977.28 975.44,987.62 975.84,998.09 976.24,1007.84 976.64,1016.03 977.03,1015.56 977.43,1011.85 977.83,1008 978.23,1004.65 978.62,1004.92 979.02,1008.66 979.42,1013.04 979.81,1017.79 980.21,1022.73 980.61,1027.54 981.01,1032.28 981.4,1037.04 981.8,1041.45 982.2,1045.22 982.59,1045.91 982.99,1043.63 983.39,1040.87 983.79,1037.87 984.18,1034.82 984.58,1031.9 984.98,1028.9 985.37,1026.11 985.77,1024.24 986.17,1024.78 986.57,1024.98 986.96,1025.28 987.36,1025.83 987.76,1026.44 988.16,1026.9 988.55,1027.28 988.95,1027.77 989.35,1028.38 989.74,1028.95 990.14,1030.08 990.54,1031.97 990.94,1033.79 991.33,1035.53 991.73,1037.04 992.13,1029.47 992.52,1020.1 992.92,1009.91 993.32,999.78 993.72,990.49 994.11,985.87 994.51,990.86 994.91,996.69 995.3,1002.92 995.7,1009.59 996.1,1016.4 996.5,1022.72 996.89,1028.46 997.29,1033.49 997.69,1032.83 998.09,1029.82 998.48,1026.68 998.88,1024.15 999.28,1029.44 999.67,1035.75 1000.07,1042.6 1000.47,1049.9 1000.87,1057.34 1001.26,1064.45 1001.66,1070.98 1002.06,1076.58 1002.45,1074.07 1002.85,1068.17 1003.25,1061.56 1003.65,1054.43 1004.04,1047.14 1004.44,1040.19 1004.84,1033.76 1005.23,1027.84 1005.63,1024.58 1006.03,1027.03 1006.43,1029.95 1006.82,1033.09 1007.22,1036.25 1007.62,1039.51 1008.02,1042.57 1008.41,1045.14 1008.81,1046.71 1009.21,1046.61 1009.6,1046.41 1010,1046.08 1010.4,1045.73 1010.8,1043.58 1011.19,1039.1 1011.59,1033.95 1011.99,1028.49 1012.38,1023.15 1012.78,1017.91 1013.18,1012.87 1013.58,1008.63 1013.97,1011.2 1014.37,1016.61 1014.77,1022.6 1015.16,1028.87 1015.56,1035.03 1015.96,1040.84 1016.36,1045.9 1016.75,1045.25 1017.15,1042.27 1017.55,1038.86 1017.95,1035.23 1018.34,1031.68 1018.74,1028.63 1019.14,1026.06 1019.53,1024.97 1019.93,1025.09 1020.33,1025.4 1020.73,1025.91 1021.12,1026.5 1021.52,1027.09 1021.92,1027.72 1022.31,1028.36 1022.71,1028.68 1023.11,1028.9 1023.51,1029.19 1023.9,1026.8 1024.3,1020.73 1024.7,1013.8 1025.09,1006.77 1025.49,1000.41 1025.89,997.68 1026.29,996.14 1026.68,994.73 1027.08,993.42 1027.48,992.13 1027.88,990.91 1028.27,990.6 1028.67,990.85 1029.07,990.9 1029.46,990.8 1029.86,990.74 1030.26,990.8 1030.66,997.02 1031.05,1007.45 1031.45,1018.75 1031.85,1029.01 1032.24,1033.93 1032.64,1028.95 1033.04,1023.2 1033.44,1016.86 1033.83,1010.18 1034.23,1003.5 1034.63,997.22 1035.02,991.87 1035.42,993.81 1035.82,1003.21 1036.22,1013.72 1036.61,1025.12 1037.01,1037.01 1037.41,1048.53 1037.81,1058.86 1038.2,1067.58 1038.6,1066.54 1039,1061.84 1039.39,1056.38 1039.79,1050.5 1040.19,1044.65 1040.59,1039.36 1040.98,1034.83 1041.38,1034.5 1041.78,1038.71 1042.17,1043.7 1042.57,1048.94 1042.97,1053.51 1043.37,1052.95 1043.76,1047.53 1044.16,1041.34 1044.56,1034.55 1044.95,1027.62 1045.35,1021.31 1045.75,1015.99 1046.15,1017.54 1046.54,1022.12 1046.94,1027.46 1047.34,1033.06 1047.74,1038.5 1048.13,1043.41 1048.53,1047.87 1048.93,1049.88 1049.32,1044.79 1049.72,1038.44 1050.12,1031.67 1050.52,1024.8 1050.91,1018.1 1051.31,1012.11 1051.71,1007.3 1052.1,1012.77 1052.5,1019.29 1052.9,1026.89 1053.3,1034.91 1053.69,1042.77 1054.09,1050.45 1054.49,1057.75 1054.88,1064.2 1055.28,1066.98 1055.68,1060.65 1056.08,1053.15 1056.47,1045.02 1056.87,1036.43 1057.27,1027.48 1057.67,1018.48 1058.06,1009.31 1058.46,1000.1 1058.86,991.39 1059.25,983.35 1059.65,975.96 1060.05,969.58 1060.45,973.49 1060.84,981.59 1061.24,990.79 1061.64,1000.79 1062.03,1011.32 1062.43,1022.14 1062.83,1033.04 1063.23,1043.68 1063.62,1053.43 1064.02,1062.16 1064.42,1070.02 1064.81,1069.44 1065.21,1060.06 1065.61,1049.15 1066.01,1037.02 1066.4,1024.4 1066.8,1011.62 1067.2,999.12 1067.6,987.48 1067.99,976.71 1068.39,966.8 1068.79,966.81 1069.18,977.4 1069.58,989.54 1069.98,1002.58 1070.38,1016.12 1070.77,1029.58 1071.17,1042.56 1071.57,1054.4 1071.96,1064.64 1072.36,1067.6 1072.76,1063.66 1073.16,1059.05 1073.55,1054.83 1073.95,1052.69 1074.35,1051.09 1074.75,1049.54 1075.14,1048 1075.54,1046.62 1075.94,1045.44 1076.33,1047.38 1076.73,1049.97 1077.13,1052.63 1077.53,1053.51 1077.92,1050.43 1078.32,1046.82 1078.72,1042.73 1079.11,1038.56 1079.51,1034.51 1079.91,1030.59 1080.31,1026.72 1080.7,1022.77 1081.1,1019.27 1081.5,1016.38 1081.89,1018.69 1082.29,1021.62 1082.69,1024.08 1083.09,1021.11 1083.48,1017.52 1083.88,1013.62 1084.28,1009.96 1084.68,1008.54 1085.07,1012.1 1085.47,1016.55 1085.87,1021.45 1086.26,1026.34 1086.66,1031.23 1087.06,1035.62 1087.46,1039.27 1087.85,1040.69 1088.25,1040.25 1088.65,1039.61 1089.04,1038.75 1089.44,1037.87 1089.84,1037.17 1090.24,1038.35 1090.63,1040.72 1091.03,1043.29 1091.43,1045.29 1091.82,1042.2 1092.22,1036.71 1092.62,1030.64 1093.02,1024.58 1093.41,1019.1 1093.81,1015.98 1094.21,1017.87 1094.61,1019.87 1095,1018.76 1095.4,1016.18 1095.8,1013.46 1096.19,1010.95 1096.59,1008.67 1096.99,1009.67 1097.39,1014.2 1097.78,1019.2 1098.18,1024.43 1098.58,1029.66 1098.97,1034.39 1099.37,1036.87 1099.77,1034.79 1100.17,1032.36 1100.56,1030.27 1100.96,1031.52 1101.36,1036.26 1101.75,1041.77 1102.15,1047.7 1102.55,1053.86 1102.95,1059.99 1103.34,1065.51 1103.74,1070.16 1104.14,1068.27 1104.54,1059.1 1104.93,1048.45 1105.33,1036.67 1105.73,1024.56 1106.12,1012.99 1106.52,1002.21 1106.92,992.46 1107.32,987.23 1107.71,991.77 1108.11,997.11 1108.51,1002.85 1108.9,1008.62 1109.3,1013.68 1109.7,1017.73 1110.1,1016.92 1110.49,1015.9 1110.89,1014.9 1111.29,1013.92 1111.68,1012.82 1112.08,1011.63 1112.48,1010.28 1112.88,1001.68 1113.27,991.83 1113.67,981.09 1114.07,969.74 1114.47,958.51 1114.86,948.18 1115.26,939.13 1115.66,934.77 1116.05,941.87 1116.45,950.38 1116.85,959.42 1117.25,968.38 1117.64,976.66 1118.04,983.56 1118.44,984.1 1118.83,984.58 1119.23,985.05 1119.63,985.35 1120.03,985.59 1120.42,986.1 1120.82,988.37 1121.22,993.07 1121.61,998.13 1122.01,1002.66 1122.41,1003.77 1122.81,1002.04 1123.2,1000.18 1123.6,998.31 1124,996.58 1124.4,996.14 1124.79,998.81 1125.19,1002.02 1125.59,1005.73 1125.98,1009.57 1126.38,1015.18 1126.78,1027.84 1127.18,1042.16 1127.57,1057.09 1127.97,1071.92 1128.37,1085.48 1128.76,1096.77 1129.16,1093.28 1129.56,1083.91 1129.96,1073.25 1130.35,1061.91 1130.75,1050.88 1131.15,1040.62 1131.54,1031.61 1131.94,1028.4 1132.34,1029.54 1132.74,1030.71 1133.13,1032.2 1133.53,1035.64 1133.93,1041.83 1134.33,1048.44 1134.72,1054.14 1135.12,1054.22 1135.52,1052.53 1135.91,1050.51 1136.31,1048.4 1136.71,1046.88 1137.11,1046.99 1137.5,1046.87 1137.9,1046.55 1138.3,1046.38 1138.69,1046.33 1139.09,1044.07 1139.49,1038.48 1139.89,1032.18 1140.28,1026.42 1140.68,1023.74 1141.08,1023.07 1141.47,1022.34 1141.87,1021.53 1142.27,1020.98 1142.67,1023.98 1143.06,1028.89 1143.46,1034.28 1143.86,1039.9 1144.26,1045.2 1144.65,1049.65 1145.05,1051.35 1145.45,1050.99 1145.84,1050.45 1146.24,1048.98 1146.64,1043.64 1147.04,1037.18 1147.43,1030.67 1147.83,1024.88 1148.23,1020.19 1148.62,1022.15 1149.02,1024.49 1149.42,1027.19 1149.82,1029.98 1150.21,1032.35 1150.61,1033.32 1151.01,1030.87 1151.4,1027.82 1151.8,1024.66 1152.2,1021.64 1152.6,1018.79 1152.99,1016.32 1153.39,1016.61 1153.79,1017.11 1154.19,1017.52 1154.58,1017.72 1154.98,1017.38 1155.38,1015.11 1155.77,1012.22 1156.17,1009.01 1156.57,1006.12 1156.97,1003.69 1157.36,1007.15 1157.76,1013.43 1158.16,1020.74 1158.55,1028.73 1158.95,1036.91 1159.35,1044.97 1159.75,1052.69 1160.14,1059.7 1160.54,1065.75 1160.94,1066.58 1161.33,1062.17 1161.73,1057.11 1162.13,1051.93 1162.53,1046.91 1162.92,1042.47 1163.32,1041.26 1163.72,1040.91 1164.12,1040.54 1164.51,1040.3 1164.91,1036.22 1165.31,1029.48 1165.7,1022.29 1166.1,1015.8 1166.5,1011.96 1166.9,1011.9 1167.29,1011.83 1167.69,1012.1 1168.09,1012.41 1168.48,1013.47 1168.88,1018.9 1169.28,1024.86 1169.68,1029.65 1170.07,1023.4 1170.47,1015.42 1170.87,1007.49 1171.26,1003.26 1171.66,1005.27 1172.06,1007.13 1172.46,1003.47 1172.85,998.93 1173.25,994.48 1173.65,990.78 1174.05,995.57 1174.44,1001.48 1174.84,1008.22 1175.24,1015.31 1175.63,1022.5 1176.03,1029.5 1176.43,1036.11 1176.83,1042.09 1177.22,1046.85 1177.62,1037.5 1178.02,1026.35 1178.41,1013.91 1178.81,1000.95 1179.21,988.19 1179.61,976.38 1180,966.47 1180.4,965.21 1180.8,966.59 1181.19,967.9 1181.59,969.01 1181.99,969.27 1182.39,967.9 1182.78,966.39 1183.18,964.8 1183.58,963.24 1183.98,961.83 1184.37,960.76 1184.77,963.18 1185.17,966.03 1185.56,969.41 1185.96,972.92 1186.36,976.18 1186.76,979.34 1187.15,982.31 1187.55,980.22 1187.95,971.78 1188.34,962.08 1188.74,952.28 1189.14,943.29 1189.54,938.59 1189.93,942 1190.33,946.02 1190.73,950.33 1191.12,954.51 1191.52,958.36 1191.92,961.43 1192.32,952.38 1192.71,941.32 1193.11,930 1193.51,919.52 1193.91,915.47 1194.3,926.05 1194.7,938.44 1195.1,952.12 1195.49,966.34 1195.89,980.37 1196.29,993.45 1196.69,1004.9 1197.08,1010.71 1197.48,1003.69 1197.88,995.18 1198.27,985.77 1198.67,976.06 1199.07,966.93 1199.47,959.11 1199.86,954.24 1200.26,954.04 1200.66,953.95 1201.05,952.66 1201.45,946.42 1201.85,939.12 1202.25,930.88 1202.64,922.1 1203.04,913.71 1203.44,906.01 1203.84,898.97 1204.23,895.61 1204.63,901.79 1205.03,909.46 1205.42,917.59 1205.82,925.03 1206.22,929.1 1206.62,930.79 1207.01,932.32 1207.41,933.83 1207.81,935.51 1208.2,937.26 1208.6,940.08 1209,946.72 1209.4,954.16 1209.79,962.2 1210.19,970.56 1210.59,978.68 1210.98,986.34 1211.38,993.36 1211.78,999.29 1212.18,996.27 1212.57,989.48 1212.97,981.5 1213.37,972.97 1213.77,964.41 1214.16,955.88 1214.56,947.82 1214.96,940.58 1215.35,934.58 1215.75,936.33 1216.15,938.31 1216.55,940.23 1216.94,942.03 1217.34,939.54 1217.74,934.69 1218.13,929.04 1218.53,923.36 1218.93,917.93 1219.33,912.89 1219.72,910.91 1220.12,916.54 1220.52,923.44 1220.91,930.83 1221.31,938.27 1221.71,945.44 1222.11,951.87 1222.5,957.21 1222.9,951.86 1223.3,945.4 1223.7,938.02 1224.09,930.27 1224.49,922.54 1224.89,914.86 1225.28,907.63 1225.68,901.36 1226.08,897.9 1226.48,900.14 1226.87,902.92 1227.27,905.69 1227.67,907.07 1228.06,906.61 1228.46,906.3 1228.86,905.95 1229.26,910.68 1229.65,923.52 1230.05,936.48 1230.45,935.89 1230.84,922.85 1231.24,907.8 1231.64,891.49 1232.04,874.71 1232.43,858.24 1232.83,841.89 1233.23,826.41 1233.63,812.51 1234.02,800.63 1234.42,800.8 1234.82,805.08 1235.21,809.71 1235.61,814.52 1236.01,819.57 1236.41,824.77 1236.8,836.01 1237.2,848.47 1237.6,861.65 1237.99,875.26 1238.39,889.31 1238.79,902.79 1239.19,915.13 1239.58,925.88 1239.98,927.18 1240.38,919.16 1240.78,909.88 1241.17,899.94 1241.57,889.96 1241.97,880.58 1242.36,872.41 1242.76,868.18 1243.16,872.72 1243.56,878.19 1243.95,883.71 1244.35,888.32 1244.75,888.02 1245.14,886.13 1245.54,883.73 1245.94,879.58 1246.34,873.44 1246.73,866.73 1247.13,859.67 1247.53,852.7 1247.92,846.22 1248.32,840.3 1248.72,835.33 1249.12,839.88 1249.51,844.99 1249.91,850.52 1250.31,856.42 1250.71,862.62 1251.1,869.12 1251.5,875.8 1251.9,882.63 1252.29,889.07 1252.69,895.15 1253.09,900.86 1253.49,905.83 1253.88,907.56 1254.28,900.88 1254.68,893.13 1255.07,884.54 1255.47,875.52 1255.87,867.06 1256.27,859.44 1256.66,852.89 1257.06,856.78 1257.46,865.5 1257.85,875.33 1258.25,885.94 1258.65,895.82 1259.05,903.93 1259.44,900.26 1259.84,891.76 1260.24,882.07 1260.64,872.1 1261.03,862.43 1261.43,853.17 1261.83,844.94 1262.22,841.6 1262.62,838.19 1263.02,835.01 1263.42,831.98 1263.81,828.99 1264.21,826.34 1264.61,823.98 1265,823.5 1265.4,829 1265.8,835.51 1266.2,842.45 1266.59,849.67 1266.99,856.98 1267.39,864.23 1267.78,871.03 1268.18,876.78 1268.58,879.41 1268.98,874.24 1269.37,868.21 1269.77,861.84 1270.17,856.09 1270.57,851.62 1270.96,856.83 1271.36,863.11 1271.76,870.16 1272.15,877.48 1272.55,884.52 1272.95,890.52 1273.35,890.21 1273.74,883.23 1274.14,875.07 1274.54,866.97 1274.93,859.93 1275.33,856.69 1275.73,861.51 1276.13,856.87 1276.52,840.23 1276.92,821.63 1277.32,804.17 1277.71,793.85 1278.11,793.93" fill="none" stroke="#7f8088" stroke-width="0.75" stroke-linejoin="round" stroke-linecap="butt" clip-path="url(#c775)" stroke-opacity="0.9"/>
<line x1="676.6" y1="1091.5" x2="679.6" y2="1091.5" stroke="#777777" stroke-width="0.9"/>
<text transform="translate(673.6,1094.53) scale(0.880,1.080)" font-family="'DejaVu Sans','Liberation Sans',sans-serif" font-size="7.8" text-anchor="end" fill="#333333" stroke="#333333" stroke-width="0.22">0.05</text>
<line x1="676.6" y1="1051.7" x2="679.6" y2="1051.7" stroke="#777777" stroke-width="0.9"/>
<text transform="translate(673.6,1054.73) scale(0.880,1.080)" font-family="'DejaVu Sans','Liberation Sans',sans-serif" font-size="7.8" text-anchor="end" fill="#333333" stroke="#333333" stroke-width="0.22">0.10</text>
<line x1="676.6" y1="1011.9" x2="679.6" y2="1011.9" stroke="#777777" stroke-width="0.9"/>
<text transform="translate(673.6,1014.93) scale(0.880,1.080)" font-family="'DejaVu Sans','Liberation Sans',sans-serif" font-size="7.8" text-anchor="end" fill="#333333" stroke="#333333" stroke-width="0.22">0.15</text>
<line x1="676.6" y1="972.1" x2="679.6" y2="972.1" stroke="#777777" stroke-width="0.9"/>
<text transform="translate(673.6,975.13) scale(0.880,1.080)" font-family="'DejaVu Sans','Liberation Sans',sans-serif" font-size="7.8" text-anchor="end" fill="#333333" stroke="#333333" stroke-width="0.22">0.20</text>
<line x1="676.6" y1="932.3" x2="679.6" y2="932.3" stroke="#777777" stroke-width="0.9"/>
<text transform="translate(673.6,935.33) scale(0.880,1.080)" font-family="'DejaVu Sans','Liberation Sans',sans-serif" font-size="7.8" text-anchor="end" fill="#333333" stroke="#333333" stroke-width="0.22">0.25</text>
<line x1="676.6" y1="892.5" x2="679.6" y2="892.5" stroke="#777777" stroke-width="0.9"/>
<text transform="translate(673.6,895.53) scale(0.880,1.080)" font-family="'DejaVu Sans','Liberation Sans',sans-serif" font-size="7.8" text-anchor="end" fill="#333333" stroke="#333333" stroke-width="0.22">0.30</text>
<line x1="676.6" y1="852.7" x2="679.6" y2="852.7" stroke="#777777" stroke-width="0.9"/>
<text transform="translate(673.6,855.73) scale(0.880,1.080)" font-family="'DejaVu Sans','Liberation Sans',sans-serif" font-size="7.8" text-anchor="end" fill="#333333" stroke="#333333" stroke-width="0.22">0.35</text>
<line x1="676.6" y1="812.9" x2="679.6" y2="812.9" stroke="#777777" stroke-width="0.9"/>
<text transform="translate(673.6,815.93) scale(0.880,1.080)" font-family="'DejaVu Sans','Liberation Sans',sans-serif" font-size="7.8" text-anchor="end" fill="#333333" stroke="#333333" stroke-width="0.22">0.40</text>
<line x1="676.6" y1="1113.5" x2="676.6" y2="1110.5" stroke="#777777" stroke-width="0.9"/>
<text transform="translate(676.6,1124.13) scale(0.880,1.080)" font-family="'DejaVu Sans','Liberation Sans',sans-serif" font-size="7.8" text-anchor="middle" fill="#333333" stroke="#333333" stroke-width="0.22">0</text>
<line x1="721.27" y1="1113.5" x2="721.27" y2="1110.5" stroke="#777777" stroke-width="0.9"/>
<text transform="translate(721.27,1124.13) scale(0.880,1.080)" font-family="'DejaVu Sans','Liberation Sans',sans-serif" font-size="7.8" text-anchor="middle" fill="#333333" stroke="#333333" stroke-width="0.22">800</text>
<line x1="765.95" y1="1113.5" x2="765.95" y2="1110.5" stroke="#777777" stroke-width="0.9"/>
<text transform="translate(765.95,1124.13) scale(0.880,1.080)" font-family="'DejaVu Sans','Liberation Sans',sans-serif" font-size="7.8" text-anchor="middle" fill="#333333" stroke="#333333" stroke-width="0.22">1600</text>
<line x1="810.62" y1="1113.5" x2="810.62" y2="1110.5" stroke="#777777" stroke-width="0.9"/>
<text transform="translate(810.62,1124.13) scale(0.880,1.080)" font-family="'DejaVu Sans','Liberation Sans',sans-serif" font-size="7.8" text-anchor="middle" fill="#333333" stroke="#333333" stroke-width="0.22">2400</text>
<line x1="855.3" y1="1113.5" x2="855.3" y2="1110.5" stroke="#777777" stroke-width="0.9"/>
<text transform="translate(855.3,1124.13) scale(0.880,1.080)" font-family="'DejaVu Sans','Liberation Sans',sans-serif" font-size="7.8" text-anchor="middle" fill="#333333" stroke="#333333" stroke-width="0.22">3200</text>
<line x1="899.97" y1="1113.5" x2="899.97" y2="1110.5" stroke="#777777" stroke-width="0.9"/>
<text transform="translate(899.97,1124.13) scale(0.880,1.080)" font-family="'DejaVu Sans','Liberation Sans',sans-serif" font-size="7.8" text-anchor="middle" fill="#333333" stroke="#333333" stroke-width="0.22">4000</text>
<line x1="944.64" y1="1113.5" x2="944.64" y2="1110.5" stroke="#777777" stroke-width="0.9"/>
<text transform="translate(944.64,1124.13) scale(0.880,1.080)" font-family="'DejaVu Sans','Liberation Sans',sans-serif" font-size="7.8" text-anchor="middle" fill="#333333" stroke="#333333" stroke-width="0.22">4800</text>
<line x1="989.32" y1="1113.5" x2="989.32" y2="1110.5" stroke="#777777" stroke-width="0.9"/>
<text transform="translate(989.32,1124.13) scale(0.880,1.080)" font-family="'DejaVu Sans','Liberation Sans',sans-serif" font-size="7.8" text-anchor="middle" fill="#333333" stroke="#333333" stroke-width="0.22">5600</text>
<line x1="1033.99" y1="1113.5" x2="1033.99" y2="1110.5" stroke="#777777" stroke-width="0.9"/>
<text transform="translate(1033.99,1124.13) scale(0.880,1.080)" font-family="'DejaVu Sans','Liberation Sans',sans-serif" font-size="7.8" text-anchor="middle" fill="#333333" stroke="#333333" stroke-width="0.22">6400</text>
<line x1="1078.67" y1="1113.5" x2="1078.67" y2="1110.5" stroke="#777777" stroke-width="0.9"/>
<text transform="translate(1078.67,1124.13) scale(0.880,1.080)" font-family="'DejaVu Sans','Liberation Sans',sans-serif" font-size="7.8" text-anchor="middle" fill="#333333" stroke="#333333" stroke-width="0.22">7200</text>
<line x1="1123.34" y1="1113.5" x2="1123.34" y2="1110.5" stroke="#777777" stroke-width="0.9"/>
<text transform="translate(1123.34,1124.13) scale(0.880,1.080)" font-family="'DejaVu Sans','Liberation Sans',sans-serif" font-size="7.8" text-anchor="middle" fill="#333333" stroke="#333333" stroke-width="0.22">8000</text>
<line x1="1168.01" y1="1113.5" x2="1168.01" y2="1110.5" stroke="#777777" stroke-width="0.9"/>
<text transform="translate(1168.01,1124.13) scale(0.880,1.080)" font-family="'DejaVu Sans','Liberation Sans',sans-serif" font-size="7.8" text-anchor="middle" fill="#333333" stroke="#333333" stroke-width="0.22">8800</text>
<line x1="1212.69" y1="1113.5" x2="1212.69" y2="1110.5" stroke="#777777" stroke-width="0.9"/>
<text transform="translate(1212.69,1124.13) scale(0.880,1.080)" font-family="'DejaVu Sans','Liberation Sans',sans-serif" font-size="7.8" text-anchor="middle" fill="#333333" stroke="#333333" stroke-width="0.22">9600</text>
<line x1="1257.36" y1="1113.5" x2="1257.36" y2="1110.5" stroke="#777777" stroke-width="0.9"/>
<text transform="translate(1257.36,1124.13) scale(0.880,1.080)" font-family="'DejaVu Sans','Liberation Sans',sans-serif" font-size="7.8" text-anchor="middle" fill="#333333" stroke="#333333" stroke-width="0.22">10400</text>
<rect x="676.6" y="775.3" width="603.1" height="338.2" fill="none" stroke="#777777" stroke-width="1.1"/>
<rect x="681.4" y="780.4" width="86.9" height="35.8" rx="2" ry="2" fill="#ffffff" fill-opacity="0.8" stroke="#d4d4d4" stroke-width="0.8"/>
<line x1="684.6" y1="789.6" x2="707" y2="789.6" stroke="#1f77b4" stroke-width="3"/>
<text transform="translate(714.3,789.6) scale(1.000,1.050)" font-family="'DejaVu Sans','Liberation Sans',sans-serif" font-size="10.1" text-anchor="start" fill="#333333" stroke="#333333" stroke-width="0.22" dominant-baseline="central">Test data</text>
<line x1="684.6" y1="806.3" x2="707" y2="806.3" stroke="#ff7f0e" stroke-width="1.6"/>
<text transform="translate(714.3,806.3) scale(1.000,1.050)" font-family="'DejaVu Sans','Liberation Sans',sans-serif" font-size="10.1" text-anchor="start" fill="#333333" stroke="#333333" stroke-width="0.22" dominant-baseline="central">Prediction</text>
<text transform="translate(978.3,1139.3) scale(0.966,1.050)" font-family="'Liberation Serif','DejaVu Serif',serif" font-size="14.7" text-anchor="middle" fill="#333333" stroke="#333333" stroke-width="0.22">Time (second)</text>
<text transform="translate(652,945.6) rotate(-90) scale(1.030,1.000)" font-family="'Liberation Serif','DejaVu Serif',serif" font-size="15.1" text-anchor="middle" fill="#333333" stroke="#333333" stroke-width="0.22">PM2.5 (µg/m3)</text>
</g>
<g>
<text transform="translate(281.5,397.8)" font-family="'Liberation Serif','DejaVu Serif',serif" font-size="25" text-anchor="middle" fill="#111">(<tspan font-weight="bold">a</tspan>)</text>
<text transform="translate(935.7,397.8)" font-family="'Liberation Serif','DejaVu Serif',serif" font-size="25" text-anchor="middle" fill="#111">(<tspan font-weight="bold">b</tspan>)</text>
<text transform="translate(281.5,762.6)" font-family="'Liberation Serif','DejaVu Serif',serif" font-size="25" text-anchor="middle" fill="#111">(<tspan font-weight="bold">c</tspan>)</text>
<text transform="translate(935.5,763.3)" font-family="'Liberation Serif','DejaVu Serif',serif" font-size="25" text-anchor="middle" fill="#111">(<tspan font-weight="bold">d</tspan>)</text>
<text transform="translate(281.5,1173.5)" font-family="'Liberation Serif','DejaVu Serif',serif" font-size="25" text-anchor="middle" fill="#111">(<tspan font-weight="bold">e</tspan>)</text>
<text transform="translate(935.2,1172)" font-family="'Liberation Serif','DejaVu Serif',serif" font-size="25" text-anchor="middle" fill="#111">(<tspan font-weight="bold">f</tspan>)</text>
</g>
</svg>
</body></html>
